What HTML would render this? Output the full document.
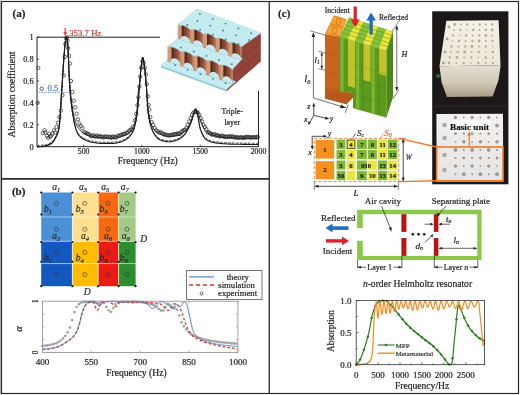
<!DOCTYPE html>
<html><head><meta charset="utf-8"><title>Figure</title>
<style>html,body{margin:0;padding:0;background:#fff;} svg{display:block;}</style></head>
<body><svg width="520" height="395" viewBox="0 0 520 395">
<rect x="0" y="0" width="520" height="395" fill="#fff"/>
<line x1="0.5" y1="0" x2="0.5" y2="395" stroke="#bbb" stroke-width="1"/>
<rect x="1.5" y="1.5" width="517" height="392" fill="none" stroke="#2a2a2a" stroke-width="1.2"/>
<line x1="269.25" y1="1" x2="269.25" y2="394" stroke="#2a2a2a" stroke-width="1.3"/>
<line x1="1" y1="178.9" x2="269.25" y2="178.9" stroke="#2a2a2a" stroke-width="1.6"/>
<text x="12.6" y="17.3" font-size="11" text-anchor="start" fill="#222" font-weight="bold" font-style="normal" font-family="'Liberation Serif', serif"  stroke="#222" stroke-width="0.2">(a)</text>
<path d="M37 146.7 L37.2 146.7 L37.5 146.7 L37.7 146.7 L37.9 146.7 L38.2 146.7 L38.4 146.7 L38.6 146.7 L38.9 146.7 L39.1 146.6 L39.3 146.6 L39.6 146.6 L39.8 146.6 L40 146.6 L40.3 146.6 L40.5 146.6 L40.7 146.5 L41 146.5 L41.2 146.5 L41.4 146.5 L41.7 146.5 L41.9 146.4 L42.1 146.4 L42.4 146.4 L42.6 146.4 L42.8 146.4 L43.1 146.3 L43.3 146.3 L43.5 146.3 L43.8 146.2 L44 146.2 L44.2 146.2 L44.5 146.2 L44.7 146.1 L44.9 146.1 L45.2 146.1 L45.4 146 L45.6 146 L45.9 145.9 L46.1 145.9 L46.3 145.8 L46.6 145.8 L46.8 145.7 L47 145.6 L47.3 145.5 L47.5 145.5 L47.7 145.4 L48 145.3 L48.2 145.2 L48.4 145.1 L48.7 145.1 L48.9 145 L49.1 144.9 L49.4 144.8 L49.6 144.6 L49.8 144.5 L50.1 144.4 L50.3 144.3 L50.5 144.1 L50.8 144 L51 143.8 L51.2 143.6 L51.5 143.5 L51.7 143.3 L51.9 143.1 L52.2 142.9 L52.4 142.6 L52.6 142.4 L52.9 142.1 L53.1 141.9 L53.3 141.5 L53.6 141.2 L53.8 140.9 L54 140.5 L54.3 140.1 L54.5 139.7 L54.7 139.3 L55 138.9 L55.2 138.5 L55.4 138 L55.7 137.6 L55.9 137.1 L56.1 136.6 L56.4 136.1 L56.6 135.7 L56.8 135.2 L57.1 134.7 L57.3 134.1 L57.5 133.6 L57.8 132.9 L58 132.3 L58.2 131.5 L58.5 130.6 L58.7 129.7 L58.9 128.7 L59.1 127.4 L59.4 125.5 L59.6 123 L59.8 120.1 L60.1 117 L60.3 113.8 L60.5 110.5 L60.8 106.9 L61 103 L61.2 99.1 L61.5 95.2 L61.7 91.5 L61.9 87.7 L62.2 84 L62.4 80.3 L62.6 76.6 L62.9 73 L63.1 69.3 L63.3 65.6 L63.6 62.1 L63.8 58.8 L64 55.8 L64.3 53 L64.5 50.1 L64.7 47.4 L65 44.9 L65.2 42.8 L65.4 41.1 L65.7 39.9 L65.9 38.9 L66.1 38 L66.4 37.4 L66.6 37.2 L66.8 37.5 L67.1 38.5 L67.3 39.9 L67.5 41.6 L67.8 44.6 L68 49.1 L68.2 53.9 L68.5 59.8 L68.7 66.1 L68.9 72 L69.2 76.7 L69.4 80.9 L69.6 84.8 L69.9 88.4 L70.1 91.6 L70.3 94.4 L70.6 97 L70.8 99.3 L71 101.5 L71.3 103.5 L71.5 105.5 L71.7 107.3 L72 109 L72.2 110.6 L72.4 112.1 L72.7 113.6 L72.9 115 L73.1 116.4 L73.4 117.9 L73.6 119.4 L73.8 120.8 L74.1 122.1 L74.3 123.1 L74.5 124.1 L74.8 125 L75 125.9 L75.2 126.8 L75.5 127.6 L75.7 128.4 L75.9 129.1 L76.2 129.9 L76.4 130.6 L76.6 131.2 L76.9 131.8 L77.1 132.4 L77.3 132.9 L77.6 133.4 L77.8 133.8 L78 134.2 L78.3 134.5 L78.5 134.8 L78.7 135.1 L79 135.4 L79.2 135.7 L79.4 135.9 L79.7 136.2 L79.9 136.4 L80.1 136.6 L80.4 136.9 L80.6 137.1 L80.8 137.3 L81.1 137.5 L81.3 137.7 L81.5 137.9 L81.8 138 L82 138.2 L82.2 138.4 L82.5 138.5 L82.7 138.7 L82.9 138.8 L83.2 139 L83.4 139.1 L83.6 139.2 L83.9 139.3 L84.1 139.5 L84.3 139.6 L84.6 139.7 L84.8 139.8 L85 139.9 L85.3 140 L85.5 140.1 L85.7 140.2 L86 140.3 L86.2 140.4 L86.4 140.5 L86.7 140.6 L86.9 140.7 L87.1 140.8 L87.4 140.9 L87.6 141 L87.8 141.1 L88.1 141.2 L88.3 141.3 L88.5 141.3 L88.8 141.4 L89 141.5 L89.2 141.6 L89.5 141.6 L89.7 141.7 L89.9 141.8 L90.2 141.8 L90.4 141.9 L90.6 142 L90.9 142 L91.1 142.1 L91.3 142.1 L91.6 142.2 L91.8 142.2 L92 142.3 L92.3 142.3 L92.5 142.3 L92.7 142.4 L93 142.4 L93.2 142.5 L93.4 142.5 L93.7 142.5 L93.9 142.6 L94.1 142.6 L94.4 142.7 L94.6 142.7 L94.8 142.7 L95.1 142.8 L95.3 142.8 L95.5 142.8 L95.8 142.9 L96 142.9 L96.2 142.9 L96.5 143 L96.7 143 L96.9 143 L97.2 143.1 L97.4 143.1 L97.6 143.1 L97.9 143.2 L98.1 143.2 L98.3 143.2 L98.6 143.2 L98.8 143.3 L99 143.3 L99.3 143.3 L99.5 143.3 L99.7 143.3 L100 143.3 L100.2 143.4 L100.4 143.4 L100.7 143.4 L100.9 143.4 L101.1 143.4 L101.4 143.4 L101.6 143.4 L101.8 143.4 L102.1 143.4 L102.3 143.4 L102.5 143.4 L102.8 143.4 L103 143.4 L103.2 143.4 L103.5 143.4 L103.7 143.4 L103.9 143.4 L104.1 143.4 L104.4 143.4 L104.6 143.4 L104.8 143.4 L105.1 143.4 L105.3 143.4 L105.5 143.4 L105.8 143.4 L106 143.4 L106.2 143.4 L106.5 143.4 L106.7 143.4 L106.9 143.4 L107.2 143.4 L107.4 143.4 L107.6 143.4 L107.9 143.4 L108.1 143.4 L108.3 143.4 L108.6 143.4 L108.8 143.4 L109 143.4 L109.3 143.4 L109.5 143.4 L109.7 143.4 L110 143.4 L110.2 143.4 L110.4 143.4 L110.7 143.4 L110.9 143.4 L111.1 143.4 L111.4 143.4 L111.6 143.4 L111.8 143.4 L112.1 143.4 L112.3 143.4 L112.5 143.4 L112.8 143.4 L113 143.4 L113.2 143.4 L113.5 143.4 L113.7 143.4 L113.9 143.4 L114.2 143.3 L114.4 143.3 L114.6 143.3 L114.9 143.3 L115.1 143.2 L115.3 143.2 L115.6 143.2 L115.8 143.1 L116 143.1 L116.3 143 L116.5 143 L116.7 143 L117 142.9 L117.2 142.9 L117.4 142.8 L117.7 142.8 L117.9 142.7 L118.1 142.7 L118.4 142.6 L118.6 142.5 L118.8 142.5 L119.1 142.4 L119.3 142.4 L119.5 142.3 L119.8 142.3 L120 142.2 L120.2 142.1 L120.5 142.1 L120.7 142 L120.9 141.9 L121.2 141.8 L121.4 141.8 L121.6 141.7 L121.9 141.6 L122.1 141.5 L122.3 141.4 L122.6 141.3 L122.8 141.2 L123 141.1 L123.3 141 L123.5 140.9 L123.7 140.7 L124 140.6 L124.2 140.5 L124.4 140.4 L124.7 140.2 L124.9 140.1 L125.1 140 L125.4 139.8 L125.6 139.7 L125.8 139.5 L126.1 139.4 L126.3 139.2 L126.5 139.1 L126.8 138.9 L127 138.8 L127.2 138.6 L127.5 138.4 L127.7 138.3 L127.9 138.1 L128.2 137.9 L128.4 137.7 L128.6 137.5 L128.9 137.3 L129.1 137 L129.3 136.8 L129.6 136.6 L129.8 136.3 L130 136 L130.3 135.7 L130.5 135.5 L130.7 135.2 L131 134.8 L131.2 134.5 L131.4 134.2 L131.7 133.8 L131.9 133.4 L132.1 133 L132.4 132.6 L132.6 132.2 L132.8 131.7 L133.1 131.3 L133.3 130.8 L133.5 130.2 L133.8 129.6 L134 128.9 L134.2 128.1 L134.5 127.3 L134.7 126.4 L134.9 125.4 L135.2 124.4 L135.4 123.3 L135.6 122.1 L135.9 120.9 L136.1 119.6 L136.3 118.3 L136.6 116.8 L136.8 115.4 L137 113.8 L137.3 112.1 L137.5 109.9 L137.7 107.5 L138 104.8 L138.2 102 L138.4 99.1 L138.7 96.1 L138.9 93.3 L139.1 90.6 L139.4 87.7 L139.6 84.6 L139.8 81.5 L140.1 78.3 L140.3 75.3 L140.5 72.5 L140.8 69.9 L141 67.7 L141.2 65.9 L141.5 64 L141.7 62.2 L141.9 60.6 L142.2 59.2 L142.4 58.1 L142.6 57.5 L142.9 57.5 L143.1 58 L143.3 59 L143.6 60.2 L143.8 61.7 L144 63.4 L144.3 65.1 L144.5 66.8 L144.7 68.5 L145 70.6 L145.2 72.8 L145.4 75.3 L145.7 77.9 L145.9 80.7 L146.1 83.6 L146.4 86.6 L146.6 89.8 L146.8 93.5 L147.1 98 L147.3 102.6 L147.5 106.7 L147.8 109.5 L148 111.4 L148.2 113.2 L148.4 114.8 L148.7 116.4 L148.9 117.8 L149.1 119.1 L149.4 120.3 L149.6 121.5 L149.8 122.5 L150.1 123.5 L150.3 124.4 L150.5 125.2 L150.8 126 L151 126.7 L151.2 127.4 L151.5 128.1 L151.7 128.7 L151.9 129.3 L152.2 129.9 L152.4 130.4 L152.6 131 L152.9 131.5 L153.1 132 L153.3 132.4 L153.6 132.9 L153.8 133.3 L154 133.7 L154.3 134.1 L154.5 134.4 L154.7 134.8 L155 135.1 L155.2 135.4 L155.4 135.7 L155.7 136 L155.9 136.3 L156.1 136.6 L156.4 136.8 L156.6 137.1 L156.8 137.3 L157.1 137.6 L157.3 137.8 L157.5 138 L157.8 138.3 L158 138.5 L158.2 138.7 L158.5 138.9 L158.7 139.1 L158.9 139.2 L159.2 139.4 L159.4 139.6 L159.6 139.7 L159.9 139.8 L160.1 139.9 L160.3 140 L160.6 140.1 L160.8 140.2 L161 140.3 L161.3 140.4 L161.5 140.4 L161.7 140.5 L162 140.6 L162.2 140.7 L162.4 140.7 L162.7 140.8 L162.9 140.9 L163.1 140.9 L163.4 141 L163.6 141.1 L163.8 141.1 L164.1 141.2 L164.3 141.2 L164.5 141.3 L164.8 141.3 L165 141.4 L165.2 141.4 L165.5 141.5 L165.7 141.5 L165.9 141.5 L166.2 141.6 L166.4 141.6 L166.6 141.6 L166.9 141.7 L167.1 141.7 L167.3 141.7 L167.6 141.7 L167.8 141.7 L168 141.8 L168.3 141.8 L168.5 141.8 L168.7 141.8 L169 141.8 L169.2 141.8 L169.4 141.8 L169.7 141.7 L169.9 141.7 L170.1 141.7 L170.4 141.7 L170.6 141.7 L170.8 141.6 L171.1 141.6 L171.3 141.6 L171.5 141.5 L171.8 141.5 L172 141.4 L172.2 141.4 L172.5 141.3 L172.7 141.3 L172.9 141.2 L173.2 141.2 L173.4 141.1 L173.6 141.1 L173.9 141 L174.1 141 L174.3 140.9 L174.6 140.8 L174.8 140.8 L175 140.7 L175.3 140.6 L175.5 140.6 L175.7 140.5 L176 140.4 L176.2 140.3 L176.4 140.3 L176.7 140.2 L176.9 140.1 L177.1 140.1 L177.4 140 L177.6 139.9 L177.8 139.8 L178.1 139.7 L178.3 139.6 L178.5 139.5 L178.8 139.3 L179 139.2 L179.2 139.1 L179.5 139 L179.7 138.8 L179.9 138.7 L180.2 138.5 L180.4 138.4 L180.6 138.2 L180.9 138 L181.1 137.9 L181.3 137.7 L181.6 137.5 L181.8 137.3 L182 137.1 L182.3 136.9 L182.5 136.7 L182.7 136.5 L183 136.3 L183.2 136.1 L183.4 135.9 L183.7 135.6 L183.9 135.4 L184.1 135.2 L184.4 134.9 L184.6 134.7 L184.8 134.4 L185.1 134.1 L185.3 133.8 L185.5 133.5 L185.8 133.1 L186 132.8 L186.2 132.4 L186.5 132 L186.7 131.6 L186.9 131.2 L187.2 130.8 L187.4 130.4 L187.6 130 L187.9 129.5 L188.1 129.1 L188.3 128.6 L188.6 128.1 L188.8 127.6 L189 127.1 L189.3 126.6 L189.5 126.1 L189.7 125.6 L190 125.1 L190.2 124.6 L190.4 124 L190.7 123.5 L190.9 122.9 L191.1 122.4 L191.4 121.7 L191.6 121 L191.8 120.3 L192.1 119.6 L192.3 118.8 L192.5 118 L192.7 117.2 L193 116.4 L193.2 115.7 L193.4 114.9 L193.7 114.2 L193.9 113.5 L194.1 112.7 L194.4 111.8 L194.6 110.9 L194.8 110.2 L195.1 109.5 L195.3 109.1 L195.5 108.9 L195.8 109.1 L196 109.5 L196.2 110.1 L196.5 110.8 L196.7 111.7 L196.9 112.6 L197.2 113.4 L197.4 114.3 L197.6 115.2 L197.9 116.3 L198.1 117.5 L198.3 118.8 L198.6 120.1 L198.8 121.5 L199 122.8 L199.3 124.2 L199.5 125.4 L199.7 126.6 L200 127.7 L200.2 128.7 L200.4 129.5 L200.7 130.1 L200.9 130.8 L201.1 131.4 L201.4 131.9 L201.6 132.5 L201.8 133 L202.1 133.6 L202.3 134.1 L202.5 134.6 L202.8 135.1 L203 135.5 L203.2 135.9 L203.5 136.4 L203.7 136.8 L203.9 137.1 L204.2 137.5 L204.4 137.8 L204.6 138.1 L204.9 138.4 L205.1 138.7 L205.3 138.9 L205.6 139.1 L205.8 139.3 L206 139.5 L206.3 139.7 L206.5 139.8 L206.7 139.9 L207 140.1 L207.2 140.2 L207.4 140.3 L207.7 140.4 L207.9 140.6 L208.1 140.7 L208.4 140.8 L208.6 140.9 L208.8 141 L209.1 141.1 L209.3 141.2 L209.5 141.3 L209.8 141.4 L210 141.5 L210.2 141.6 L210.5 141.7 L210.7 141.8 L210.9 141.8 L211.2 141.9 L211.4 142 L211.6 142.1 L211.9 142.1 L212.1 142.2 L212.3 142.3 L212.6 142.3 L212.8 142.4 L213 142.4 L213.3 142.5 L213.5 142.5 L213.7 142.6 L214 142.6 L214.2 142.7 L214.4 142.7 L214.7 142.8 L214.9 142.8 L215.1 142.9 L215.4 142.9 L215.6 142.9 L215.8 143 L216.1 143 L216.3 143 L216.5 143.1 L216.8 143.1 L217 143.1 L217.2 143.1 L217.5 143.2 L217.7 143.2 L217.9 143.2 L218.2 143.3 L218.4 143.3 L218.6 143.3 L218.9 143.3 L219.1 143.4 L219.3 143.4 L219.6 143.4 L219.8 143.4 L220 143.5 L220.3 143.5 L220.5 143.5 L220.7 143.5 L221 143.5 L221.2 143.6 L221.4 143.6 L221.7 143.6 L221.9 143.6 L222.1 143.6 L222.4 143.7 L222.6 143.7 L222.8 143.7 L223.1 143.7 L223.3 143.7 L223.5 143.8 L223.8 143.8 L224 143.8 L224.2 143.8 L224.5 143.8 L224.7 143.8 L224.9 143.8 L225.2 143.9 L225.4 143.9 L225.6 143.9 L225.9 143.9 L226.1 143.9 L226.3 143.9 L226.6 143.9 L226.8 144 L227 144 L227.3 144 L227.5 144 L227.7 144 L228 144 L228.2 144 L228.4 144 L228.7 144 L228.9 144 L229.1 144 L229.4 144.1 L229.6 144.1 L229.8 144.1 L230.1 144.1 L230.3 144.1 L230.5 144.1 L230.8 144.1 L231 144.1 L231.2 144.1 L231.5 144.1 L231.7 144.1 L231.9 144.1 L232.2 144.1 L232.4 144.1 L232.6 144.1 L232.9 144.2 L233.1 144.2 L233.3 144.2 L233.6 144.2 L233.8 144.2 L234 144.2 L234.3 144.2 L234.5 144.2 L234.7 144.2 L235 144.2 L235.2 144.2 L235.4 144.2 L235.7 144.2 L235.9 144.2 L236.1 144.2 L236.3 144.2 L236.6 144.2 L236.8 144.2 L237 144.3 L237.3 144.3 L237.5 144.3 L237.7 144.3 L238 144.3 L238.2 144.3 L238.4 144.3 L238.7 144.3 L238.9 144.3 L239.1 144.3 L239.4 144.3 L239.6 144.3 L239.8 144.3 L240.1 144.3 L240.3 144.3 L240.5 144.3 L240.8 144.3 L241 144.3 L241.2 144.3 L241.5 144.3 L241.7 144.3 L241.9 144.4 L242.2 144.4 L242.4 144.4 L242.6 144.4 L242.9 144.4 L243.1 144.4 L243.3 144.4 L243.6 144.4 L243.8 144.4 L244 144.4 L244.3 144.4 L244.5 144.4 L244.7 144.4 L245 144.4 L245.2 144.4 L245.4 144.4 L245.7 144.4 L245.9 144.4 L246.1 144.4 L246.4 144.4 L246.6 144.4 L246.8 144.4 L247.1 144.4 L247.3 144.4 L247.5 144.4 L247.8 144.4 L248 144.4 L248.2 144.4 L248.5 144.4 L248.7 144.5 L248.9 144.5 L249.2 144.5 L249.4 144.5 L249.6 144.5 L249.9 144.5 L250.1 144.5 L250.3 144.5 L250.6 144.5 L250.8 144.5 L251 144.5 L251.3 144.5 L251.5 144.5 L251.7 144.5 L252 144.5 L252.2 144.5 L252.4 144.5 L252.7 144.5 L252.9 144.5 L253.1 144.5 L253.4 144.5 L253.6 144.5 L253.8 144.5 L254.1 144.5 L254.3 144.5 L254.5 144.5 L254.8 144.5 L255 144.5 L255.2 144.5 L255.5 144.5 L255.7 144.5 L255.9 144.5 L256.2 144.5 L256.4 144.5 L256.6 144.5 L256.9 144.5 L257.1 144.5 L257.3 144.5 L257.6 144.5 L257.8 144.5 L258 144.5 L258.3 144.5 L258.5 144.5" fill="none" stroke="#1a1a1a" stroke-width="1.1" />
<path d="M37 145.4 L37.2 145.4 L37.5 145.4 L37.7 145.4 L37.9 145.4 L38.2 145.4 L38.4 145.4 L38.6 145.4 L38.9 145.3 L39.1 145.3 L39.3 145.3 L39.6 145.3 L39.8 145.3 L40 145.3 L40.3 145.3 L40.5 145.3 L40.7 145.2 L41 145.2 L41.2 145.2 L41.4 145.2 L41.7 145.2 L41.9 145.1 L42.1 145.1 L42.4 145.1 L42.6 145.1 L42.8 145.1 L43.1 145 L43.3 145 L43.5 145 L43.8 145 L44 144.9 L44.2 144.9 L44.5 144.9 L44.7 144.8 L44.9 144.8 L45.2 144.8 L45.4 144.7 L45.6 144.7 L45.9 144.6 L46.1 144.6 L46.3 144.5 L46.6 144.5 L46.8 144.4 L47 144.3 L47.3 144.3 L47.5 144.2 L47.7 144.1 L48 144 L48.2 144 L48.4 143.9 L48.7 143.8 L48.9 143.7 L49.1 143.6 L49.4 143.5 L49.6 143.4 L49.8 143.3 L50.1 143.2 L50.3 143 L50.5 142.9 L50.8 142.7 L51 142.6 L51.2 142.4 L51.5 142.3 L51.7 142.1 L51.9 141.9 L52.2 141.7 L52.4 141.5 L52.6 141.2 L52.9 141 L53.1 140.7 L53.3 140.4 L53.6 140.1 L53.8 139.8 L54 139.4 L54.3 139.1 L54.5 138.7 L54.7 138.3 L55 137.9 L55.2 137.4 L55.4 137 L55.7 136.6 L55.9 136.1 L56.1 135.7 L56.4 135.2 L56.6 134.8 L56.8 134.3 L57.1 133.8 L57.3 133.3 L57.5 132.7 L57.8 132.1 L58 131.5 L58.2 130.7 L58.5 129.9 L58.7 129 L58.9 128 L59.1 126.8 L59.4 124.9 L59.6 122.5 L59.8 119.7 L60.1 116.7 L60.3 113.7 L60.5 110.5 L60.8 106.9 L61 103 L61.2 99.1 L61.5 95.2 L61.7 91.5 L61.9 87.7 L62.2 84 L62.4 80.3 L62.6 76.6 L62.9 73 L63.1 69.3 L63.3 65.6 L63.6 62.1 L63.8 58.8 L64 55.8 L64.3 53 L64.5 50.1 L64.7 47.4 L65 44.9 L65.2 42.8 L65.4 41.1 L65.7 39.9 L65.9 38.9 L66.1 38 L66.4 37.4 L66.6 37.2 L66.8 37.5 L67.1 38.5 L67.3 39.9 L67.5 41.6 L67.8 44.6 L68 49.1 L68.2 53.9 L68.5 59.8 L68.7 66.1 L68.9 72 L69.2 76.7 L69.4 80.9 L69.6 84.8 L69.9 88.4 L70.1 91.6 L70.3 94.4 L70.6 97 L70.8 99.3 L71 101.5 L71.3 103.5 L71.5 105.5 L71.7 107.3 L72 109 L72.2 110.6 L72.4 112.1 L72.7 113.5 L72.9 114.8 L73.1 116.2 L73.4 117.6 L73.6 119 L73.8 120.4 L74.1 121.6 L74.3 122.6 L74.5 123.6 L74.8 124.5 L75 125.3 L75.2 126.2 L75.5 127 L75.7 127.7 L75.9 128.5 L76.2 129.2 L76.4 129.8 L76.6 130.5 L76.9 131 L77.1 131.6 L77.3 132.1 L77.6 132.5 L77.8 132.9 L78 133.3 L78.3 133.6 L78.5 133.9 L78.7 134.2 L79 134.5 L79.2 134.7 L79.4 135 L79.7 135.2 L79.9 135.5 L80.1 135.7 L80.4 135.9 L80.6 136.1 L80.8 136.3 L81.1 136.5 L81.3 136.7 L81.5 136.9 L81.8 137 L82 137.2 L82.2 137.4 L82.5 137.5 L82.7 137.6 L82.9 137.8 L83.2 137.9 L83.4 138.1 L83.6 138.2 L83.9 138.3 L84.1 138.4 L84.3 138.5 L84.6 138.6 L84.8 138.7 L85 138.9 L85.3 139 L85.5 139.1 L85.7 139.2 L86 139.3 L86.2 139.4 L86.4 139.5 L86.7 139.5 L86.9 139.6 L87.1 139.7 L87.4 139.8 L87.6 139.9 L87.8 140 L88.1 140.1 L88.3 140.1 L88.5 140.2 L88.8 140.3 L89 140.4 L89.2 140.4 L89.5 140.5 L89.7 140.6 L89.9 140.6 L90.2 140.7 L90.4 140.8 L90.6 140.8 L90.9 140.9 L91.1 140.9 L91.3 141 L91.6 141 L91.8 141.1 L92 141.1 L92.3 141.1 L92.5 141.2 L92.7 141.2 L93 141.3 L93.2 141.3 L93.4 141.3 L93.7 141.4 L93.9 141.4 L94.1 141.4 L94.4 141.5 L94.6 141.5 L94.8 141.6 L95.1 141.6 L95.3 141.6 L95.5 141.7 L95.8 141.7 L96 141.7 L96.2 141.8 L96.5 141.8 L96.7 141.8 L96.9 141.9 L97.2 141.9 L97.4 141.9 L97.6 141.9 L97.9 142 L98.1 142 L98.3 142 L98.6 142 L98.8 142.1 L99 142.1 L99.3 142.1 L99.5 142.1 L99.7 142.1 L100 142.2 L100.2 142.2 L100.4 142.2 L100.7 142.2 L100.9 142.2 L101.1 142.2 L101.4 142.2 L101.6 142.2 L101.8 142.2 L102.1 142.2 L102.3 142.2 L102.5 142.2 L102.8 142.2 L103 142.2 L103.2 142.2 L103.5 142.2 L103.7 142.2 L103.9 142.2 L104.1 142.2 L104.4 142.2 L104.6 142.2 L104.8 142.2 L105.1 142.2 L105.3 142.2 L105.5 142.2 L105.8 142.2 L106 142.2 L106.2 142.2 L106.5 142.2 L106.7 142.2 L106.9 142.2 L107.2 142.2 L107.4 142.2 L107.6 142.2 L107.9 142.2 L108.1 142.2 L108.3 142.2 L108.6 142.2 L108.8 142.2 L109 142.2 L109.3 142.2 L109.5 142.2 L109.7 142.2 L110 142.2 L110.2 142.2 L110.4 142.2 L110.7 142.2 L110.9 142.2 L111.1 142.2 L111.4 142.2 L111.6 142.2 L111.8 142.2 L112.1 142.2 L112.3 142.2 L112.5 142.2 L112.8 142.2 L113 142.2 L113.2 142.2 L113.5 142.2 L113.7 142.2 L113.9 142.2 L114.2 142.2 L114.4 142.1 L114.6 142.1 L114.9 142.1 L115.1 142.1 L115.3 142 L115.6 142 L115.8 141.9 L116 141.9 L116.3 141.9 L116.5 141.8 L116.7 141.8 L117 141.7 L117.2 141.7 L117.4 141.6 L117.7 141.6 L117.9 141.5 L118.1 141.5 L118.4 141.4 L118.6 141.4 L118.8 141.3 L119.1 141.3 L119.3 141.2 L119.5 141.2 L119.8 141.1 L120 141 L120.2 141 L120.5 140.9 L120.7 140.9 L120.9 140.8 L121.2 140.7 L121.4 140.6 L121.6 140.5 L121.9 140.5 L122.1 140.4 L122.3 140.3 L122.6 140.2 L122.8 140.1 L123 140 L123.3 139.9 L123.5 139.8 L123.7 139.6 L124 139.5 L124.2 139.4 L124.4 139.3 L124.7 139.2 L124.9 139 L125.1 138.9 L125.4 138.8 L125.6 138.6 L125.8 138.5 L126.1 138.3 L126.3 138.2 L126.5 138 L126.8 137.9 L127 137.7 L127.2 137.6 L127.5 137.4 L127.7 137.2 L127.9 137.1 L128.2 136.9 L128.4 136.7 L128.6 136.5 L128.9 136.3 L129.1 136.1 L129.3 135.8 L129.6 135.6 L129.8 135.4 L130 135.1 L130.3 134.8 L130.5 134.5 L130.7 134.3 L131 133.9 L131.2 133.6 L131.4 133.3 L131.7 132.9 L131.9 132.6 L132.1 132.2 L132.4 131.8 L132.6 131.4 L132.8 131 L133.1 130.5 L133.3 130.1 L133.5 129.5 L133.8 128.9 L134 128.2 L134.2 127.5 L134.5 126.7 L134.7 125.8 L134.9 124.9 L135.2 123.9 L135.4 122.8 L135.6 121.7 L135.9 120.5 L136.1 119.3 L136.3 118 L136.6 116.6 L136.8 115.2 L137 113.7 L137.3 112 L137.5 109.9 L137.7 107.5 L138 104.8 L138.2 102 L138.4 99.1 L138.7 96.1 L138.9 93.3 L139.1 90.6 L139.4 87.7 L139.6 84.6 L139.8 81.5 L140.1 78.3 L140.3 75.3 L140.5 72.5 L140.8 69.9 L141 67.7 L141.2 65.9 L141.5 64 L141.7 62.2 L141.9 60.6 L142.2 59.2 L142.4 58.1 L142.6 57.5 L142.9 57.5 L143.1 58 L143.3 59 L143.6 60.2 L143.8 61.7 L144 63.4 L144.3 65.1 L144.5 66.8 L144.7 68.5 L145 70.6 L145.2 72.8 L145.4 75.3 L145.7 77.9 L145.9 80.7 L146.1 83.6 L146.4 86.6 L146.6 89.8 L146.8 93.5 L147.1 98 L147.3 102.6 L147.5 106.7 L147.8 109.5 L148 111.3 L148.2 113.1 L148.4 114.7 L148.7 116.1 L148.9 117.5 L149.1 118.8 L149.4 120 L149.6 121.1 L149.8 122.1 L150.1 123 L150.3 123.9 L150.5 124.7 L150.8 125.4 L151 126.1 L151.2 126.8 L151.5 127.4 L151.7 128 L151.9 128.6 L152.2 129.2 L152.4 129.7 L152.6 130.2 L152.9 130.7 L153.1 131.2 L153.3 131.6 L153.6 132 L153.8 132.5 L154 132.8 L154.3 133.2 L154.5 133.6 L154.7 133.9 L155 134.2 L155.2 134.5 L155.4 134.8 L155.7 135.1 L155.9 135.4 L156.1 135.6 L156.4 135.9 L156.6 136.1 L156.8 136.4 L157.1 136.6 L157.3 136.8 L157.5 137 L157.8 137.3 L158 137.5 L158.2 137.7 L158.5 137.8 L158.7 138 L158.9 138.2 L159.2 138.4 L159.4 138.5 L159.6 138.6 L159.9 138.8 L160.1 138.9 L160.3 139 L160.6 139.1 L160.8 139.1 L161 139.2 L161.3 139.3 L161.5 139.4 L161.7 139.4 L162 139.5 L162.2 139.6 L162.4 139.6 L162.7 139.7 L162.9 139.8 L163.1 139.8 L163.4 139.9 L163.6 139.9 L163.8 140 L164.1 140.1 L164.3 140.1 L164.5 140.2 L164.8 140.2 L165 140.3 L165.2 140.3 L165.5 140.3 L165.7 140.4 L165.9 140.4 L166.2 140.4 L166.4 140.5 L166.6 140.5 L166.9 140.5 L167.1 140.6 L167.3 140.6 L167.6 140.6 L167.8 140.6 L168 140.6 L168.3 140.6 L168.5 140.6 L168.7 140.6 L169 140.6 L169.2 140.6 L169.4 140.6 L169.7 140.6 L169.9 140.6 L170.1 140.6 L170.4 140.6 L170.6 140.5 L170.8 140.5 L171.1 140.5 L171.3 140.4 L171.5 140.4 L171.8 140.4 L172 140.3 L172.2 140.3 L172.5 140.2 L172.7 140.2 L172.9 140.1 L173.2 140.1 L173.4 140 L173.6 140 L173.9 139.9 L174.1 139.8 L174.3 139.8 L174.6 139.7 L174.8 139.7 L175 139.6 L175.3 139.5 L175.5 139.5 L175.7 139.4 L176 139.3 L176.2 139.3 L176.4 139.2 L176.7 139.1 L176.9 139.1 L177.1 139 L177.4 138.9 L177.6 138.8 L177.8 138.7 L178.1 138.6 L178.3 138.5 L178.5 138.4 L178.8 138.3 L179 138.2 L179.2 138.1 L179.5 137.9 L179.7 137.8 L179.9 137.6 L180.2 137.5 L180.4 137.3 L180.6 137.2 L180.9 137 L181.1 136.9 L181.3 136.7 L181.6 136.5 L181.8 136.3 L182 136.1 L182.3 136 L182.5 135.8 L182.7 135.6 L183 135.4 L183.2 135.2 L183.4 134.9 L183.7 134.7 L183.9 134.5 L184.1 134.3 L184.4 134 L184.6 133.8 L184.8 133.5 L185.1 133.2 L185.3 132.9 L185.5 132.6 L185.8 132.3 L186 131.9 L186.2 131.6 L186.5 131.2 L186.7 130.9 L186.9 130.5 L187.2 130.1 L187.4 129.7 L187.6 129.2 L187.9 128.8 L188.1 128.4 L188.3 127.9 L188.6 127.5 L188.8 127 L189 126.5 L189.3 126 L189.5 125.6 L189.7 125.1 L190 124.6 L190.2 124 L190.4 123.5 L190.7 123 L190.9 122.5 L191.1 121.9 L191.4 121.3 L191.6 120.7 L191.8 120 L192.1 119.2 L192.3 118.5 L192.5 117.7 L192.7 117 L193 116.2 L193.2 115.5 L193.4 114.8 L193.7 114.1 L193.9 113.4 L194.1 112.6 L194.4 111.8 L194.6 110.9 L194.8 110.2 L195.1 109.5 L195.3 109.1 L195.5 108.9 L195.8 109.1 L196 109.5 L196.2 110.1 L196.5 110.8 L196.7 111.6 L196.9 112.5 L197.2 113.3 L197.4 114.1 L197.6 115.1 L197.9 116.1 L198.1 117.3 L198.3 118.5 L198.6 119.8 L198.8 121.1 L199 122.4 L199.3 123.7 L199.5 124.9 L199.7 126 L200 127.1 L200.2 128 L200.4 128.8 L200.7 129.4 L200.9 130 L201.1 130.6 L201.4 131.1 L201.6 131.7 L201.8 132.2 L202.1 132.7 L202.3 133.2 L202.5 133.7 L202.8 134.2 L203 134.6 L203.2 135 L203.5 135.4 L203.7 135.8 L203.9 136.2 L204.2 136.5 L204.4 136.8 L204.6 137.1 L204.9 137.4 L205.1 137.7 L205.3 137.9 L205.6 138.1 L205.8 138.3 L206 138.5 L206.3 138.6 L206.5 138.7 L206.7 138.9 L207 139 L207.2 139.1 L207.4 139.2 L207.7 139.4 L207.9 139.5 L208.1 139.6 L208.4 139.7 L208.6 139.8 L208.8 139.9 L209.1 140 L209.3 140.1 L209.5 140.2 L209.8 140.3 L210 140.4 L210.2 140.5 L210.5 140.5 L210.7 140.6 L210.9 140.7 L211.2 140.8 L211.4 140.8 L211.6 140.9 L211.9 141 L212.1 141 L212.3 141.1 L212.6 141.2 L212.8 141.2 L213 141.3 L213.3 141.3 L213.5 141.4 L213.7 141.4 L214 141.5 L214.2 141.5 L214.4 141.6 L214.7 141.6 L214.9 141.6 L215.1 141.7 L215.4 141.7 L215.6 141.8 L215.8 141.8 L216.1 141.8 L216.3 141.8 L216.5 141.9 L216.8 141.9 L217 141.9 L217.2 142 L217.5 142 L217.7 142 L217.9 142 L218.2 142.1 L218.4 142.1 L218.6 142.1 L218.9 142.1 L219.1 142.2 L219.3 142.2 L219.6 142.2 L219.8 142.2 L220 142.3 L220.3 142.3 L220.5 142.3 L220.7 142.3 L221 142.3 L221.2 142.4 L221.4 142.4 L221.7 142.4 L221.9 142.4 L222.1 142.4 L222.4 142.5 L222.6 142.5 L222.8 142.5 L223.1 142.5 L223.3 142.5 L223.5 142.5 L223.8 142.6 L224 142.6 L224.2 142.6 L224.5 142.6 L224.7 142.6 L224.9 142.6 L225.2 142.6 L225.4 142.7 L225.6 142.7 L225.9 142.7 L226.1 142.7 L226.3 142.7 L226.6 142.7 L226.8 142.7 L227 142.7 L227.3 142.8 L227.5 142.8 L227.7 142.8 L228 142.8 L228.2 142.8 L228.4 142.8 L228.7 142.8 L228.9 142.8 L229.1 142.8 L229.4 142.8 L229.6 142.8 L229.8 142.8 L230.1 142.9 L230.3 142.9 L230.5 142.9 L230.8 142.9 L231 142.9 L231.2 142.9 L231.5 142.9 L231.7 142.9 L231.9 142.9 L232.2 142.9 L232.4 142.9 L232.6 142.9 L232.9 142.9 L233.1 142.9 L233.3 142.9 L233.6 142.9 L233.8 143 L234 143 L234.3 143 L234.5 143 L234.7 143 L235 143 L235.2 143 L235.4 143 L235.7 143 L235.9 143 L236.1 143 L236.3 143 L236.6 143 L236.8 143 L237 143 L237.3 143 L237.5 143 L237.7 143 L238 143 L238.2 143.1 L238.4 143.1 L238.7 143.1 L238.9 143.1 L239.1 143.1 L239.4 143.1 L239.6 143.1 L239.8 143.1 L240.1 143.1 L240.3 143.1 L240.5 143.1 L240.8 143.1 L241 143.1 L241.2 143.1 L241.5 143.1 L241.7 143.1 L241.9 143.1 L242.2 143.1 L242.4 143.1 L242.6 143.1 L242.9 143.1 L243.1 143.1 L243.3 143.1 L243.6 143.1 L243.8 143.2 L244 143.2 L244.3 143.2 L244.5 143.2 L244.7 143.2 L245 143.2 L245.2 143.2 L245.4 143.2 L245.7 143.2 L245.9 143.2 L246.1 143.2 L246.4 143.2 L246.6 143.2 L246.8 143.2 L247.1 143.2 L247.3 143.2 L247.5 143.2 L247.8 143.2 L248 143.2 L248.2 143.2 L248.5 143.2 L248.7 143.2 L248.9 143.2 L249.2 143.2 L249.4 143.2 L249.6 143.2 L249.9 143.2 L250.1 143.2 L250.3 143.2 L250.6 143.2 L250.8 143.2 L251 143.2 L251.3 143.2 L251.5 143.2 L251.7 143.2 L252 143.2 L252.2 143.3 L252.4 143.3 L252.7 143.3 L252.9 143.3 L253.1 143.3 L253.4 143.3 L253.6 143.3 L253.8 143.3 L254.1 143.3 L254.3 143.3 L254.5 143.3 L254.8 143.3 L255 143.3 L255.2 143.3 L255.5 143.3 L255.7 143.3 L255.9 143.3 L256.2 143.3 L256.4 143.3 L256.6 143.3 L256.9 143.3 L257.1 143.3 L257.3 143.3 L257.6 143.3 L257.8 143.3 L258 143.3 L258.3 143.3 L258.5 143.3" fill="none" stroke="#1a1a1a" stroke-width="0.9" stroke-dasharray="2.6 1.4"/>
<path d="M37 146.7 L37.2 146.7 L37.5 146.7 L37.7 146.7 L37.9 146.7 L38.2 146.7 L38.4 146.7 L38.6 146.7 L38.9 146.7 L39.1 146.6 L39.3 146.6 L39.6 146.6 L39.8 146.6 L40 146.6 L40.3 146.6 L40.5 146.5 L40.7 146.5 L41 146.5 L41.2 146.5 L41.4 146.4 L41.7 146.4 L41.9 146.4 L42.1 146.4 L42.4 146.3 L42.6 146.3 L42.8 146.3 L43.1 146.3 L43.3 146.2 L43.5 146.2 L43.8 146.2 L44 146.1 L44.2 146.1 L44.5 146.1 L44.7 146 L44.9 146 L45.2 145.9 L45.4 145.9 L45.6 145.8 L45.9 145.8 L46.1 145.7 L46.3 145.6 L46.6 145.5 L46.8 145.5 L47 145.4 L47.3 145.3 L47.5 145.2 L47.7 145.1 L48 145 L48.2 144.9 L48.4 144.7 L48.7 144.6 L48.9 144.5 L49.1 144.4 L49.4 144.2 L49.6 144.1 L49.8 143.9 L50.1 143.8 L50.3 143.7 L50.5 143.5 L50.8 143.3 L51 143.2 L51.2 143 L51.5 142.8 L51.7 142.7 L51.9 142.5 L52.2 142.3 L52.4 142.1 L52.6 141.9 L52.9 141.7 L53.1 141.4 L53.3 141.2 L53.6 140.9 L53.8 140.6 L54 140.2 L54.3 139.9 L54.5 139.5 L54.7 139.1 L55 138.8 L55.2 138.4 L55.4 137.9 L55.7 137.5 L55.9 137.1 L56.1 136.6 L56.4 136.2 L56.6 135.7 L56.8 135.2 L57.1 134.7 L57.3 134.2 L57.5 133.6 L57.8 133 L58 132.3 L58.2 131.5 L58.5 130.7 L58.7 129.7 L58.9 128.7 L59.1 127.4 L59.4 125.5 L59.6 123 L59.8 120.1 L60.1 117 L60.3 113.8 L60.5 110.5 L60.8 106.9 L61 103 L61.2 99.1 L61.5 95.2 L61.7 91.5 L61.9 87.7 L62.2 84 L62.4 80.3 L62.6 76.6 L62.9 73 L63.1 69.3 L63.3 65.6 L63.6 62.1 L63.8 58.8 L64 55.8 L64.3 53 L64.5 50.1 L64.7 47.4 L65 44.9 L65.2 42.8 L65.4 41.1 L65.7 39.9 L65.9 38.9 L66.1 38 L66.4 37.4 L66.6 37.2 L66.8 37.6 L67.1 38.5 L67.3 39.9 L67.5 41.6 L67.8 44.3 L68 48.2 L68.2 52.7 L68.5 58.2 L68.7 64.3 L68.9 69.9 L69.2 74.4 L69.4 78.4 L69.6 82.1 L69.9 85.4 L70.1 88.4 L70.3 91 L70.6 93.4 L70.8 95.5 L71 97.5 L71.3 99.4 L71.5 101.2 L71.7 102.9 L72 104.6 L72.2 106.3 L72.4 108 L72.7 109.5 L72.9 110.9 L73.1 112.2 L73.4 113.3 L73.6 114.4 L73.8 115.4 L74.1 116.4 L74.3 117.4 L74.5 118.4 L74.8 119.3 L75 120.2 L75.2 121 L75.5 121.8 L75.7 122.6 L75.9 123.3 L76.2 123.9 L76.4 124.5 L76.6 125.1 L76.9 125.6 L77.1 126 L77.3 126.4 L77.6 126.8 L77.8 127.1 L78 127.5 L78.3 127.8 L78.5 128.1 L78.7 128.4 L79 128.7 L79.2 129 L79.4 129.3 L79.7 129.6 L79.9 129.8 L80.1 130.1 L80.4 130.3 L80.6 130.5 L80.8 130.7 L81.1 131 L81.3 131.2 L81.5 131.4 L81.8 131.6 L82 131.7 L82.2 131.9 L82.5 132.1 L82.7 132.3 L82.9 132.4 L83.2 132.6 L83.4 132.7 L83.6 132.9 L83.9 133.1 L84.1 133.2 L84.3 133.3 L84.6 133.5 L84.8 133.6 L85 133.8 L85.3 133.9 L85.5 134 L85.7 134.2 L86 134.3 L86.2 134.4 L86.4 134.5 L86.7 134.7 L86.9 134.8 L87.1 134.9 L87.4 135 L87.6 135.1 L87.8 135.3 L88.1 135.4 L88.3 135.5 L88.5 135.6 L88.8 135.7 L89 135.8 L89.2 135.9 L89.5 136 L89.7 136.1 L89.9 136.1 L90.2 136.2 L90.4 136.3 L90.6 136.4 L90.9 136.5 L91.1 136.5 L91.3 136.6 L91.6 136.7 L91.8 136.7 L92 136.8 L92.3 136.8 L92.5 136.9 L92.7 136.9 L93 137 L93.2 137 L93.4 137.1 L93.7 137.1 L93.9 137.1 L94.1 137.2 L94.4 137.2 L94.6 137.3 L94.8 137.3 L95.1 137.4 L95.3 137.4 L95.5 137.4 L95.8 137.5 L96 137.5 L96.2 137.5 L96.5 137.6 L96.7 137.6 L96.9 137.6 L97.2 137.7 L97.4 137.7 L97.6 137.7 L97.9 137.8 L98.1 137.8 L98.3 137.8 L98.6 137.8 L98.8 137.9 L99 137.9 L99.3 137.9 L99.5 137.9 L99.7 138 L100 138 L100.2 138 L100.4 138 L100.7 138.1 L100.9 138.1 L101.1 138.1 L101.4 138.1 L101.6 138.1 L101.8 138.1 L102.1 138.2 L102.3 138.2 L102.5 138.2 L102.8 138.2 L103 138.2 L103.2 138.2 L103.5 138.3 L103.7 138.3 L103.9 138.3 L104.1 138.3 L104.4 138.3 L104.6 138.3 L104.8 138.3 L105.1 138.4 L105.3 138.4 L105.5 138.4 L105.8 138.4 L106 138.4 L106.2 138.4 L106.5 138.4 L106.7 138.4 L106.9 138.4 L107.2 138.4 L107.4 138.5 L107.6 138.5 L107.9 138.5 L108.1 138.5 L108.3 138.5 L108.6 138.5 L108.8 138.5 L109 138.5 L109.3 138.5 L109.5 138.5 L109.7 138.5 L110 138.5 L110.2 138.5 L110.4 138.5 L110.7 138.5 L110.9 138.5 L111.1 138.4 L111.4 138.4 L111.6 138.4 L111.8 138.4 L112.1 138.4 L112.3 138.4 L112.5 138.4 L112.8 138.3 L113 138.3 L113.2 138.3 L113.5 138.3 L113.7 138.3 L113.9 138.3 L114.2 138.2 L114.4 138.2 L114.6 138.2 L114.9 138.2 L115.1 138.1 L115.3 138.1 L115.6 138.1 L115.8 138.1 L116 138 L116.3 138 L116.5 138 L116.7 137.9 L117 137.9 L117.2 137.8 L117.4 137.8 L117.7 137.7 L117.9 137.7 L118.1 137.6 L118.4 137.5 L118.6 137.5 L118.8 137.4 L119.1 137.3 L119.3 137.3 L119.5 137.2 L119.8 137.1 L120 137.1 L120.2 137 L120.5 136.9 L120.7 136.8 L120.9 136.8 L121.2 136.7 L121.4 136.6 L121.6 136.5 L121.9 136.4 L122.1 136.4 L122.3 136.3 L122.6 136.2 L122.8 136.1 L123 136 L123.3 135.9 L123.5 135.9 L123.7 135.8 L124 135.7 L124.2 135.6 L124.4 135.5 L124.7 135.4 L124.9 135.3 L125.1 135.2 L125.4 135.1 L125.6 135 L125.8 134.9 L126.1 134.8 L126.3 134.7 L126.5 134.5 L126.8 134.4 L127 134.3 L127.2 134.1 L127.5 134 L127.7 133.9 L127.9 133.7 L128.2 133.6 L128.4 133.4 L128.6 133.2 L128.9 133.1 L129.1 132.9 L129.3 132.7 L129.6 132.5 L129.8 132.3 L130 132.1 L130.3 131.9 L130.5 131.7 L130.7 131.4 L131 131.1 L131.2 130.8 L131.4 130.5 L131.7 130.1 L131.9 129.7 L132.1 129.2 L132.4 128.8 L132.6 128.3 L132.8 127.8 L133.1 127.2 L133.3 126.7 L133.5 126.1 L133.8 125.4 L134 124.8 L134.2 124.1 L134.5 123.4 L134.7 122.6 L134.9 121.7 L135.2 120.7 L135.4 119.7 L135.6 118.5 L135.9 117.3 L136.1 116 L136.3 114.6 L136.6 113.1 L136.8 111.5 L137 109.8 L137.3 107.5 L137.5 104.4 L137.7 100.9 L138 97.2 L138.2 93.7 L138.4 90.9 L138.7 88.8 L138.9 87.3 L139.1 86 L139.4 84.7 L139.6 83.4 L139.8 81.9 L140.1 79.9 L140.3 77.2 L140.5 74 L140.8 70.9 L141 68.2 L141.2 66.1 L141.5 64.2 L141.7 62.3 L141.9 60.6 L142.2 59.2 L142.4 58.1 L142.6 57.5 L142.9 57.5 L143.1 58.1 L143.3 59 L143.6 60.4 L143.8 61.9 L144 63.6 L144.3 65.4 L144.5 67.1 L144.7 68.8 L145 70.8 L145.2 72.9 L145.4 75.2 L145.7 77.7 L145.9 80.3 L146.1 82.9 L146.4 85.7 L146.6 89 L146.8 92.5 L147.1 95.9 L147.3 98.9 L147.5 101.9 L147.8 104.8 L148 107.5 L148.2 109.7 L148.4 111.4 L148.7 112.9 L148.9 114.4 L149.1 115.8 L149.4 117.1 L149.6 118.3 L149.8 119.5 L150.1 120.5 L150.3 121.5 L150.5 122.4 L150.8 123.2 L151 123.9 L151.2 124.5 L151.5 125 L151.7 125.5 L151.9 125.9 L152.2 126.4 L152.4 126.8 L152.6 127.2 L152.9 127.6 L153.1 127.9 L153.3 128.3 L153.6 128.6 L153.8 128.9 L154 129.3 L154.3 129.5 L154.5 129.8 L154.7 130.1 L155 130.4 L155.2 130.6 L155.4 130.8 L155.7 131.1 L155.9 131.3 L156.1 131.5 L156.4 131.7 L156.6 131.8 L156.8 132 L157.1 132.2 L157.3 132.3 L157.5 132.5 L157.8 132.6 L158 132.8 L158.2 132.9 L158.5 133.1 L158.7 133.2 L158.9 133.3 L159.2 133.5 L159.4 133.6 L159.6 133.7 L159.9 133.8 L160.1 133.9 L160.3 134 L160.6 134.2 L160.8 134.3 L161 134.4 L161.3 134.5 L161.5 134.6 L161.7 134.6 L162 134.7 L162.2 134.8 L162.4 134.9 L162.7 135 L162.9 135.1 L163.1 135.1 L163.4 135.2 L163.6 135.3 L163.8 135.4 L164.1 135.4 L164.3 135.5 L164.5 135.6 L164.8 135.6 L165 135.7 L165.2 135.8 L165.5 135.8 L165.7 135.9 L165.9 135.9 L166.2 136 L166.4 136 L166.6 136.1 L166.9 136.2 L167.1 136.2 L167.3 136.3 L167.6 136.3 L167.8 136.4 L168 136.4 L168.3 136.5 L168.5 136.5 L168.7 136.5 L169 136.6 L169.2 136.6 L169.4 136.6 L169.7 136.6 L169.9 136.6 L170.1 136.6 L170.4 136.6 L170.6 136.6 L170.8 136.6 L171.1 136.6 L171.3 136.6 L171.5 136.6 L171.8 136.6 L172 136.5 L172.2 136.5 L172.5 136.5 L172.7 136.5 L172.9 136.4 L173.2 136.4 L173.4 136.4 L173.6 136.3 L173.9 136.3 L174.1 136.3 L174.3 136.2 L174.6 136.2 L174.8 136.2 L175 136.1 L175.3 136.1 L175.5 136 L175.7 136 L176 136 L176.2 135.9 L176.4 135.9 L176.7 135.8 L176.9 135.8 L177.1 135.7 L177.4 135.7 L177.6 135.6 L177.8 135.5 L178.1 135.5 L178.3 135.4 L178.5 135.3 L178.8 135.2 L179 135.1 L179.2 135 L179.5 134.9 L179.7 134.8 L179.9 134.7 L180.2 134.6 L180.4 134.4 L180.6 134.3 L180.9 134.2 L181.1 134 L181.3 133.9 L181.6 133.8 L181.8 133.6 L182 133.5 L182.3 133.3 L182.5 133.2 L182.7 133 L183 132.9 L183.2 132.7 L183.4 132.5 L183.7 132.4 L183.9 132.2 L184.1 132 L184.4 131.8 L184.6 131.6 L184.8 131.4 L185.1 131.2 L185.3 130.9 L185.5 130.7 L185.8 130.4 L186 130.2 L186.2 129.9 L186.5 129.7 L186.7 129.4 L186.9 129.1 L187.2 128.8 L187.4 128.5 L187.6 128.2 L187.9 127.9 L188.1 127.5 L188.3 127.2 L188.6 126.8 L188.8 126.3 L189 125.8 L189.3 125.3 L189.5 124.7 L189.7 124.1 L190 123.5 L190.2 122.9 L190.4 122.3 L190.7 121.7 L190.9 121.1 L191.1 120.5 L191.4 119.9 L191.6 119.3 L191.8 118.8 L192.1 118.2 L192.3 117.7 L192.5 117.1 L192.7 116.5 L193 115.9 L193.2 115.3 L193.4 114.6 L193.7 114 L193.9 113.4 L194.1 112.9 L194.4 112.4 L194.6 112 L194.8 111.6 L195.1 111.3 L195.3 111.2 L195.5 111.1 L195.8 111.1 L196 111.2 L196.2 111.2 L196.5 111.3 L196.7 111.4 L196.9 111.5 L197.2 111.6 L197.4 111.7 L197.6 112 L197.9 112.4 L198.1 112.9 L198.3 113.5 L198.6 114.2 L198.8 114.9 L199 115.7 L199.3 116.5 L199.5 117.2 L199.7 118 L200 118.7 L200.2 119.3 L200.4 119.9 L200.7 120.5 L200.9 121.2 L201.1 121.8 L201.4 122.4 L201.6 123.1 L201.8 123.7 L202.1 124.3 L202.3 124.9 L202.5 125.5 L202.8 126.1 L203 126.6 L203.2 127.1 L203.5 127.6 L203.7 128.1 L203.9 128.5 L204.2 129 L204.4 129.4 L204.6 129.8 L204.9 130.2 L205.1 130.6 L205.3 131 L205.6 131.3 L205.8 131.6 L206 131.8 L206.3 132 L206.5 132.2 L206.7 132.4 L207 132.5 L207.2 132.7 L207.4 132.9 L207.7 133 L207.9 133.2 L208.1 133.3 L208.4 133.5 L208.6 133.6 L208.8 133.7 L209.1 133.9 L209.3 134 L209.5 134.1 L209.8 134.2 L210 134.3 L210.2 134.5 L210.5 134.6 L210.7 134.7 L210.9 134.8 L211.2 134.9 L211.4 135 L211.6 135.1 L211.9 135.2 L212.1 135.2 L212.3 135.3 L212.6 135.4 L212.8 135.5 L213 135.6 L213.3 135.6 L213.5 135.7 L213.7 135.8 L214 135.8 L214.2 135.9 L214.4 136 L214.7 136 L214.9 136.1 L215.1 136.1 L215.4 136.2 L215.6 136.2 L215.8 136.3 L216.1 136.3 L216.3 136.4 L216.5 136.4 L216.8 136.5 L217 136.5 L217.2 136.5 L217.5 136.6 L217.7 136.6 L217.9 136.7 L218.2 136.7 L218.4 136.7 L218.6 136.8 L218.9 136.8 L219.1 136.8 L219.3 136.9 L219.6 136.9 L219.8 137 L220 137 L220.3 137 L220.5 137.1 L220.7 137.1 L221 137.1 L221.2 137.1 L221.4 137.2 L221.7 137.2 L221.9 137.2 L222.1 137.3 L222.4 137.3 L222.6 137.3 L222.8 137.4 L223.1 137.4 L223.3 137.4 L223.5 137.4 L223.8 137.5 L224 137.5 L224.2 137.5 L224.5 137.5 L224.7 137.6 L224.9 137.6 L225.2 137.6 L225.4 137.6 L225.6 137.6 L225.9 137.7 L226.1 137.7 L226.3 137.7 L226.6 137.7 L226.8 137.7 L227 137.8 L227.3 137.8 L227.5 137.8 L227.7 137.8 L228 137.8 L228.2 137.8 L228.4 137.9 L228.7 137.9 L228.9 137.9 L229.1 137.9 L229.4 137.9 L229.6 137.9 L229.8 137.9 L230.1 137.9 L230.3 138 L230.5 138 L230.8 138 L231 138 L231.2 138 L231.5 138 L231.7 138 L231.9 138 L232.2 138.1 L232.4 138.1 L232.6 138.1 L232.9 138.1 L233.1 138.1 L233.3 138.1 L233.6 138.1 L233.8 138.1 L234 138.1 L234.3 138.2 L234.5 138.2 L234.7 138.2 L235 138.2 L235.2 138.2 L235.4 138.2 L235.7 138.2 L235.9 138.2 L236.1 138.2 L236.3 138.2 L236.6 138.3 L236.8 138.3 L237 138.3 L237.3 138.3 L237.5 138.3 L237.7 138.3 L238 138.3 L238.2 138.3 L238.4 138.3 L238.7 138.3 L238.9 138.3 L239.1 138.3 L239.4 138.4 L239.6 138.4 L239.8 138.4 L240.1 138.4 L240.3 138.4 L240.5 138.4 L240.8 138.4 L241 138.4 L241.2 138.4 L241.5 138.4 L241.7 138.4 L241.9 138.4 L242.2 138.4 L242.4 138.4 L242.6 138.4 L242.9 138.4 L243.1 138.5 L243.3 138.5 L243.6 138.5 L243.8 138.5 L244 138.5 L244.3 138.5 L244.5 138.5 L244.7 138.5 L245 138.5 L245.2 138.5 L245.4 138.5 L245.7 138.5 L245.9 138.5 L246.1 138.5 L246.4 138.5 L246.6 138.5 L246.8 138.5 L247.1 138.5 L247.3 138.5 L247.5 138.5 L247.8 138.5 L248 138.5 L248.2 138.5 L248.5 138.5 L248.7 138.5 L248.9 138.5 L249.2 138.5 L249.4 138.5 L249.6 138.5 L249.9 138.5 L250.1 138.5 L250.3 138.5 L250.6 138.5 L250.8 138.5 L251 138.5 L251.3 138.5 L251.5 138.5 L251.7 138.5 L252 138.5 L252.2 138.5 L252.4 138.5 L252.7 138.5 L252.9 138.5 L253.1 138.5 L253.4 138.5 L253.6 138.5 L253.8 138.5 L254.1 138.5 L254.3 138.5 L254.5 138.5 L254.8 138.5 L255 138.5 L255.2 138.5 L255.5 138.5 L255.7 138.5 L255.9 138.5 L256.2 138.5 L256.4 138.5 L256.6 138.5 L256.9 138.5 L257.1 138.5 L257.3 138.5 L257.6 138.5 L257.8 138.5 L258 138.5 L258.3 138.5 L258.5 138.5" fill="none" stroke="#1a1a1a" stroke-width="1.0" />
<circle cx="38.2" cy="67.9" r="1.7" fill="none" stroke="#222" stroke-width="0.7"/>
<circle cx="41.7" cy="88.7" r="1.7" fill="none" stroke="#222" stroke-width="0.7"/>
<circle cx="37.6" cy="102.9" r="1.7" fill="none" stroke="#222" stroke-width="0.7"/>
<circle cx="42.8" cy="133" r="1.7" fill="none" stroke="#222" stroke-width="0.7"/>
<circle cx="44.6" cy="130.3" r="1.7" fill="none" stroke="#222" stroke-width="0.7"/>
<circle cx="45.4" cy="132.5" r="1.7" fill="none" stroke="#222" stroke-width="0.7"/>
<circle cx="46.9" cy="135.8" r="1.7" fill="none" stroke="#222" stroke-width="0.7"/>
<circle cx="48.1" cy="137.9" r="1.7" fill="none" stroke="#222" stroke-width="0.7"/>
<circle cx="49.2" cy="133.6" r="1.7" fill="none" stroke="#222" stroke-width="0.7"/>
<circle cx="50.1" cy="136.8" r="1.7" fill="none" stroke="#222" stroke-width="0.7"/>
<circle cx="51.2" cy="135.8" r="1.7" fill="none" stroke="#222" stroke-width="0.7"/>
<circle cx="52.4" cy="133.6" r="1.7" fill="none" stroke="#222" stroke-width="0.7"/>
<circle cx="53.9" cy="130.3" r="1.7" fill="none" stroke="#222" stroke-width="0.7"/>
<circle cx="55.2" cy="132.5" r="1.7" fill="none" stroke="#222" stroke-width="0.7"/>
<circle cx="56.4" cy="127" r="1.7" fill="none" stroke="#222" stroke-width="0.7"/>
<circle cx="58" cy="122.6" r="1.7" fill="none" stroke="#222" stroke-width="0.7"/>
<circle cx="59.4" cy="117.1" r="1.7" fill="none" stroke="#222" stroke-width="0.7"/>
<circle cx="60.9" cy="110.6" r="1.7" fill="none" stroke="#222" stroke-width="0.7"/>
<circle cx="62.4" cy="95.2" r="1.7" fill="none" stroke="#222" stroke-width="0.7"/>
<circle cx="63.8" cy="75.5" r="1.7" fill="none" stroke="#222" stroke-width="0.7"/>
<circle cx="64.7" cy="56.9" r="1.7" fill="none" stroke="#222" stroke-width="0.7"/>
<circle cx="65.4" cy="43.8" r="1.7" fill="none" stroke="#222" stroke-width="0.7"/>
<circle cx="66.1" cy="38.3" r="1.7" fill="none" stroke="#222" stroke-width="0.7"/>
<circle cx="66.8" cy="37.2" r="1.7" fill="none" stroke="#222" stroke-width="0.7"/>
<circle cx="67.5" cy="40.5" r="1.7" fill="none" stroke="#222" stroke-width="0.7"/>
<circle cx="68.2" cy="48.2" r="1.7" fill="none" stroke="#222" stroke-width="0.7"/>
<circle cx="69.1" cy="55.8" r="1.7" fill="none" stroke="#222" stroke-width="0.7"/>
<circle cx="69.9" cy="63.5" r="1.7" fill="none" stroke="#222" stroke-width="0.7"/>
<circle cx="71" cy="81" r="1.7" fill="none" stroke="#222" stroke-width="0.7"/>
<circle cx="72.4" cy="91.9" r="1.7" fill="none" stroke="#222" stroke-width="0.7"/>
<circle cx="73.8" cy="100.7" r="1.7" fill="none" stroke="#222" stroke-width="0.7"/>
<circle cx="75.2" cy="107.3" r="1.7" fill="none" stroke="#222" stroke-width="0.7"/>
<circle cx="76.6" cy="113.8" r="1.7" fill="none" stroke="#222" stroke-width="0.7"/>
<circle cx="78" cy="119.3" r="1.7" fill="none" stroke="#222" stroke-width="0.7"/>
<circle cx="79.4" cy="123.7" r="1.7" fill="none" stroke="#222" stroke-width="0.7"/>
<circle cx="80.8" cy="125.9" r="1.7" fill="none" stroke="#222" stroke-width="0.7"/>
<circle cx="82.5" cy="128.1" r="1.7" fill="none" stroke="#222" stroke-width="0.7"/>
<circle cx="84.2" cy="132.4" r="1.7" fill="none" stroke="#222" stroke-width="0.7"/>
<circle cx="85.5" cy="132.6" r="1.7" fill="none" stroke="#222" stroke-width="0.7"/>
<circle cx="86.8" cy="133.6" r="1.7" fill="none" stroke="#222" stroke-width="0.7"/>
<circle cx="88.1" cy="133.9" r="1.7" fill="none" stroke="#222" stroke-width="0.7"/>
<circle cx="89.3" cy="134.4" r="1.7" fill="none" stroke="#222" stroke-width="0.7"/>
<circle cx="90.6" cy="135.8" r="1.7" fill="none" stroke="#222" stroke-width="0.7"/>
<circle cx="91.9" cy="136.3" r="1.7" fill="none" stroke="#222" stroke-width="0.7"/>
<circle cx="93.2" cy="135.1" r="1.7" fill="none" stroke="#222" stroke-width="0.7"/>
<circle cx="94.5" cy="136.4" r="1.7" fill="none" stroke="#222" stroke-width="0.7"/>
<circle cx="95.8" cy="136.6" r="1.7" fill="none" stroke="#222" stroke-width="0.7"/>
<circle cx="97" cy="135.5" r="1.7" fill="none" stroke="#222" stroke-width="0.7"/>
<circle cx="98.3" cy="136.6" r="1.7" fill="none" stroke="#222" stroke-width="0.7"/>
<circle cx="99.6" cy="136.1" r="1.7" fill="none" stroke="#222" stroke-width="0.7"/>
<circle cx="100.9" cy="136.8" r="1.7" fill="none" stroke="#222" stroke-width="0.7"/>
<circle cx="102.2" cy="136.6" r="1.7" fill="none" stroke="#222" stroke-width="0.7"/>
<circle cx="103.5" cy="137.5" r="1.7" fill="none" stroke="#222" stroke-width="0.7"/>
<circle cx="104.7" cy="136.8" r="1.7" fill="none" stroke="#222" stroke-width="0.7"/>
<circle cx="106" cy="136.4" r="1.7" fill="none" stroke="#222" stroke-width="0.7"/>
<circle cx="107.3" cy="137.1" r="1.7" fill="none" stroke="#222" stroke-width="0.7"/>
<circle cx="108.6" cy="136.7" r="1.7" fill="none" stroke="#222" stroke-width="0.7"/>
<circle cx="109.9" cy="136.9" r="1.7" fill="none" stroke="#222" stroke-width="0.7"/>
<circle cx="111.1" cy="137.9" r="1.7" fill="none" stroke="#222" stroke-width="0.7"/>
<circle cx="112.4" cy="136.6" r="1.7" fill="none" stroke="#222" stroke-width="0.7"/>
<circle cx="113.7" cy="136.8" r="1.7" fill="none" stroke="#222" stroke-width="0.7"/>
<circle cx="115" cy="137.2" r="1.7" fill="none" stroke="#222" stroke-width="0.7"/>
<circle cx="116.3" cy="137.5" r="1.7" fill="none" stroke="#222" stroke-width="0.7"/>
<circle cx="117.6" cy="135.8" r="1.7" fill="none" stroke="#222" stroke-width="0.7"/>
<circle cx="118.8" cy="136.1" r="1.7" fill="none" stroke="#222" stroke-width="0.7"/>
<circle cx="120.1" cy="135.3" r="1.7" fill="none" stroke="#222" stroke-width="0.7"/>
<circle cx="121.4" cy="134.6" r="1.7" fill="none" stroke="#222" stroke-width="0.7"/>
<circle cx="122.7" cy="134.5" r="1.7" fill="none" stroke="#222" stroke-width="0.7"/>
<circle cx="124" cy="133.6" r="1.7" fill="none" stroke="#222" stroke-width="0.7"/>
<circle cx="125.3" cy="134" r="1.7" fill="none" stroke="#222" stroke-width="0.7"/>
<circle cx="126.5" cy="132.7" r="1.7" fill="none" stroke="#222" stroke-width="0.7"/>
<circle cx="127.8" cy="132.6" r="1.7" fill="none" stroke="#222" stroke-width="0.7"/>
<circle cx="129.1" cy="130.8" r="1.7" fill="none" stroke="#222" stroke-width="0.7"/>
<circle cx="130.4" cy="129.8" r="1.7" fill="none" stroke="#222" stroke-width="0.7"/>
<circle cx="131.7" cy="129.5" r="1.7" fill="none" stroke="#222" stroke-width="0.7"/>
<circle cx="132.9" cy="126.8" r="1.7" fill="none" stroke="#222" stroke-width="0.7"/>
<circle cx="134.9" cy="120.4" r="1.7" fill="none" stroke="#222" stroke-width="0.7"/>
<circle cx="136.3" cy="113.8" r="1.7" fill="none" stroke="#222" stroke-width="0.7"/>
<circle cx="137.5" cy="105.1" r="1.7" fill="none" stroke="#222" stroke-width="0.7"/>
<circle cx="138.4" cy="97.4" r="1.7" fill="none" stroke="#222" stroke-width="0.7"/>
<circle cx="139.4" cy="86.5" r="1.7" fill="none" stroke="#222" stroke-width="0.7"/>
<circle cx="140.2" cy="76.6" r="1.7" fill="none" stroke="#222" stroke-width="0.7"/>
<circle cx="141.2" cy="67.9" r="1.7" fill="none" stroke="#222" stroke-width="0.7"/>
<circle cx="142.4" cy="61.3" r="1.7" fill="none" stroke="#222" stroke-width="0.7"/>
<circle cx="143.6" cy="63.5" r="1.7" fill="none" stroke="#222" stroke-width="0.7"/>
<circle cx="144.8" cy="67.9" r="1.7" fill="none" stroke="#222" stroke-width="0.7"/>
<circle cx="145.9" cy="74.4" r="1.7" fill="none" stroke="#222" stroke-width="0.7"/>
<circle cx="146.8" cy="84.3" r="1.7" fill="none" stroke="#222" stroke-width="0.7"/>
<circle cx="147.8" cy="96.3" r="1.7" fill="none" stroke="#222" stroke-width="0.7"/>
<circle cx="148.7" cy="105.1" r="1.7" fill="none" stroke="#222" stroke-width="0.7"/>
<circle cx="149.4" cy="109.5" r="1.7" fill="none" stroke="#222" stroke-width="0.7"/>
<circle cx="150.3" cy="117.1" r="1.7" fill="none" stroke="#222" stroke-width="0.7"/>
<circle cx="151.7" cy="122.1" r="1.7" fill="none" stroke="#222" stroke-width="0.7"/>
<circle cx="153.2" cy="124.8" r="1.7" fill="none" stroke="#222" stroke-width="0.7"/>
<circle cx="154.7" cy="128.1" r="1.7" fill="none" stroke="#222" stroke-width="0.7"/>
<circle cx="156.3" cy="130.3" r="1.7" fill="none" stroke="#222" stroke-width="0.7"/>
<circle cx="157.8" cy="131.4" r="1.7" fill="none" stroke="#222" stroke-width="0.7"/>
<circle cx="159.4" cy="132.8" r="1.7" fill="none" stroke="#222" stroke-width="0.7"/>
<circle cx="160.7" cy="132.1" r="1.7" fill="none" stroke="#222" stroke-width="0.7"/>
<circle cx="162" cy="133.5" r="1.7" fill="none" stroke="#222" stroke-width="0.7"/>
<circle cx="163.3" cy="133.7" r="1.7" fill="none" stroke="#222" stroke-width="0.7"/>
<circle cx="164.5" cy="134.6" r="1.7" fill="none" stroke="#222" stroke-width="0.7"/>
<circle cx="165.8" cy="134.6" r="1.7" fill="none" stroke="#222" stroke-width="0.7"/>
<circle cx="167.1" cy="135.1" r="1.7" fill="none" stroke="#222" stroke-width="0.7"/>
<circle cx="168.4" cy="135.4" r="1.7" fill="none" stroke="#222" stroke-width="0.7"/>
<circle cx="169.7" cy="135.2" r="1.7" fill="none" stroke="#222" stroke-width="0.7"/>
<circle cx="170.9" cy="135.1" r="1.7" fill="none" stroke="#222" stroke-width="0.7"/>
<circle cx="172.2" cy="134.5" r="1.7" fill="none" stroke="#222" stroke-width="0.7"/>
<circle cx="173.5" cy="134.7" r="1.7" fill="none" stroke="#222" stroke-width="0.7"/>
<circle cx="174.8" cy="134.1" r="1.7" fill="none" stroke="#222" stroke-width="0.7"/>
<circle cx="176.1" cy="134" r="1.7" fill="none" stroke="#222" stroke-width="0.7"/>
<circle cx="177.4" cy="133.5" r="1.7" fill="none" stroke="#222" stroke-width="0.7"/>
<circle cx="178.6" cy="133.6" r="1.7" fill="none" stroke="#222" stroke-width="0.7"/>
<circle cx="179.9" cy="134" r="1.7" fill="none" stroke="#222" stroke-width="0.7"/>
<circle cx="181.2" cy="132" r="1.7" fill="none" stroke="#222" stroke-width="0.7"/>
<circle cx="182.5" cy="131" r="1.7" fill="none" stroke="#222" stroke-width="0.7"/>
<circle cx="183.8" cy="130.2" r="1.7" fill="none" stroke="#222" stroke-width="0.7"/>
<circle cx="185.1" cy="129.7" r="1.7" fill="none" stroke="#222" stroke-width="0.7"/>
<circle cx="186.3" cy="128.1" r="1.7" fill="none" stroke="#222" stroke-width="0.7"/>
<circle cx="187.6" cy="124.8" r="1.7" fill="none" stroke="#222" stroke-width="0.7"/>
<circle cx="189.1" cy="121.5" r="1.7" fill="none" stroke="#222" stroke-width="0.7"/>
<circle cx="190.7" cy="118.2" r="1.7" fill="none" stroke="#222" stroke-width="0.7"/>
<circle cx="192.1" cy="114.9" r="1.7" fill="none" stroke="#222" stroke-width="0.7"/>
<circle cx="193.4" cy="112.8" r="1.7" fill="none" stroke="#222" stroke-width="0.7"/>
<circle cx="195" cy="111.7" r="1.7" fill="none" stroke="#222" stroke-width="0.7"/>
<circle cx="196.5" cy="111.7" r="1.7" fill="none" stroke="#222" stroke-width="0.7"/>
<circle cx="197.9" cy="112.8" r="1.7" fill="none" stroke="#222" stroke-width="0.7"/>
<circle cx="199.3" cy="114.9" r="1.7" fill="none" stroke="#222" stroke-width="0.7"/>
<circle cx="200.7" cy="118.2" r="1.7" fill="none" stroke="#222" stroke-width="0.7"/>
<circle cx="202.1" cy="121.5" r="1.7" fill="none" stroke="#222" stroke-width="0.7"/>
<circle cx="203.5" cy="124.8" r="1.7" fill="none" stroke="#222" stroke-width="0.7"/>
<circle cx="204.9" cy="127" r="1.7" fill="none" stroke="#222" stroke-width="0.7"/>
<circle cx="206.3" cy="129.2" r="1.7" fill="none" stroke="#222" stroke-width="0.7"/>
<circle cx="207.8" cy="132.4" r="1.7" fill="none" stroke="#222" stroke-width="0.7"/>
<circle cx="209" cy="132.3" r="1.7" fill="none" stroke="#222" stroke-width="0.7"/>
<circle cx="210.1" cy="133.2" r="1.7" fill="none" stroke="#222" stroke-width="0.7"/>
<circle cx="211.3" cy="134.1" r="1.7" fill="none" stroke="#222" stroke-width="0.7"/>
<circle cx="212.5" cy="134.8" r="1.7" fill="none" stroke="#222" stroke-width="0.7"/>
<circle cx="213.6" cy="134.2" r="1.7" fill="none" stroke="#222" stroke-width="0.7"/>
<circle cx="214.8" cy="134.3" r="1.7" fill="none" stroke="#222" stroke-width="0.7"/>
<circle cx="215.9" cy="135.7" r="1.7" fill="none" stroke="#222" stroke-width="0.7"/>
<circle cx="217.1" cy="135" r="1.7" fill="none" stroke="#222" stroke-width="0.7"/>
<circle cx="218.3" cy="135.7" r="1.7" fill="none" stroke="#222" stroke-width="0.7"/>
<circle cx="219.4" cy="136.3" r="1.7" fill="none" stroke="#222" stroke-width="0.7"/>
<circle cx="220.6" cy="136.2" r="1.7" fill="none" stroke="#222" stroke-width="0.7"/>
<circle cx="221.8" cy="135.8" r="1.7" fill="none" stroke="#222" stroke-width="0.7"/>
<circle cx="222.9" cy="135.8" r="1.7" fill="none" stroke="#222" stroke-width="0.7"/>
<circle cx="224.1" cy="137" r="1.7" fill="none" stroke="#222" stroke-width="0.7"/>
<circle cx="225.3" cy="136.4" r="1.7" fill="none" stroke="#222" stroke-width="0.7"/>
<circle cx="226.4" cy="137.2" r="1.7" fill="none" stroke="#222" stroke-width="0.7"/>
<circle cx="227.6" cy="136.4" r="1.7" fill="none" stroke="#222" stroke-width="0.7"/>
<circle cx="228.8" cy="137" r="1.7" fill="none" stroke="#222" stroke-width="0.7"/>
<circle cx="229.9" cy="136.3" r="1.7" fill="none" stroke="#222" stroke-width="0.7"/>
<circle cx="231.1" cy="136.3" r="1.7" fill="none" stroke="#222" stroke-width="0.7"/>
<circle cx="232.3" cy="137" r="1.7" fill="none" stroke="#222" stroke-width="0.7"/>
<circle cx="233.4" cy="136.4" r="1.7" fill="none" stroke="#222" stroke-width="0.7"/>
<circle cx="234.6" cy="137.3" r="1.7" fill="none" stroke="#222" stroke-width="0.7"/>
<circle cx="235.8" cy="137.7" r="1.7" fill="none" stroke="#222" stroke-width="0.7"/>
<circle cx="236.9" cy="137" r="1.7" fill="none" stroke="#222" stroke-width="0.7"/>
<circle cx="238.1" cy="137.8" r="1.7" fill="none" stroke="#222" stroke-width="0.7"/>
<circle cx="239.3" cy="137.7" r="1.7" fill="none" stroke="#222" stroke-width="0.7"/>
<circle cx="240.4" cy="137.4" r="1.7" fill="none" stroke="#222" stroke-width="0.7"/>
<circle cx="241.6" cy="137.2" r="1.7" fill="none" stroke="#222" stroke-width="0.7"/>
<circle cx="242.8" cy="137.8" r="1.7" fill="none" stroke="#222" stroke-width="0.7"/>
<circle cx="243.9" cy="138" r="1.7" fill="none" stroke="#222" stroke-width="0.7"/>
<circle cx="245.1" cy="136.9" r="1.7" fill="none" stroke="#222" stroke-width="0.7"/>
<circle cx="246.3" cy="137.6" r="1.7" fill="none" stroke="#222" stroke-width="0.7"/>
<circle cx="247.4" cy="136.8" r="1.7" fill="none" stroke="#222" stroke-width="0.7"/>
<circle cx="248.6" cy="136.9" r="1.7" fill="none" stroke="#222" stroke-width="0.7"/>
<circle cx="249.8" cy="137.6" r="1.7" fill="none" stroke="#222" stroke-width="0.7"/>
<circle cx="250.9" cy="137.4" r="1.7" fill="none" stroke="#222" stroke-width="0.7"/>
<circle cx="252.1" cy="137.4" r="1.7" fill="none" stroke="#222" stroke-width="0.7"/>
<circle cx="253.3" cy="137.2" r="1.7" fill="none" stroke="#222" stroke-width="0.7"/>
<circle cx="254.4" cy="137.3" r="1.7" fill="none" stroke="#222" stroke-width="0.7"/>
<circle cx="255.6" cy="137.3" r="1.7" fill="none" stroke="#222" stroke-width="0.7"/>
<circle cx="256.8" cy="137.2" r="1.7" fill="none" stroke="#222" stroke-width="0.7"/>
<circle cx="257.9" cy="136.8" r="1.7" fill="none" stroke="#222" stroke-width="0.7"/>
<path d="M37.0 37.2 V146.7 H258.5 V91" fill="none" stroke="#222" stroke-width="1"/>
<line x1="37.0" y1="37.2" x2="160" y2="37.2" stroke="#222" stroke-width="1"/>
<line x1="37.0" y1="146.7" x2="39.0" y2="146.7" stroke="#222" stroke-width="0.8"/>
<text x="33.6" y="149.6" font-size="8.3" text-anchor="end" fill="#222" font-weight="normal" font-style="normal" font-family="'Liberation Serif', serif"  stroke="#222" stroke-width="0.2">0</text>
<line x1="37.0" y1="124.8" x2="39.0" y2="124.8" stroke="#222" stroke-width="0.8"/>
<text x="33.6" y="127.7" font-size="8.3" text-anchor="end" fill="#222" font-weight="normal" font-style="normal" font-family="'Liberation Serif', serif"  stroke="#222" stroke-width="0.2">0.2</text>
<line x1="37.0" y1="102.9" x2="39.0" y2="102.9" stroke="#222" stroke-width="0.8"/>
<text x="33.6" y="105.8" font-size="8.3" text-anchor="end" fill="#222" font-weight="normal" font-style="normal" font-family="'Liberation Serif', serif"  stroke="#222" stroke-width="0.2">0.4</text>
<line x1="37.0" y1="81" x2="39.0" y2="81" stroke="#222" stroke-width="0.8"/>
<text x="33.6" y="83.9" font-size="8.3" text-anchor="end" fill="#222" font-weight="normal" font-style="normal" font-family="'Liberation Serif', serif"  stroke="#222" stroke-width="0.2">0.6</text>
<line x1="37.0" y1="59.1" x2="39.0" y2="59.1" stroke="#222" stroke-width="0.8"/>
<text x="33.6" y="62" font-size="8.3" text-anchor="end" fill="#222" font-weight="normal" font-style="normal" font-family="'Liberation Serif', serif"  stroke="#222" stroke-width="0.2">0.8</text>
<line x1="37.0" y1="37.2" x2="39.0" y2="37.2" stroke="#222" stroke-width="0.8"/>
<text x="33.6" y="40.1" font-size="8.3" text-anchor="end" fill="#222" font-weight="normal" font-style="normal" font-family="'Liberation Serif', serif"  stroke="#222" stroke-width="0.2">1</text>
<line x1="83.6" y1="146.7" x2="83.6" y2="144.7" stroke="#222" stroke-width="0.8"/>
<text x="83.6" y="153.8" font-size="7.8" text-anchor="middle" fill="#222" font-weight="normal" font-style="normal" font-family="'Liberation Serif', serif"  stroke="#222" stroke-width="0.2">500</text>
<line x1="141.9" y1="146.7" x2="141.9" y2="144.7" stroke="#222" stroke-width="0.8"/>
<text x="141.9" y="153.8" font-size="7.8" text-anchor="middle" fill="#222" font-weight="normal" font-style="normal" font-family="'Liberation Serif', serif"  stroke="#222" stroke-width="0.2">1000</text>
<line x1="200.2" y1="146.7" x2="200.2" y2="144.7" stroke="#222" stroke-width="0.8"/>
<text x="200.2" y="153.8" font-size="7.8" text-anchor="middle" fill="#222" font-weight="normal" font-style="normal" font-family="'Liberation Serif', serif"  stroke="#222" stroke-width="0.2">1500</text>
<line x1="258.5" y1="146.7" x2="258.5" y2="144.7" stroke="#222" stroke-width="0.8"/>
<text x="258.5" y="153.8" font-size="7.8" text-anchor="middle" fill="#222" font-weight="normal" font-style="normal" font-family="'Liberation Serif', serif"  stroke="#222" stroke-width="0.2">2000</text>
<text x="147.8" y="164.2" font-size="10" text-anchor="middle" fill="#222" font-weight="normal" font-style="normal" font-family="'Liberation Serif', serif" textLength="60" lengthAdjust="spacingAndGlyphs" stroke="#222" stroke-width="0.2">Frequency (Hz)</text>
<text x="0" y="0" font-size="10.2" text-anchor="middle" fill="#222" font-weight="normal" font-style="normal" font-family="'Liberation Serif', serif" transform="translate(15.4 94.5) rotate(-90)" textLength="86" lengthAdjust="spacingAndGlyphs" stroke="#222" stroke-width="0.2">Absorption coefficient</text>
<line x1="37" y1="92.3" x2="69" y2="92.3" stroke="#4a78c0" stroke-width="0.9" stroke-dasharray="1.2 1"/>
<text x="47.6" y="91" font-size="8.6" text-anchor="start" fill="#4a78c0" font-weight="normal" font-style="normal" font-family="'Liberation Serif', serif"  stroke="#4a78c0" stroke-width="0.2">0.5</text>
<line x1="65.2" y1="28" x2="65.2" y2="33.5" stroke="#d23c3c" stroke-width="1.2"/>
<path d="M63.2 32.3 L65.2 36 L67.2 32.3 Z" fill="#d23c3c"/>
<text x="69.2" y="35.6" font-size="8.8" text-anchor="start" fill="#d23c3c" font-weight="normal" font-style="normal" font-family="'Liberation Serif', serif"  stroke="#d23c3c" stroke-width="0.2">353.7 Hz</text>
<text x="232.2" y="113.8" font-size="7.8" text-anchor="middle" fill="#222" font-weight="normal" font-style="normal" font-family="'Liberation Serif', serif"  stroke="#222" stroke-width="0.2">Triple-</text>
<text x="232.2" y="125" font-size="7.8" text-anchor="middle" fill="#222" font-weight="normal" font-style="normal" font-family="'Liberation Serif', serif"  stroke="#222" stroke-width="0.2">layer</text>
<polygon points="260.8,32.9 241.3,46.8 241.3,59.5 232.4,67.5 232.4,82 226.3,88 226.3,91.5 260.8,61.5" fill="#92443a" />
<line x1="260.8" y1="42.3" x2="236.4" y2="61.6" stroke="#6d2a20" stroke-width="0.6" opacity="0.6"/>
<line x1="260.8" y1="51.8" x2="231.4" y2="76.3" stroke="#6d2a20" stroke-width="0.6" opacity="0.6"/>
<polygon points="161.1,65.5 226.3,89.5 226.3,91.5 161.1,67.5" fill="#8fc9d2" />
<path d="M161.1 65.5 L170.5 57.5 L235.7 81.5 L226.3 89.5 Q219.8 87.1 213.3 84.7 Q206.7 82.3 200.2 79.9 Q193.7 77.5 187.2 75.1 Q180.7 72.7 174.1 70.3 Q167.6 67.9 161.1 65.5 Z" fill="#c4ebef" stroke="#a5d6dd" stroke-width="0.5"/>
<clipPath id="tc1"><polygon points="167.5,47 177.5,38 242.4,60.5 232.4,69.5 232.4,84 167.5,61.5"/></clipPath><g clip-path="url(#tc1)">
<polygon points="167.5,43 232.4,65.5 232.4,84 167.5,61.5" fill="#9a563e" />
<polygon points="171.4,44.4 174.2,45.3 174.2,63.8 171.4,62.9" fill="#5c2c20" />
<polygon points="174.2,45.3 176.6,46.1 176.6,64.7 174.2,63.8" fill="#7a4030" />
<polygon points="167.5,43 171.4,44.4 171.4,62.9 167.5,61.5" fill="#d09c78" />
<polygon points="178.9,47 180.5,47.5 180.5,66 178.9,65.5" fill="#b87a5a" />
<path d="M170.4 62.8 C170.4 54.6 180.7 58.2 180.7 66.4 Z" fill="#c4ebef"/>
<polygon points="184.4,48.9 187.2,49.8 187.2,68.3 184.4,67.3" fill="#5c2c20" />
<polygon points="187.2,49.8 189.6,50.6 189.6,69.2 187.2,68.3" fill="#7a4030" />
<polygon points="180.5,47.5 184.4,48.9 184.4,67.3 180.5,66" fill="#d09c78" />
<polygon points="191.9,51.5 193.5,52 193.5,70.5 191.9,70" fill="#b87a5a" />
<path d="M183.3 67.3 C183.3 59.1 193.7 62.7 193.7 70.9 Z" fill="#c4ebef"/>
<polygon points="197.4,53.4 200.2,54.3 200.2,72.8 197.4,71.8" fill="#5c2c20" />
<polygon points="200.2,54.3 202.5,55.1 202.5,73.7 200.2,72.8" fill="#7a4030" />
<polygon points="193.5,52 197.4,53.4 197.4,71.8 193.5,70.5" fill="#d09c78" />
<polygon points="204.9,56 206.4,56.5 206.4,75 204.9,74.5" fill="#b87a5a" />
<path d="M196.3 71.8 C196.3 63.6 206.7 67.2 206.7 75.4 Z" fill="#c4ebef"/>
<polygon points="210.3,57.9 213.2,58.8 213.2,77.3 210.3,76.3" fill="#5c2c20" />
<polygon points="213.2,58.8 215.5,59.6 215.5,78.2 213.2,77.3" fill="#7a4030" />
<polygon points="206.4,56.5 210.3,57.9 210.3,76.3 206.4,75" fill="#d09c78" />
<polygon points="217.9,60.5 219.4,61 219.4,79.5 217.9,79" fill="#b87a5a" />
<path d="M209.3 76.3 C209.3 68.1 219.7 71.7 219.7 79.9 Z" fill="#c4ebef"/>
<polygon points="223.3,62.4 226.2,63.3 226.2,81.8 223.3,80.8" fill="#5c2c20" />
<polygon points="226.2,63.3 228.5,64.2 228.5,82.7 226.2,81.8" fill="#7a4030" />
<polygon points="219.4,61 223.3,62.4 223.3,80.8 219.4,79.5" fill="#d09c78" />
<polygon points="230.8,65 232.4,65.5 232.4,84 230.8,83.5" fill="#b87a5a" />
<path d="M222.3 80.8 C222.3 72.6 232.7 76.2 232.7 84.4 Z" fill="#c4ebef"/>
</g>
<path d="M167.5 47 L180.5 36.5 L242.5 58.5 L232.4 69.5 Q225.9 64 219.4 65 Q212.9 59.5 206.4 60.5 Q199.9 55 193.5 56 Q187 50.5 180.5 51.5 Q174 46 167.5 47 Z" fill="#c4ebef" stroke="#a5d6dd" stroke-width="0.5"/>
<clipPath id="tc2"><polygon points="177.7,25.3 187.7,16.3 251.3,37.8 241.3,46.8 241.3,60.3 177.7,38.8"/></clipPath><g clip-path="url(#tc2)">
<polygon points="177.7,21.3 241.3,42.8 241.3,60.3 177.7,38.8" fill="#9a563e" />
<polygon points="181.5,22.6 184.3,23.5 184.3,41 181.5,40.1" fill="#5c2c20" />
<polygon points="184.3,23.5 186.6,24.3 186.6,41.8 184.3,41" fill="#7a4030" />
<polygon points="177.7,21.3 181.5,22.6 181.5,40.1 177.7,38.8" fill="#d09c78" />
<polygon points="188.9,25.1 190.4,25.6 190.4,43.1 188.9,42.6" fill="#b87a5a" />
<path d="M180.5 40 C180.5 32.7 190.7 36.2 190.7 43.5 Z" fill="#c4ebef"/>
<polygon points="194.2,26.9 197,27.8 197,45.3 194.2,44.4" fill="#5c2c20" />
<polygon points="197,27.8 199.3,28.6 199.3,46.1 197,45.3" fill="#7a4030" />
<polygon points="190.4,25.6 194.2,26.9 194.2,44.4 190.4,43.1" fill="#d09c78" />
<polygon points="201.6,29.4 203.1,29.9 203.1,47.4 201.6,46.9" fill="#b87a5a" />
<path d="M193.2 44.3 C193.2 37 203.4 40.5 203.4 47.8 Z" fill="#c4ebef"/>
<polygon points="207,31.2 209.8,32.1 209.8,49.6 207,48.7" fill="#5c2c20" />
<polygon points="209.8,32.1 212,32.9 212,50.4 209.8,49.6" fill="#7a4030" />
<polygon points="203.1,29.9 207,31.2 207,48.7 203.1,47.4" fill="#d09c78" />
<polygon points="214.3,33.7 215.9,34.2 215.9,51.7 214.3,51.2" fill="#b87a5a" />
<path d="M205.9 48.6 C205.9 41.3 216.1 44.8 216.1 52.1 Z" fill="#c4ebef"/>
<polygon points="219.7,35.5 222.5,36.4 222.5,53.9 219.7,53" fill="#5c2c20" />
<polygon points="222.5,36.4 224.8,37.2 224.8,54.7 222.5,53.9" fill="#7a4030" />
<polygon points="215.9,34.2 219.7,35.5 219.7,53 215.9,51.7" fill="#d09c78" />
<polygon points="227.1,38 228.6,38.5 228.6,56 227.1,55.5" fill="#b87a5a" />
<path d="M218.7 52.9 C218.7 45.6 228.8 49.1 228.8 56.4 Z" fill="#c4ebef"/>
<polygon points="232.4,39.8 235.2,40.7 235.2,58.2 232.4,57.3" fill="#5c2c20" />
<polygon points="235.2,40.7 237.5,41.5 237.5,59 235.2,58.2" fill="#7a4030" />
<polygon points="228.6,38.5 232.4,39.8 232.4,57.3 228.6,56" fill="#d09c78" />
<polygon points="239.8,42.3 241.3,42.8 241.3,60.3 239.8,59.8" fill="#b87a5a" />
<path d="M231.4 57.2 C231.4 49.9 241.6 53.4 241.6 60.7 Z" fill="#c4ebef"/>
</g>
<path d="M177.7 25.3 L196.6 8.9 L260.8 32.9 L241.3 46.8 Q234.9 41 228.6 42.5 Q222.2 36.7 215.9 38.2 Q209.5 32.4 203.1 33.9 Q196.8 28.1 190.4 29.6 Q184.1 23.9 177.7 25.3 Z" fill="#c4ebef" stroke="#a5d6dd" stroke-width="0.5"/>
<circle cx="199.9" cy="14" r="0.9" fill="#3d7f8c"/>
<circle cx="212.7" cy="18.8" r="0.9" fill="#3d7f8c"/>
<circle cx="225.5" cy="23.6" r="0.9" fill="#3d7f8c"/>
<circle cx="238.4" cy="28.4" r="0.9" fill="#3d7f8c"/>
<circle cx="251.2" cy="33.2" r="0.9" fill="#3d7f8c"/>
<circle cx="197.4" cy="20.9" r="0.9" fill="#3d7f8c"/>
<circle cx="210.3" cy="25.7" r="0.9" fill="#3d7f8c"/>
<circle cx="223.1" cy="30.5" r="0.9" fill="#3d7f8c"/>
<circle cx="235.9" cy="35.3" r="0.9" fill="#3d7f8c"/>
<circle cx="248.8" cy="40.1" r="0.9" fill="#3d7f8c"/>
<circle cx="187.3" cy="25" r="0.9" fill="#3d7f8c"/>
<circle cx="200.1" cy="29.8" r="0.9" fill="#3d7f8c"/>
<circle cx="212.9" cy="34.6" r="0.9" fill="#3d7f8c"/>
<circle cx="225.8" cy="39.4" r="0.9" fill="#3d7f8c"/>
<circle cx="238.6" cy="44.2" r="0.9" fill="#3d7f8c"/>
<circle cx="181" cy="47.4" r="0.9" fill="#3d7f8c"/>
<circle cx="193.7" cy="51.5" r="0.9" fill="#3d7f8c"/>
<circle cx="206.4" cy="55.8" r="0.9" fill="#3d7f8c"/>
<circle cx="219.1" cy="60" r="0.9" fill="#3d7f8c"/>
<circle cx="231.8" cy="64.2" r="0.9" fill="#3d7f8c"/>
<circle cx="175.1" cy="65.2" r="0.9" fill="#3d7f8c"/>
<circle cx="187.7" cy="69.8" r="0.9" fill="#3d7f8c"/>
<circle cx="200.3" cy="74.2" r="0.9" fill="#3d7f8c"/>
<circle cx="213" cy="78.8" r="0.9" fill="#3d7f8c"/>
<circle cx="225.6" cy="83.2" r="0.9" fill="#3d7f8c"/>
<text x="11.9" y="194.6" font-size="11" text-anchor="start" fill="#222" font-weight="bold" font-style="normal" font-family="'Liberation Serif', serif"  stroke="#222" stroke-width="0.2">(b)</text>
<rect x="41.2" y="192.5" width="31.2" height="24.5" fill="#4b8fd6"/>
<rect x="41.2" y="217.0" width="31.2" height="25" fill="#4b8fd6"/>
<rect x="41.2" y="242.0" width="31.2" height="21.6" fill="#1358c0"/>
<rect x="41.2" y="263.6" width="31.2" height="22.6" fill="#1358c0"/>
<rect x="72.4" y="192.5" width="25.8" height="24.5" fill="#ffe08f"/>
<rect x="72.4" y="217.0" width="25.8" height="25" fill="#ffe08f"/>
<rect x="72.4" y="242.0" width="25.8" height="21.6" fill="#ffbc03"/>
<rect x="72.4" y="263.6" width="25.8" height="22.6" fill="#ffbc03"/>
<rect x="98.2" y="192.5" width="20.4" height="24.5" fill="#f7680f"/>
<rect x="98.2" y="217.0" width="20.4" height="25" fill="#f7680f"/>
<rect x="98.2" y="242.0" width="20.4" height="21.6" fill="#ec1a14"/>
<rect x="98.2" y="263.6" width="20.4" height="22.6" fill="#ec1a14"/>
<rect x="118.6" y="192.5" width="17" height="24.5" fill="#a3cb86"/>
<rect x="118.6" y="217.0" width="17" height="25" fill="#a3cb86"/>
<rect x="118.6" y="242.0" width="17" height="21.6" fill="#2c8f2e"/>
<rect x="118.6" y="263.6" width="17" height="22.6" fill="#2c8f2e"/>
<line x1="72.4" y1="192.5" x2="72.4" y2="286.2" stroke="#fff" stroke-width="0.9" opacity="0.8"/>
<line x1="98.2" y1="192.5" x2="98.2" y2="286.2" stroke="#fff" stroke-width="0.9" opacity="0.8"/>
<line x1="118.6" y1="192.5" x2="118.6" y2="286.2" stroke="#fff" stroke-width="0.9" opacity="0.8"/>
<line x1="41.2" y1="217.0" x2="135.6" y2="217.0" stroke="#fff" stroke-width="0.9" opacity="0.55"/>
<line x1="41.2" y1="263.6" x2="135.6" y2="263.6" stroke="#fff" stroke-width="0.9" opacity="0.55"/>
<line x1="41.2" y1="241.2" x2="135.6" y2="241.2" stroke="#fff" stroke-width="0.8" opacity="0.6"/>
<circle cx="41.2" cy="192.5" r="1.1" fill="#111"/>
<circle cx="41.2" cy="242.0" r="1.1" fill="#111"/>
<circle cx="41.2" cy="286.2" r="1.1" fill="#111"/>
<circle cx="72.4" cy="192.5" r="1.1" fill="#111"/>
<circle cx="72.4" cy="242.0" r="1.1" fill="#111"/>
<circle cx="72.4" cy="286.2" r="1.1" fill="#111"/>
<circle cx="98.2" cy="192.5" r="1.1" fill="#111"/>
<circle cx="98.2" cy="242.0" r="1.1" fill="#111"/>
<circle cx="98.2" cy="286.2" r="1.1" fill="#111"/>
<circle cx="118.6" cy="192.5" r="1.1" fill="#111"/>
<circle cx="118.6" cy="242.0" r="1.1" fill="#111"/>
<circle cx="118.6" cy="286.2" r="1.1" fill="#111"/>
<circle cx="135.6" cy="192.5" r="1.1" fill="#111"/>
<circle cx="135.6" cy="242.0" r="1.1" fill="#111"/>
<circle cx="135.6" cy="286.2" r="1.1" fill="#111"/>
<circle cx="41.2" cy="214.6" r="1.0" fill="#111"/>
<circle cx="41.2" cy="261.8" r="1.0" fill="#111"/>
<circle cx="72.4" cy="214.6" r="1.0" fill="#111"/>
<circle cx="72.4" cy="261.8" r="1.0" fill="#111"/>
<circle cx="98.2" cy="214.6" r="1.0" fill="#111"/>
<circle cx="98.2" cy="261.8" r="1.0" fill="#111"/>
<circle cx="118.6" cy="214.6" r="1.0" fill="#111"/>
<circle cx="118.6" cy="261.8" r="1.0" fill="#111"/>
<circle cx="56.5" cy="203.4" r="2.0" fill="none" stroke="#333" stroke-width="0.6"/>
<circle cx="56.5" cy="229.3" r="2.0" fill="none" stroke="#333" stroke-width="0.6"/>
<circle cx="56.5" cy="252.4" r="2.0" fill="none" stroke="#333" stroke-width="0.6"/>
<circle cx="56.5" cy="274.6" r="2.0" fill="none" stroke="#333" stroke-width="0.6"/>
<circle cx="84.8" cy="203.4" r="2.0" fill="none" stroke="#333" stroke-width="0.6"/>
<circle cx="84.8" cy="229.3" r="2.0" fill="none" stroke="#333" stroke-width="0.6"/>
<circle cx="84.8" cy="252.4" r="2.0" fill="none" stroke="#333" stroke-width="0.6"/>
<circle cx="84.8" cy="274.6" r="2.0" fill="none" stroke="#333" stroke-width="0.6"/>
<circle cx="108.2" cy="203.4" r="2.0" fill="none" stroke="#333" stroke-width="0.6"/>
<circle cx="108.2" cy="229.3" r="2.0" fill="none" stroke="#333" stroke-width="0.6"/>
<circle cx="108.2" cy="252.4" r="2.0" fill="none" stroke="#333" stroke-width="0.6"/>
<circle cx="108.2" cy="274.6" r="2.0" fill="none" stroke="#333" stroke-width="0.6"/>
<circle cx="127.0" cy="203.4" r="2.0" fill="none" stroke="#333" stroke-width="0.6"/>
<circle cx="127.0" cy="229.3" r="2.0" fill="none" stroke="#333" stroke-width="0.6"/>
<circle cx="127.0" cy="252.4" r="2.0" fill="none" stroke="#333" stroke-width="0.6"/>
<circle cx="127.0" cy="274.6" r="2.0" fill="none" stroke="#333" stroke-width="0.6"/>
<text x="52.3" y="189.5" font-size="9.6" font-style="italic" fill="#2b2b2b" font-family="'Liberation Serif', serif" stroke="#2b2b2b" stroke-width="0.2">a<tspan font-size="6.6" dy="2">1</tspan></text>
<text x="79" y="189.5" font-size="9.6" font-style="italic" fill="#2b2b2b" font-family="'Liberation Serif', serif" stroke="#2b2b2b" stroke-width="0.2">a<tspan font-size="6.6" dy="2">3</tspan></text>
<text x="101.3" y="189.5" font-size="9.6" font-style="italic" fill="#2b2b2b" font-family="'Liberation Serif', serif" stroke="#2b2b2b" stroke-width="0.2">a<tspan font-size="6.6" dy="2">5</tspan></text>
<text x="120.8" y="189.5" font-size="9.6" font-style="italic" fill="#2b2b2b" font-family="'Liberation Serif', serif" stroke="#2b2b2b" stroke-width="0.2">a<tspan font-size="6.6" dy="2">7</tspan></text>
<text x="44" y="212" font-size="9.6" font-style="italic" fill="#2b2b2b" font-family="'Liberation Serif', serif" stroke="#2b2b2b" stroke-width="0.2">b<tspan font-size="6.6" dy="2">1</tspan></text>
<text x="75.8" y="212" font-size="9.6" font-style="italic" fill="#2b2b2b" font-family="'Liberation Serif', serif" stroke="#2b2b2b" stroke-width="0.2">b<tspan font-size="6.6" dy="2">3</tspan></text>
<text x="99.6" y="212" font-size="9.6" font-style="italic" fill="#2b2b2b" font-family="'Liberation Serif', serif" stroke="#2b2b2b" stroke-width="0.2">b<tspan font-size="6.6" dy="2">5</tspan></text>
<text x="119.8" y="212" font-size="9.6" font-style="italic" fill="#2b2b2b" font-family="'Liberation Serif', serif" stroke="#2b2b2b" stroke-width="0.2">b<tspan font-size="6.6" dy="2">7</tspan></text>
<text x="52.3" y="239.3" font-size="9.6" font-style="italic" fill="#2b2b2b" font-family="'Liberation Serif', serif" stroke="#2b2b2b" stroke-width="0.2">a<tspan font-size="6.6" dy="2">2</tspan></text>
<text x="81" y="239.3" font-size="9.6" font-style="italic" fill="#2b2b2b" font-family="'Liberation Serif', serif" stroke="#2b2b2b" stroke-width="0.2">a<tspan font-size="6.6" dy="2">4</tspan></text>
<text x="104" y="239.3" font-size="9.6" font-style="italic" fill="#2b2b2b" font-family="'Liberation Serif', serif" stroke="#2b2b2b" stroke-width="0.2">a<tspan font-size="6.6" dy="2">6</tspan></text>
<text x="121.8" y="239.3" font-size="9.6" font-style="italic" fill="#2b2b2b" font-family="'Liberation Serif', serif" stroke="#2b2b2b" stroke-width="0.2">a<tspan font-size="6.6" dy="2">8</tspan></text>
<text x="44" y="260.5" font-size="9.6" font-style="italic" fill="#2b2b2b" font-family="'Liberation Serif', serif" stroke="#2b2b2b" stroke-width="0.2">b<tspan font-size="6.6" dy="2">2</tspan></text>
<text x="75.8" y="260.5" font-size="9.6" font-style="italic" fill="#2b2b2b" font-family="'Liberation Serif', serif" stroke="#2b2b2b" stroke-width="0.2">b<tspan font-size="6.6" dy="2">4</tspan></text>
<text x="99.6" y="260.5" font-size="9.6" font-style="italic" fill="#2b2b2b" font-family="'Liberation Serif', serif" stroke="#2b2b2b" stroke-width="0.2">b<tspan font-size="6.6" dy="2">6</tspan></text>
<text x="119.8" y="260.5" font-size="9.6" font-style="italic" fill="#2b2b2b" font-family="'Liberation Serif', serif" stroke="#2b2b2b" stroke-width="0.2">b<tspan font-size="6.6" dy="2">8</tspan></text>
<text x="140.2" y="241.5" font-size="9.6" font-style="italic" fill="#2b2b2b" font-family="'Liberation Serif', serif" stroke="#2b2b2b" stroke-width="0.2">D</text>
<text x="83.8" y="295.2" font-size="9.6" font-style="italic" fill="#2b2b2b" font-family="'Liberation Serif', serif" stroke="#2b2b2b" stroke-width="0.2">D</text>
<circle cx="42.5" cy="345.8" r="1.15" fill="#a3a3a3" stroke="#8f8f8f" stroke-width="0.35"/>
<circle cx="44.8" cy="345.7" r="1.15" fill="#a3a3a3" stroke="#8f8f8f" stroke-width="0.35"/>
<circle cx="47.1" cy="345.5" r="1.15" fill="#a3a3a3" stroke="#8f8f8f" stroke-width="0.35"/>
<circle cx="49.3" cy="345.1" r="1.15" fill="#a3a3a3" stroke="#8f8f8f" stroke-width="0.35"/>
<circle cx="51.6" cy="344.6" r="1.15" fill="#a3a3a3" stroke="#8f8f8f" stroke-width="0.35"/>
<circle cx="53.9" cy="344" r="1.15" fill="#a3a3a3" stroke="#8f8f8f" stroke-width="0.35"/>
<circle cx="56.2" cy="343.2" r="1.15" fill="#a3a3a3" stroke="#8f8f8f" stroke-width="0.35"/>
<circle cx="58.5" cy="342" r="1.15" fill="#a3a3a3" stroke="#8f8f8f" stroke-width="0.35"/>
<circle cx="60.7" cy="340.3" r="1.15" fill="#a3a3a3" stroke="#8f8f8f" stroke-width="0.35"/>
<circle cx="63" cy="338.4" r="1.15" fill="#a3a3a3" stroke="#8f8f8f" stroke-width="0.35"/>
<circle cx="65.3" cy="335.9" r="1.15" fill="#a3a3a3" stroke="#8f8f8f" stroke-width="0.35"/>
<circle cx="67.6" cy="332.4" r="1.15" fill="#a3a3a3" stroke="#8f8f8f" stroke-width="0.35"/>
<circle cx="69.9" cy="327.5" r="1.15" fill="#a3a3a3" stroke="#8f8f8f" stroke-width="0.35"/>
<circle cx="72.1" cy="320.1" r="1.15" fill="#a3a3a3" stroke="#8f8f8f" stroke-width="0.35"/>
<circle cx="74.4" cy="312.2" r="1.15" fill="#a3a3a3" stroke="#8f8f8f" stroke-width="0.35"/>
<circle cx="76.7" cy="306.8" r="1.15" fill="#a3a3a3" stroke="#8f8f8f" stroke-width="0.35"/>
<circle cx="79" cy="304.2" r="1.15" fill="#a3a3a3" stroke="#8f8f8f" stroke-width="0.35"/>
<circle cx="81.3" cy="302.8" r="1.15" fill="#a3a3a3" stroke="#8f8f8f" stroke-width="0.35"/>
<circle cx="83.5" cy="302" r="1.15" fill="#a3a3a3" stroke="#8f8f8f" stroke-width="0.35"/>
<circle cx="85.8" cy="301.9" r="1.15" fill="#a3a3a3" stroke="#8f8f8f" stroke-width="0.35"/>
<circle cx="88.1" cy="301.8" r="1.15" fill="#a3a3a3" stroke="#8f8f8f" stroke-width="0.35"/>
<circle cx="90.4" cy="301.7" r="1.15" fill="#a3a3a3" stroke="#8f8f8f" stroke-width="0.35"/>
<circle cx="92.7" cy="301.7" r="1.15" fill="#a3a3a3" stroke="#8f8f8f" stroke-width="0.35"/>
<circle cx="94.9" cy="301.8" r="1.15" fill="#a3a3a3" stroke="#8f8f8f" stroke-width="0.35"/>
<circle cx="97.2" cy="303.2" r="1.15" fill="#a3a3a3" stroke="#8f8f8f" stroke-width="0.35"/>
<circle cx="99.5" cy="303.5" r="1.15" fill="#a3a3a3" stroke="#8f8f8f" stroke-width="0.35"/>
<circle cx="101.8" cy="302" r="1.15" fill="#a3a3a3" stroke="#8f8f8f" stroke-width="0.35"/>
<circle cx="104.1" cy="302.8" r="1.15" fill="#a3a3a3" stroke="#8f8f8f" stroke-width="0.35"/>
<circle cx="106.3" cy="306.9" r="1.15" fill="#a3a3a3" stroke="#8f8f8f" stroke-width="0.35"/>
<circle cx="108.6" cy="310.3" r="1.15" fill="#a3a3a3" stroke="#8f8f8f" stroke-width="0.35"/>
<circle cx="110.9" cy="311.9" r="1.15" fill="#a3a3a3" stroke="#8f8f8f" stroke-width="0.35"/>
<circle cx="113.2" cy="307.9" r="1.15" fill="#a3a3a3" stroke="#8f8f8f" stroke-width="0.35"/>
<circle cx="115.4" cy="304.2" r="1.15" fill="#a3a3a3" stroke="#8f8f8f" stroke-width="0.35"/>
<circle cx="117.7" cy="302.2" r="1.15" fill="#a3a3a3" stroke="#8f8f8f" stroke-width="0.35"/>
<circle cx="120" cy="301.9" r="1.15" fill="#a3a3a3" stroke="#8f8f8f" stroke-width="0.35"/>
<circle cx="122.3" cy="301.7" r="1.15" fill="#a3a3a3" stroke="#8f8f8f" stroke-width="0.35"/>
<circle cx="124.6" cy="301.7" r="1.15" fill="#a3a3a3" stroke="#8f8f8f" stroke-width="0.35"/>
<circle cx="126.8" cy="301.7" r="1.15" fill="#a3a3a3" stroke="#8f8f8f" stroke-width="0.35"/>
<circle cx="129.1" cy="301.8" r="1.15" fill="#a3a3a3" stroke="#8f8f8f" stroke-width="0.35"/>
<circle cx="131.4" cy="301.8" r="1.15" fill="#a3a3a3" stroke="#8f8f8f" stroke-width="0.35"/>
<circle cx="133.7" cy="301.9" r="1.15" fill="#a3a3a3" stroke="#8f8f8f" stroke-width="0.35"/>
<circle cx="136" cy="302" r="1.15" fill="#a3a3a3" stroke="#8f8f8f" stroke-width="0.35"/>
<circle cx="138.2" cy="302.1" r="1.15" fill="#a3a3a3" stroke="#8f8f8f" stroke-width="0.35"/>
<circle cx="140.5" cy="302.2" r="1.15" fill="#a3a3a3" stroke="#8f8f8f" stroke-width="0.35"/>
<circle cx="142.8" cy="302.5" r="1.15" fill="#a3a3a3" stroke="#8f8f8f" stroke-width="0.35"/>
<circle cx="145.1" cy="302.8" r="1.15" fill="#a3a3a3" stroke="#8f8f8f" stroke-width="0.35"/>
<circle cx="147.4" cy="303.2" r="1.15" fill="#a3a3a3" stroke="#8f8f8f" stroke-width="0.35"/>
<circle cx="149.6" cy="303.8" r="1.15" fill="#a3a3a3" stroke="#8f8f8f" stroke-width="0.35"/>
<circle cx="151.9" cy="304.4" r="1.15" fill="#a3a3a3" stroke="#8f8f8f" stroke-width="0.35"/>
<circle cx="154.2" cy="305.2" r="1.15" fill="#a3a3a3" stroke="#8f8f8f" stroke-width="0.35"/>
<circle cx="156.5" cy="306.9" r="1.15" fill="#a3a3a3" stroke="#8f8f8f" stroke-width="0.35"/>
<circle cx="158.8" cy="309" r="1.15" fill="#a3a3a3" stroke="#8f8f8f" stroke-width="0.35"/>
<circle cx="161" cy="310.5" r="1.15" fill="#a3a3a3" stroke="#8f8f8f" stroke-width="0.35"/>
<circle cx="163.3" cy="310.6" r="1.15" fill="#a3a3a3" stroke="#8f8f8f" stroke-width="0.35"/>
<circle cx="165.6" cy="306.7" r="1.15" fill="#a3a3a3" stroke="#8f8f8f" stroke-width="0.35"/>
<circle cx="167.9" cy="303.8" r="1.15" fill="#a3a3a3" stroke="#8f8f8f" stroke-width="0.35"/>
<circle cx="170.2" cy="305.1" r="1.15" fill="#a3a3a3" stroke="#8f8f8f" stroke-width="0.35"/>
<circle cx="172.4" cy="307.2" r="1.15" fill="#a3a3a3" stroke="#8f8f8f" stroke-width="0.35"/>
<circle cx="174.7" cy="308.1" r="1.15" fill="#a3a3a3" stroke="#8f8f8f" stroke-width="0.35"/>
<circle cx="177" cy="309.7" r="1.15" fill="#a3a3a3" stroke="#8f8f8f" stroke-width="0.35"/>
<circle cx="179.3" cy="315.6" r="1.15" fill="#a3a3a3" stroke="#8f8f8f" stroke-width="0.35"/>
<circle cx="181.6" cy="322.4" r="1.15" fill="#a3a3a3" stroke="#8f8f8f" stroke-width="0.35"/>
<circle cx="183.8" cy="326.3" r="1.15" fill="#a3a3a3" stroke="#8f8f8f" stroke-width="0.35"/>
<circle cx="186.1" cy="329.4" r="1.15" fill="#a3a3a3" stroke="#8f8f8f" stroke-width="0.35"/>
<circle cx="188.4" cy="332" r="1.15" fill="#a3a3a3" stroke="#8f8f8f" stroke-width="0.35"/>
<circle cx="190.7" cy="334" r="1.15" fill="#a3a3a3" stroke="#8f8f8f" stroke-width="0.35"/>
<circle cx="193" cy="335.3" r="1.15" fill="#a3a3a3" stroke="#8f8f8f" stroke-width="0.35"/>
<circle cx="195.2" cy="336.3" r="1.15" fill="#a3a3a3" stroke="#8f8f8f" stroke-width="0.35"/>
<circle cx="197.5" cy="337.2" r="1.15" fill="#a3a3a3" stroke="#8f8f8f" stroke-width="0.35"/>
<circle cx="199.8" cy="338.1" r="1.15" fill="#a3a3a3" stroke="#8f8f8f" stroke-width="0.35"/>
<circle cx="202.1" cy="338.8" r="1.15" fill="#a3a3a3" stroke="#8f8f8f" stroke-width="0.35"/>
<circle cx="204.4" cy="339.5" r="1.15" fill="#a3a3a3" stroke="#8f8f8f" stroke-width="0.35"/>
<circle cx="206.6" cy="340.1" r="1.15" fill="#a3a3a3" stroke="#8f8f8f" stroke-width="0.35"/>
<circle cx="208.9" cy="340.5" r="1.15" fill="#a3a3a3" stroke="#8f8f8f" stroke-width="0.35"/>
<circle cx="211.2" cy="340.9" r="1.15" fill="#a3a3a3" stroke="#8f8f8f" stroke-width="0.35"/>
<circle cx="213.5" cy="341.2" r="1.15" fill="#a3a3a3" stroke="#8f8f8f" stroke-width="0.35"/>
<circle cx="215.8" cy="341.5" r="1.15" fill="#a3a3a3" stroke="#8f8f8f" stroke-width="0.35"/>
<circle cx="218" cy="341.8" r="1.15" fill="#a3a3a3" stroke="#8f8f8f" stroke-width="0.35"/>
<circle cx="220.3" cy="342.1" r="1.15" fill="#a3a3a3" stroke="#8f8f8f" stroke-width="0.35"/>
<circle cx="222.6" cy="342.4" r="1.15" fill="#a3a3a3" stroke="#8f8f8f" stroke-width="0.35"/>
<circle cx="224.9" cy="342.6" r="1.15" fill="#a3a3a3" stroke="#8f8f8f" stroke-width="0.35"/>
<circle cx="227.2" cy="342.8" r="1.15" fill="#a3a3a3" stroke="#8f8f8f" stroke-width="0.35"/>
<circle cx="229.4" cy="343.1" r="1.15" fill="#a3a3a3" stroke="#8f8f8f" stroke-width="0.35"/>
<circle cx="231.7" cy="343.3" r="1.15" fill="#a3a3a3" stroke="#8f8f8f" stroke-width="0.35"/>
<circle cx="234" cy="343.5" r="1.15" fill="#a3a3a3" stroke="#8f8f8f" stroke-width="0.35"/>
<circle cx="236.3" cy="343.7" r="1.15" fill="#a3a3a3" stroke="#8f8f8f" stroke-width="0.35"/>
<path d="M42.5 349.4 L42.8 349.4 L43.2 349.4 L43.5 349.4 L43.8 349.4 L44.1 349.4 L44.5 349.4 L44.8 349.3 L45.1 349.3 L45.4 349.3 L45.8 349.3 L46.1 349.2 L46.4 349.2 L46.7 349.2 L47.1 349.1 L47.4 349.1 L47.7 349.1 L48 349 L48.4 349 L48.7 348.9 L49 348.9 L49.3 348.8 L49.7 348.8 L50 348.7 L50.3 348.7 L50.6 348.6 L51 348.6 L51.3 348.5 L51.6 348.5 L51.9 348.4 L52.3 348.3 L52.6 348.3 L52.9 348.2 L53.2 348.1 L53.6 348.1 L53.9 348 L54.2 347.9 L54.5 347.9 L54.9 347.8 L55.2 347.7 L55.5 347.7 L55.9 347.6 L56.2 347.5 L56.5 347.4 L56.8 347.3 L57.2 347.1 L57.5 347 L57.8 346.9 L58.1 346.8 L58.5 346.6 L58.8 346.5 L59.1 346.3 L59.4 346.2 L59.8 346 L60.1 345.9 L60.4 345.7 L60.7 345.5 L61.1 345.3 L61.4 345.2 L61.7 345 L62 344.8 L62.4 344.6 L62.7 344.4 L63 344.2 L63.3 344 L63.7 343.9 L64 343.7 L64.3 343.5 L64.6 343.3 L65 343.1 L65.3 342.9 L65.6 342.6 L65.9 342.4 L66.3 342.2 L66.6 342 L66.9 341.8 L67.3 341.6 L67.6 341.4 L67.9 341.2 L68.2 341 L68.6 340.8 L68.9 340.5 L69.2 340.3 L69.5 340.1 L69.9 339.8 L70.2 339.6 L70.5 339.3 L70.8 339 L71.2 338.8 L71.5 338.5 L71.8 338.2 L72.1 337.9 L72.5 337.5 L72.8 337.2 L73.1 336.9 L73.4 336.5 L73.8 336.2 L74.1 335.8 L74.4 335.4 L74.7 335 L75.1 334.5 L75.4 334.1 L75.7 333.6 L76 333 L76.4 332.4 L76.7 331.7 L77 331 L77.3 330.2 L77.7 329.4 L78 328.5 L78.3 327.7 L78.6 326.8 L79 325.8 L79.3 324.8 L79.6 323.5 L80 322.2 L80.3 320.7 L80.6 319.2 L80.9 317.8 L81.3 316.4 L81.6 315.1 L81.9 314 L82.2 313 L82.6 312.1 L82.9 311.1 L83.2 310.2 L83.5 309.3 L83.9 308.5 L84.2 307.7 L84.5 307 L84.8 306.3 L85.2 305.8 L85.5 305.3 L85.8 304.9 L86.1 304.5 L86.5 304.1 L86.8 303.8 L87.1 303.5 L87.4 303.2 L87.8 303 L88.1 302.8 L88.4 302.7 L88.7 302.7 L89.1 302.6 L89.4 302.6 L89.7 302.5 L90 302.4 L90.4 302.4 L90.7 302.4 L91 302.3 L91.3 302.3 L91.7 302.3 L92 302.3 L92.3 302.2 L92.7 302.2 L93 302.2 L93.3 302.4 L93.6 302.7 L94 303.3 L94.3 304.1 L94.6 304.9 L94.9 305.9 L95.3 306.8 L95.6 307.7 L95.9 308.6 L96.2 309.3 L96.6 309.9 L96.9 310.3 L97.2 310.4 L97.5 310.3 L97.9 309.9 L98.2 309.3 L98.5 308.5 L98.8 307.7 L99.2 306.7 L99.5 305.8 L99.8 304.9 L100.1 304.1 L100.5 303.5 L100.8 303 L101.1 302.7 L101.4 302.6 L101.8 302.5 L102.1 302.5 L102.4 302.4 L102.7 302.3 L103.1 302.2 L103.4 302.1 L103.7 302.1 L104.1 302 L104.4 302 L104.7 301.9 L105 301.9 L105.4 301.8 L105.7 301.8 L106 301.8 L106.3 301.8 L106.7 301.7 L107 301.7 L107.3 301.7 L107.6 301.7 L108 301.7 L108.3 301.8 L108.6 301.9 L108.9 302 L109.3 302.1 L109.6 302.2 L109.9 302.4 L110.2 302.6 L110.6 302.7 L110.9 302.9 L111.2 303.1 L111.5 303.3 L111.9 303.4 L112.2 303.7 L112.5 304 L112.8 304.3 L113.2 304.6 L113.5 304.9 L113.8 305.2 L114.1 305.5 L114.5 305.8 L114.8 306 L115.1 306.2 L115.4 306.3 L115.8 306.3 L116.1 306.3 L116.4 306.1 L116.8 305.8 L117.1 305.5 L117.4 305.1 L117.7 304.7 L118.1 304.3 L118.4 303.8 L118.7 303.3 L119 302.9 L119.4 302.5 L119.7 302.2 L120 301.9 L120.3 301.8 L120.7 301.7 L121 301.7 L121.3 301.7 L121.6 301.7 L122 301.7 L122.3 301.8 L122.6 301.8 L122.9 301.8 L123.3 301.8 L123.6 301.8 L123.9 301.9 L124.2 301.9 L124.6 301.9 L124.9 302 L125.2 302 L125.5 302 L125.9 302.1 L126.2 302.1 L126.5 302.1 L126.8 302.2 L127.2 302.2 L127.5 302.3 L127.8 302.3 L128.2 302.3 L128.5 302.4 L128.8 302.4 L129.1 302.4 L129.5 302.5 L129.8 302.5 L130.1 302.5 L130.4 302.6 L130.8 302.6 L131.1 302.6 L131.4 302.7 L131.7 302.7 L132.1 302.7 L132.4 302.7 L132.7 302.7 L133 302.7 L133.4 302.7 L133.7 302.7 L134 302.7 L134.3 302.7 L134.7 302.7 L135 302.6 L135.3 302.6 L135.6 302.5 L136 302.4 L136.3 302.4 L136.6 302.3 L136.9 302.2 L137.3 302.1 L137.6 302.1 L137.9 302 L138.2 301.9 L138.6 301.9 L138.9 301.8 L139.2 301.8 L139.5 301.7 L139.9 301.7 L140.2 301.7 L140.5 301.7 L140.9 301.7 L141.2 301.7 L141.5 301.7 L141.8 301.8 L142.2 301.8 L142.5 301.8 L142.8 301.8 L143.1 301.9 L143.5 301.9 L143.8 301.9 L144.1 302 L144.4 302 L144.8 302 L145.1 302.1 L145.4 302.1 L145.7 302.1 L146.1 302.2 L146.4 302.2 L146.7 302.2 L147 302.3 L147.4 302.3 L147.7 302.3 L148 302.3 L148.3 302.3 L148.7 302.4 L149 302.4 L149.3 302.4 L149.6 302.4 L150 302.5 L150.3 302.5 L150.6 302.5 L150.9 302.5 L151.3 302.6 L151.6 302.6 L151.9 302.6 L152.2 302.6 L152.6 302.7 L152.9 302.7 L153.2 302.7 L153.6 302.8 L153.9 302.8 L154.2 302.8 L154.5 302.9 L154.9 302.9 L155.2 303 L155.5 303 L155.8 303 L156.2 303.1 L156.5 303.1 L156.8 303.2 L157.1 303.2 L157.5 303.3 L157.8 303.3 L158.1 303.4 L158.4 303.5 L158.8 303.5 L159.1 303.6 L159.4 303.7 L159.7 303.8 L160.1 303.9 L160.4 304 L160.7 304.2 L161 304.4 L161.4 304.6 L161.7 304.9 L162 305.2 L162.3 305.5 L162.7 305.8 L163 306.2 L163.3 306.5 L163.6 306.9 L164 307.2 L164.3 307.6 L164.6 307.9 L165 308.2 L165.3 308.6 L165.6 308.9 L165.9 309.2 L166.3 309.4 L166.6 309.7 L166.9 309.9 L167.2 310.1 L167.6 310.2 L167.9 310.3 L168.2 310.4 L168.5 310.4 L168.9 310.4 L169.2 310.2 L169.5 309.9 L169.8 309.6 L170.2 309.2 L170.5 308.7 L170.8 308.2 L171.1 307.7 L171.5 307.1 L171.8 306.5 L172.1 306 L172.4 305.5 L172.8 305 L173.1 304.6 L173.4 304.3 L173.7 304 L174.1 303.8 L174.4 303.8 L174.7 303.8 L175 303.8 L175.4 303.9 L175.7 304 L176 304.1 L176.3 304.2 L176.7 304.3 L177 304.5 L177.3 304.6 L177.7 304.8 L178 305 L178.3 305.4 L178.6 305.8 L179 306.3 L179.3 306.8 L179.6 307.4 L179.9 308 L180.3 308.7 L180.6 309.4 L180.9 310.2 L181.2 311 L181.6 311.8 L181.9 312.7 L182.2 313.5 L182.5 314.4 L182.9 315.3 L183.2 316.3 L183.5 317.4 L183.8 318.4 L184.2 319.5 L184.5 320.5 L184.8 321.6 L185.1 322.5 L185.5 323.4 L185.8 324.3 L186.1 325.1 L186.4 325.8 L186.8 326.6 L187.1 327.3 L187.4 328 L187.7 328.6 L188.1 329.2 L188.4 329.8 L188.7 330.4 L189.1 331 L189.4 331.5 L189.7 332 L190 332.5 L190.4 333 L190.7 333.4 L191 333.9 L191.3 334.3 L191.7 334.7 L192 335.1 L192.3 335.5 L192.6 335.8 L193 336.1 L193.3 336.4 L193.6 336.6 L193.9 336.9 L194.3 337.1 L194.6 337.3 L194.9 337.5 L195.2 337.7 L195.6 337.9 L195.9 338.1 L196.2 338.3 L196.5 338.5 L196.9 338.7 L197.2 338.8 L197.5 339 L197.8 339.2 L198.2 339.3 L198.5 339.5 L198.8 339.7 L199.1 339.8 L199.5 340 L199.8 340.2 L200.1 340.3 L200.4 340.5 L200.8 340.6 L201.1 340.8 L201.4 340.9 L201.8 341.1 L202.1 341.2 L202.4 341.4 L202.7 341.5 L203.1 341.6 L203.4 341.7 L203.7 341.8 L204 341.9 L204.4 342.1 L204.7 342.2 L205 342.3 L205.3 342.4 L205.7 342.5 L206 342.6 L206.3 342.7 L206.6 342.8 L207 342.9 L207.3 343 L207.6 343.1 L207.9 343.2 L208.3 343.3 L208.6 343.3 L208.9 343.4 L209.2 343.5 L209.6 343.6 L209.9 343.7 L210.2 343.8 L210.5 343.9 L210.9 344 L211.2 344.1 L211.5 344.1 L211.8 344.2 L212.2 344.3 L212.5 344.4 L212.8 344.5 L213.1 344.5 L213.5 344.6 L213.8 344.7 L214.1 344.8 L214.5 344.8 L214.8 344.9 L215.1 345 L215.4 345.1 L215.8 345.1 L216.1 345.2 L216.4 345.3 L216.7 345.4 L217.1 345.4 L217.4 345.5 L217.7 345.6 L218 345.6 L218.4 345.7 L218.7 345.8 L219 345.8 L219.3 345.9 L219.7 346 L220 346 L220.3 346.1 L220.6 346.2 L221 346.2 L221.3 346.3 L221.6 346.3 L221.9 346.4 L222.3 346.5 L222.6 346.5 L222.9 346.6 L223.2 346.7 L223.6 346.7 L223.9 346.8 L224.2 346.8 L224.5 346.9 L224.9 347 L225.2 347 L225.5 347.1 L225.9 347.1 L226.2 347.2 L226.5 347.2 L226.8 347.3 L227.2 347.4 L227.5 347.4 L227.8 347.5 L228.1 347.5 L228.5 347.6 L228.8 347.6 L229.1 347.7 L229.4 347.7 L229.8 347.8 L230.1 347.8 L230.4 347.9 L230.7 347.9 L231.1 348 L231.4 348 L231.7 348.1 L232 348.1 L232.4 348.2 L232.7 348.2 L233 348.3 L233.3 348.3 L233.7 348.4 L234 348.4 L234.3 348.5 L234.6 348.5 L235 348.6 L235.3 348.6 L235.6 348.6 L235.9 348.7 L236.3 348.7 L236.6 348.8 L236.9 348.8 L237.2 348.8 L237.6 348.9 L237.9 348.9" fill="none" stroke="#d8342a" stroke-width="1.3" stroke-dasharray="2.6 2.2"/>
<path d="M42.5 349.2 L42.8 349.2 L43.2 349.2 L43.5 349.2 L43.8 349.1 L44.1 349.1 L44.5 349.1 L44.8 349.1 L45.1 349.1 L45.4 349 L45.8 349 L46.1 349 L46.4 349 L46.7 348.9 L47.1 348.9 L47.4 348.8 L47.7 348.8 L48 348.8 L48.4 348.7 L48.7 348.7 L49 348.6 L49.3 348.6 L49.7 348.5 L50 348.5 L50.3 348.4 L50.6 348.4 L51 348.3 L51.3 348.3 L51.6 348.2 L51.9 348.1 L52.3 348.1 L52.6 348 L52.9 347.9 L53.2 347.9 L53.6 347.8 L53.9 347.8 L54.2 347.7 L54.5 347.6 L54.9 347.6 L55.2 347.5 L55.5 347.4 L55.9 347.3 L56.2 347.2 L56.5 347.1 L56.8 347 L57.2 346.9 L57.5 346.8 L57.8 346.7 L58.1 346.5 L58.5 346.4 L58.8 346.3 L59.1 346.1 L59.4 346 L59.8 345.9 L60.1 345.7 L60.4 345.5 L60.7 345.4 L61.1 345.2 L61.4 345.1 L61.7 344.9 L62 344.7 L62.4 344.5 L62.7 344.4 L63 344.2 L63.3 344 L63.7 343.8 L64 343.6 L64.3 343.4 L64.6 343.2 L65 343 L65.3 342.8 L65.6 342.6 L65.9 342.4 L66.3 342.2 L66.6 342 L66.9 341.8 L67.3 341.6 L67.6 341.4 L67.9 341.2 L68.2 341 L68.6 340.7 L68.9 340.5 L69.2 340.3 L69.5 340 L69.9 339.8 L70.2 339.5 L70.5 339.2 L70.8 339 L71.2 338.7 L71.5 338.4 L71.8 338.1 L72.1 337.7 L72.5 337.4 L72.8 337.1 L73.1 336.7 L73.4 336.3 L73.8 336 L74.1 335.6 L74.4 335.2 L74.7 334.7 L75.1 334.3 L75.4 333.8 L75.7 333.3 L76 332.7 L76.4 332 L76.7 331.3 L77 330.6 L77.3 329.8 L77.7 329 L78 328.1 L78.3 327.2 L78.6 326.3 L79 325.3 L79.3 324.2 L79.6 323 L80 321.6 L80.3 320.2 L80.6 318.7 L80.9 317.3 L81.3 315.9 L81.6 314.6 L81.9 313.5 L82.2 312.5 L82.6 311.5 L82.9 310.6 L83.2 309.6 L83.5 308.7 L83.9 307.9 L84.2 307.1 L84.5 306.4 L84.8 305.8 L85.2 305.2 L85.5 304.8 L85.8 304.4 L86.1 304.1 L86.5 303.7 L86.8 303.4 L87.1 303.1 L87.4 302.8 L87.8 302.5 L88.1 302.3 L88.4 302.1 L88.7 301.9 L89.1 301.8 L89.4 301.7 L89.7 301.7 L90 301.7 L90.4 301.7 L90.7 301.7 L91 301.8 L91.3 301.8 L91.7 301.8 L92 301.8 L92.3 301.9 L92.7 301.9 L93 302 L93.3 302 L93.6 302.1 L94 302.1 L94.3 302.2 L94.6 302.2 L94.9 302.3 L95.3 302.5 L95.6 302.7 L95.9 303 L96.2 303.3 L96.6 303.6 L96.9 304 L97.2 304.3 L97.5 304.6 L97.9 305 L98.2 305.2 L98.5 305.5 L98.8 305.7 L99.2 305.8 L99.5 305.8 L99.8 305.8 L100.1 305.6 L100.5 305.4 L100.8 305.1 L101.1 304.8 L101.4 304.4 L101.8 304 L102.1 303.6 L102.4 303.2 L102.7 302.9 L103.1 302.5 L103.4 302.2 L103.7 302 L104.1 301.8 L104.4 301.7 L104.7 301.7 L105 301.6 L105.4 301.6 L105.7 301.6 L106 301.6 L106.3 301.5 L106.7 301.5 L107 301.5 L107.3 301.4 L107.6 301.4 L108 301.4 L108.3 301.4 L108.6 301.4 L108.9 301.3 L109.3 301.3 L109.6 301.3 L109.9 301.3 L110.2 301.3 L110.6 301.3 L110.9 301.3 L111.2 301.2 L111.5 301.2 L111.9 301.2 L112.2 301.2 L112.5 301.2 L112.8 301.2 L113.2 301.2 L113.5 301.2 L113.8 301.2 L114.1 301.2 L114.5 301.2 L114.8 301.2 L115.1 301.2 L115.4 301.2 L115.8 301.3 L116.1 301.3 L116.4 301.3 L116.8 301.4 L117.1 301.4 L117.4 301.5 L117.7 301.5 L118.1 301.6 L118.4 301.6 L118.7 301.7 L119 301.7 L119.4 301.8 L119.7 301.8 L120 301.9 L120.3 301.9 L120.7 302 L121 302 L121.3 302 L121.6 302.1 L122 302.1 L122.3 302.1 L122.6 302.2 L122.9 302.2 L123.3 302.2 L123.6 302.2 L123.9 302.2 L124.2 302.2 L124.6 302.2 L124.9 302.2 L125.2 302.2 L125.5 302.1 L125.9 302.1 L126.2 302.1 L126.5 302 L126.8 302 L127.2 302 L127.5 301.9 L127.8 301.9 L128.2 301.8 L128.5 301.8 L128.8 301.7 L129.1 301.7 L129.5 301.6 L129.8 301.6 L130.1 301.5 L130.4 301.5 L130.8 301.4 L131.1 301.4 L131.4 301.3 L131.7 301.3 L132.1 301.3 L132.4 301.2 L132.7 301.2 L133 301.2 L133.4 301.2 L133.7 301.2 L134 301.2 L134.3 301.2 L134.7 301.2 L135 301.2 L135.3 301.2 L135.6 301.3 L136 301.3 L136.3 301.3 L136.6 301.3 L136.9 301.4 L137.3 301.4 L137.6 301.4 L137.9 301.4 L138.2 301.5 L138.6 301.5 L138.9 301.6 L139.2 301.6 L139.5 301.6 L139.9 301.7 L140.2 301.7 L140.5 301.8 L140.9 301.8 L141.2 301.9 L141.5 301.9 L141.8 302 L142.2 302.1 L142.5 302.2 L142.8 302.3 L143.1 302.4 L143.5 302.5 L143.8 302.6 L144.1 302.7 L144.4 302.8 L144.8 302.9 L145.1 303.1 L145.4 303.2 L145.7 303.3 L146.1 303.5 L146.4 303.6 L146.7 303.8 L147 303.9 L147.4 304.2 L147.7 304.5 L148 304.8 L148.3 305.1 L148.7 305.5 L149 305.8 L149.3 306.2 L149.6 306.6 L150 306.9 L150.3 307.3 L150.6 307.6 L150.9 307.8 L151.3 308.1 L151.6 308.2 L151.9 308.3 L152.2 308.4 L152.6 308.4 L152.9 308.3 L153.2 308.2 L153.6 308 L153.9 307.8 L154.2 307.6 L154.5 307.3 L154.9 307.1 L155.2 306.8 L155.5 306.4 L155.8 306.1 L156.2 305.8 L156.5 305.4 L156.8 305 L157.1 304.7 L157.5 304.3 L157.8 304 L158.1 303.7 L158.4 303.3 L158.8 303 L159.1 302.8 L159.4 302.5 L159.7 302.3 L160.1 302.1 L160.4 301.9 L160.7 301.8 L161 301.7 L161.4 301.7 L161.7 301.7 L162 301.8 L162.3 301.8 L162.7 301.9 L163 302 L163.3 302.1 L163.6 302.3 L164 302.4 L164.3 302.6 L164.6 302.8 L165 303 L165.3 303.1 L165.6 303.3 L165.9 303.6 L166.3 303.8 L166.6 304 L166.9 304.2 L167.2 304.4 L167.6 304.6 L167.9 304.8 L168.2 305 L168.5 305.3 L168.9 305.6 L169.2 305.9 L169.5 306.2 L169.8 306.5 L170.2 306.9 L170.5 307.2 L170.8 307.6 L171.1 307.9 L171.5 308.2 L171.8 308.4 L172.1 308.6 L172.4 308.8 L172.8 308.9 L173.1 308.9 L173.4 308.8 L173.7 308.4 L174.1 307.9 L174.4 307.3 L174.7 306.6 L175 305.9 L175.4 305.3 L175.7 304.8 L176 304.4 L176.3 304.3 L176.7 304.3 L177 304.5 L177.3 304.7 L177.7 305 L178 305.4 L178.3 305.7 L178.6 306.1 L179 306.4 L179.3 306.6 L179.6 306.8 L179.9 306.8 L180.3 306.8 L180.6 306.5 L180.9 306.1 L181.2 305.7 L181.6 305.2 L181.9 304.6 L182.2 304 L182.5 303.4 L182.9 302.9 L183.2 302.4 L183.5 302 L183.8 301.8 L184.2 301.7 L184.5 301.8 L184.8 301.9 L185.1 302.2 L185.5 302.5 L185.8 302.9 L186.1 303.3 L186.4 303.8 L186.8 304.4 L187.1 305.3 L187.4 306.5 L187.7 307.8 L188.1 309.1 L188.4 310.4 L188.7 311.8 L189.1 313.3 L189.4 314.9 L189.7 316.5 L190 318.1 L190.4 319.7 L190.7 321.2 L191 322.8 L191.3 324.3 L191.7 325.8 L192 327.2 L192.3 328.4 L192.6 329.4 L193 330.4 L193.3 331.4 L193.6 332.2 L193.9 332.9 L194.3 333.5 L194.6 334 L194.9 334.5 L195.2 334.9 L195.6 335.3 L195.9 335.6 L196.2 336 L196.5 336.3 L196.9 336.6 L197.2 336.8 L197.5 337.1 L197.8 337.4 L198.2 337.7 L198.5 337.9 L198.8 338.2 L199.1 338.4 L199.5 338.6 L199.8 338.9 L200.1 339.1 L200.4 339.3 L200.8 339.5 L201.1 339.7 L201.4 339.9 L201.8 340 L202.1 340.2 L202.4 340.3 L202.7 340.5 L203.1 340.6 L203.4 340.7 L203.7 340.9 L204 341 L204.4 341.1 L204.7 341.2 L205 341.4 L205.3 341.5 L205.7 341.6 L206 341.7 L206.3 341.8 L206.6 341.9 L207 342 L207.3 342.1 L207.6 342.2 L207.9 342.3 L208.3 342.4 L208.6 342.5 L208.9 342.6 L209.2 342.7 L209.6 342.7 L209.9 342.8 L210.2 342.9 L210.5 343 L210.9 343.1 L211.2 343.1 L211.5 343.2 L211.8 343.3 L212.2 343.3 L212.5 343.4 L212.8 343.5 L213.1 343.5 L213.5 343.6 L213.8 343.7 L214.1 343.7 L214.5 343.8 L214.8 343.8 L215.1 343.9 L215.4 344 L215.8 344 L216.1 344.1 L216.4 344.1 L216.7 344.2 L217.1 344.2 L217.4 344.3 L217.7 344.3 L218 344.4 L218.4 344.4 L218.7 344.5 L219 344.5 L219.3 344.6 L219.7 344.6 L220 344.7 L220.3 344.7 L220.6 344.8 L221 344.8 L221.3 344.9 L221.6 344.9 L221.9 344.9 L222.3 345 L222.6 345 L222.9 345.1 L223.2 345.1 L223.6 345.2 L223.9 345.2 L224.2 345.2 L224.5 345.3 L224.9 345.3 L225.2 345.4 L225.5 345.4 L225.9 345.4 L226.2 345.5 L226.5 345.5 L226.8 345.5 L227.2 345.6 L227.5 345.6 L227.8 345.7 L228.1 345.7 L228.5 345.7 L228.8 345.8 L229.1 345.8 L229.4 345.8 L229.8 345.9 L230.1 345.9 L230.4 345.9 L230.7 346 L231.1 346 L231.4 346 L231.7 346.1 L232 346.1 L232.4 346.1 L232.7 346.2 L233 346.2 L233.3 346.2 L233.7 346.3 L234 346.3 L234.3 346.3 L234.6 346.3 L235 346.4 L235.3 346.4 L235.6 346.4 L235.9 346.5 L236.3 346.5 L236.6 346.5 L236.9 346.5 L237.2 346.6 L237.6 346.6 L237.9 346.6" fill="none" stroke="#3f78c4" stroke-width="1.0"/>
<rect x="42.5" y="301.2" width="195.4" height="51.3" fill="none" stroke="#8c8c8c" stroke-width="0.8"/>
<line x1="42.5" y1="339.7" x2="44.3" y2="339.7" stroke="#8c8c8c" stroke-width="0.7"/>
<line x1="237.9" y1="339.7" x2="236.1" y2="339.7" stroke="#8c8c8c" stroke-width="0.7"/>
<line x1="42.5" y1="326.9" x2="44.3" y2="326.9" stroke="#8c8c8c" stroke-width="0.7"/>
<line x1="237.9" y1="326.9" x2="236.1" y2="326.9" stroke="#8c8c8c" stroke-width="0.7"/>
<line x1="42.5" y1="314" x2="44.3" y2="314" stroke="#8c8c8c" stroke-width="0.7"/>
<line x1="237.9" y1="314" x2="236.1" y2="314" stroke="#8c8c8c" stroke-width="0.7"/>
<line x1="42.5" y1="352.5" x2="42.5" y2="350.7" stroke="#8c8c8c" stroke-width="0.7"/>
<line x1="42.5" y1="301.2" x2="42.5" y2="303.0" stroke="#8c8c8c" stroke-width="0.7"/>
<text x="42.5" y="364.5" font-size="9.0" text-anchor="middle" fill="#222" font-weight="normal" font-style="normal" font-family="'Liberation Serif', serif"  stroke="#222" stroke-width="0.2">400</text>
<line x1="91.3" y1="352.5" x2="91.3" y2="350.7" stroke="#8c8c8c" stroke-width="0.7"/>
<line x1="91.3" y1="301.2" x2="91.3" y2="303.0" stroke="#8c8c8c" stroke-width="0.7"/>
<text x="91.3" y="364.5" font-size="9.0" text-anchor="middle" fill="#222" font-weight="normal" font-style="normal" font-family="'Liberation Serif', serif"  stroke="#222" stroke-width="0.2">550</text>
<line x1="140.2" y1="352.5" x2="140.2" y2="350.7" stroke="#8c8c8c" stroke-width="0.7"/>
<line x1="140.2" y1="301.2" x2="140.2" y2="303.0" stroke="#8c8c8c" stroke-width="0.7"/>
<text x="140.2" y="364.5" font-size="9.0" text-anchor="middle" fill="#222" font-weight="normal" font-style="normal" font-family="'Liberation Serif', serif"  stroke="#222" stroke-width="0.2">700</text>
<line x1="189.1" y1="352.5" x2="189.1" y2="350.7" stroke="#8c8c8c" stroke-width="0.7"/>
<line x1="189.1" y1="301.2" x2="189.1" y2="303.0" stroke="#8c8c8c" stroke-width="0.7"/>
<text x="189.1" y="364.5" font-size="9.0" text-anchor="middle" fill="#222" font-weight="normal" font-style="normal" font-family="'Liberation Serif', serif"  stroke="#222" stroke-width="0.2">850</text>
<line x1="237.9" y1="352.5" x2="237.9" y2="350.7" stroke="#8c8c8c" stroke-width="0.7"/>
<line x1="237.9" y1="301.2" x2="237.9" y2="303.0" stroke="#8c8c8c" stroke-width="0.7"/>
<text x="237.9" y="364.5" font-size="9.0" text-anchor="middle" fill="#222" font-weight="normal" font-style="normal" font-family="'Liberation Serif', serif"  stroke="#222" stroke-width="0.2">1000</text>
<text x="136.4" y="376.3" font-size="9.6" text-anchor="middle" fill="#222" font-weight="normal" font-style="normal" font-family="'Liberation Serif', serif"  stroke="#222" stroke-width="0.2">Frequency (Hz)</text>
<text x="0" y="0" font-size="7.2" text-anchor="middle" fill="#222" font-weight="normal" font-style="normal" font-family="'Liberation Serif', serif" transform="translate(37.5 301.2) rotate(-90)" stroke="#222" stroke-width="0.2">1</text>
<text x="0" y="0" font-size="7.2" text-anchor="middle" fill="#222" font-weight="normal" font-style="normal" font-family="'Liberation Serif', serif" transform="translate(37.5 352.5) rotate(-90)" stroke="#222" stroke-width="0.2">0</text>
<text x="0" y="0" font-size="10.5" text-anchor="middle" fill="#222" font-weight="normal" font-style="italic" font-family="'Liberation Serif', serif" transform="translate(21.8 329) rotate(-90)" stroke="#222" stroke-width="0.2">α</text>
<rect x="186.6" y="270.6" width="75.4" height="28.8" fill="#fff" stroke="#555" stroke-width="0.8"/>
<line x1="189" y1="276.9" x2="214" y2="276.9" stroke="#3f78c4" stroke-width="1.1"/>
<line x1="189" y1="285" x2="214" y2="285" stroke="#d8342a" stroke-width="1.5" stroke-dasharray="4 3"/>
<circle cx="201.5" cy="293.7" r="1.4" fill="none" stroke="#333" stroke-width="0.8"/>
<text x="237.8" y="279.6" font-size="8.7" text-anchor="middle" fill="#222" font-weight="normal" font-style="normal" font-family="'Liberation Serif', serif"  stroke="#222" stroke-width="0.2">theory</text>
<text x="236.6" y="287.7" font-size="8.7" text-anchor="middle" fill="#222" font-weight="normal" font-style="normal" font-family="'Liberation Serif', serif"  stroke="#222" stroke-width="0.2">simulation</text>
<text x="237.6" y="296.3" font-size="8.7" text-anchor="middle" fill="#222" font-weight="normal" font-style="normal" font-family="'Liberation Serif', serif"  stroke="#222" stroke-width="0.2">experiment</text>
<text x="278.1" y="16.9" font-size="11" text-anchor="start" fill="#222" font-weight="bold" font-style="normal" font-family="'Liberation Serif', serif"  stroke="#222" stroke-width="0.2">(c)</text>
<polygon points="325,34 339.8,36.5 339.8,91.5 353,93 353,97.5 346.5,104.3 325,98.5" fill="#c8641c" />
<polygon points="325.3,33.9 334.4,15.3 346.4,19.2 339.8,36.5" fill="#f39a2a" />
<polygon points="325.8,32.8 329.5,25.3 342.8,28.5 340.2,35.5" fill="#f7a53a" stroke="#d9791a" stroke-width="0.6"/>
<ellipse cx="334.6" cy="30.5" rx="2.4" ry="3" fill="none" stroke="#d66a12" stroke-width="0.8"/>
<polygon points="330.4,23.5 334,16 346.1,19.9 343.5,26.8" fill="#f7a53a" stroke="#d9791a" stroke-width="0.6"/>
<ellipse cx="338.5" cy="21.6" rx="2.4" ry="3" fill="none" stroke="#d66a12" stroke-width="0.8"/>
<line x1="325" y1="53.0" x2="339.8" y2="55.0" stroke="#a54e12" stroke-width="0.6" opacity="0.6"/>
<line x1="325" y1="72.0" x2="339.8" y2="74.0" stroke="#a54e12" stroke-width="0.6" opacity="0.6"/>
<line x1="325" y1="88.0" x2="339.8" y2="90.0" stroke="#a54e12" stroke-width="0.6" opacity="0.6"/>
<polygon points="325,90 339.8,91.5 353,93 353,97.5 346.5,104.3 325,98.5" fill="#b8581a" />
<line x1="339.8" y1="36.5" x2="339.8" y2="91.5" stroke="#a04a10" stroke-width="0.6" opacity="0.7"/>
<polygon points="339.8,36.5 386.5,50.5 386.5,117.5 353,108 353,93 339.8,91.5" fill="#5c9a1e" />
<polygon points="386.5,50.5 393,31.5 393,97 386.5,117.5" fill="#4c8818" />
<polygon points="339.8,36.5 343.7,37.7 343.7,91.5 339.8,91.5" fill="#78b62e" />
<line x1="339.8" y1="36.5" x2="339.8" y2="91.5" stroke="#3d7812" stroke-width="0.6" opacity="0.8"/>
<polygon points="347.6,38.8 355.4,41.2 355.4,88 347.6,86" fill="#c2c22a" />
<line x1="347.6" y1="38.8" x2="347.6" y2="91.5" stroke="#3d7812" stroke-width="0.6" opacity="0.8"/>
<polygon points="355.4,41.2 359.3,42.3 359.3,109.8 355.4,108.7" fill="#78b62e" />
<line x1="355.4" y1="41.2" x2="355.4" y2="108.7" stroke="#3d7812" stroke-width="0.6" opacity="0.8"/>
<polygon points="363.1,43.5 370.9,45.8 370.9,82 363.1,80" fill="#c2c22a" />
<line x1="363.1" y1="43.5" x2="363.1" y2="110.8" stroke="#3d7812" stroke-width="0.6" opacity="0.8"/>
<polygon points="370.9,45.8 374.8,47 374.8,114.1 370.9,113" fill="#78b62e" />
<line x1="370.9" y1="45.8" x2="370.9" y2="113" stroke="#3d7812" stroke-width="0.6" opacity="0.8"/>
<polygon points="378.7,48.2 386.5,50.5 386.5,76 378.7,74" fill="#c2c22a" />
<line x1="378.7" y1="48.2" x2="378.7" y2="115.2" stroke="#3d7812" stroke-width="0.6" opacity="0.8"/>
<line x1="353" y1="64" x2="386.5" y2="74" stroke="#3d7812" stroke-width="0.4" opacity="0.5"/>
<line x1="353" y1="79" x2="386.5" y2="89" stroke="#3d7812" stroke-width="0.4" opacity="0.5"/>
<line x1="353" y1="94" x2="386.5" y2="104" stroke="#3d7812" stroke-width="0.4" opacity="0.5"/>
<line x1="353" y1="108" x2="386.5" y2="118" stroke="#3d7812" stroke-width="0.4" opacity="0.5"/>
<polygon points="339.8,36.5 349.2,17.6 393,31.5 386.5,50.5" fill="#77b42e" />
<polygon points="339.8,36.5 347.6,38.8 356.5,19.9 349.2,17.6" fill="#86c238" />
<line x1="341.7" y1="32.7" x2="349.4" y2="35.1" stroke="#4f8a1a" stroke-width="0.6" opacity="0.75"/>
<line x1="343.6" y1="28.9" x2="351.2" y2="31.3" stroke="#4f8a1a" stroke-width="0.6" opacity="0.75"/>
<line x1="345.4" y1="25.2" x2="352.9" y2="27.5" stroke="#4f8a1a" stroke-width="0.6" opacity="0.75"/>
<line x1="347.3" y1="21.4" x2="354.7" y2="23.7" stroke="#4f8a1a" stroke-width="0.6" opacity="0.75"/>
<line x1="347.6" y1="38.8" x2="356.5" y2="19.9" stroke="#4f8a1a" stroke-width="0.6" opacity="0.75"/>
<polygon points="347.6,38.8 355.4,41.2 363.8,22.2 356.5,19.9" fill="#ece53c" />
<line x1="349.4" y1="35.1" x2="357.1" y2="37.4" stroke="#4f8a1a" stroke-width="0.6" opacity="0.75"/>
<line x1="351.2" y1="31.3" x2="358.7" y2="33.6" stroke="#4f8a1a" stroke-width="0.6" opacity="0.75"/>
<line x1="352.9" y1="27.5" x2="360.4" y2="29.8" stroke="#4f8a1a" stroke-width="0.6" opacity="0.75"/>
<line x1="354.7" y1="23.7" x2="362.1" y2="26" stroke="#4f8a1a" stroke-width="0.6" opacity="0.75"/>
<line x1="355.4" y1="41.2" x2="363.8" y2="22.2" stroke="#4f8a1a" stroke-width="0.6" opacity="0.75"/>
<polygon points="355.4,41.2 363.1,43.5 371.1,24.6 363.8,22.2" fill="#86c238" />
<line x1="357.1" y1="37.4" x2="364.7" y2="39.7" stroke="#4f8a1a" stroke-width="0.6" opacity="0.75"/>
<line x1="358.7" y1="33.6" x2="366.3" y2="35.9" stroke="#4f8a1a" stroke-width="0.6" opacity="0.75"/>
<line x1="360.4" y1="29.8" x2="367.9" y2="32.1" stroke="#4f8a1a" stroke-width="0.6" opacity="0.75"/>
<line x1="362.1" y1="26" x2="369.5" y2="28.3" stroke="#4f8a1a" stroke-width="0.6" opacity="0.75"/>
<line x1="363.1" y1="43.5" x2="371.1" y2="24.6" stroke="#4f8a1a" stroke-width="0.6" opacity="0.75"/>
<polygon points="363.1,43.5 370.9,45.8 378.4,26.9 371.1,24.6" fill="#ece53c" />
<line x1="364.7" y1="39.7" x2="372.4" y2="42" stroke="#4f8a1a" stroke-width="0.6" opacity="0.75"/>
<line x1="366.3" y1="35.9" x2="373.9" y2="38.2" stroke="#4f8a1a" stroke-width="0.6" opacity="0.75"/>
<line x1="367.9" y1="32.1" x2="375.4" y2="34.5" stroke="#4f8a1a" stroke-width="0.6" opacity="0.75"/>
<line x1="369.5" y1="28.3" x2="376.9" y2="30.7" stroke="#4f8a1a" stroke-width="0.6" opacity="0.75"/>
<line x1="370.9" y1="45.8" x2="378.4" y2="26.9" stroke="#4f8a1a" stroke-width="0.6" opacity="0.75"/>
<polygon points="370.9,45.8 378.7,48.2 385.7,29.2 378.4,26.9" fill="#86c238" />
<line x1="372.4" y1="42" x2="380.1" y2="44.4" stroke="#4f8a1a" stroke-width="0.6" opacity="0.75"/>
<line x1="373.9" y1="38.2" x2="381.5" y2="40.6" stroke="#4f8a1a" stroke-width="0.6" opacity="0.75"/>
<line x1="375.4" y1="34.5" x2="382.9" y2="36.8" stroke="#4f8a1a" stroke-width="0.6" opacity="0.75"/>
<line x1="376.9" y1="30.7" x2="384.3" y2="33" stroke="#4f8a1a" stroke-width="0.6" opacity="0.75"/>
<line x1="378.7" y1="48.2" x2="385.7" y2="29.2" stroke="#4f8a1a" stroke-width="0.6" opacity="0.75"/>
<polygon points="378.7,48.2 386.5,50.5 393,31.5 385.7,29.2" fill="#ece53c" />
<line x1="380.1" y1="44.4" x2="387.8" y2="46.7" stroke="#4f8a1a" stroke-width="0.6" opacity="0.75"/>
<line x1="381.5" y1="40.6" x2="389.1" y2="42.9" stroke="#4f8a1a" stroke-width="0.6" opacity="0.75"/>
<line x1="382.9" y1="36.8" x2="390.4" y2="39.1" stroke="#4f8a1a" stroke-width="0.6" opacity="0.75"/>
<line x1="384.3" y1="33" x2="391.7" y2="35.3" stroke="#4f8a1a" stroke-width="0.6" opacity="0.75"/>
<line x1="386.5" y1="50.5" x2="393" y2="31.5" stroke="#4f8a1a" stroke-width="0.6" opacity="0.75"/>
<rect x="353.6" y="6.5" width="3.2" height="14" fill="#e2202a"/>
<path d="M350.6 19.5 L359.8 19.5 L355.2 27.2 Z" fill="#e2202a"/>
<rect x="369.4" y="19.5" width="3.4" height="15.2" fill="#1f6fc0"/>
<path d="M366.2 20.5 L376 20.5 L371.1 12.5 Z" fill="#1f6fc0"/>
<text x="337.2" y="13.2" font-size="7.6" text-anchor="middle" fill="#222" font-weight="normal" font-style="normal" font-family="'Liberation Serif', serif"  stroke="#222" stroke-width="0.2">Incident</text>
<text x="393.5" y="20" font-size="7.6" text-anchor="middle" fill="#222" font-weight="normal" font-style="normal" font-family="'Liberation Serif', serif"  stroke="#222" stroke-width="0.2">Reflected</text>
<line x1="310.2" y1="30.8" x2="325.4" y2="35.2" stroke="#333" stroke-width="0.6"/>
<path d="M313.4 33 V98 L345.5 107.7" fill="none" stroke="#333" stroke-width="0.7"/>
<path d="M311.6 37 L313.4 32.6 L315.2 37 Z" fill="#222"/>
<path d="M341 104.6 L346.2 107.9 L340.1 107.9 Z" fill="#222"/>
<line x1="348.3" y1="104.5" x2="345.3" y2="112.8" stroke="#333" stroke-width="0.7"/>
<line x1="318.4" y1="51" x2="325.4" y2="53.2" stroke="#333" stroke-width="0.6"/>
<line x1="318.4" y1="68.7" x2="325.4" y2="70.2" stroke="#333" stroke-width="0.6"/>
<line x1="321.8" y1="52.5" x2="321.8" y2="68.7" stroke="#333" stroke-width="0.7"/>
<path d="M320.5 55.5 L321.8 52.4 L323.1 55.5 Z M320.5 65.8 L321.8 68.9 L323.1 65.8 Z" fill="#222"/>
<text x="314.6" y="62.5" font-size="8.5" font-style="italic" fill="#222" font-family="'Liberation Serif', serif" stroke="#222" stroke-width="0.2">l<tspan font-size="5.5" dy="1.5">1</tspan></text>
<text x="304.6" y="82" font-size="9.5" font-style="italic" fill="#222" font-family="'Liberation Serif', serif" stroke="#222" stroke-width="0.2">l<tspan font-size="6" dy="1.8">0</tspan></text>
<line x1="391.8" y1="31.6" x2="400.5" y2="19" stroke="#333" stroke-width="0.6"/>
<line x1="396.8" y1="26" x2="396.8" y2="90.5" stroke="#333" stroke-width="0.7"/>
<path d="M395.3 29.5 L396.8 25.5 L398.3 29.5 Z M395.3 87 L396.8 91 L398.3 87 Z" fill="#222"/>
<line x1="393" y1="98.7" x2="399" y2="89.5" stroke="#333" stroke-width="0.6"/>
<text x="401.5" y="57.3" font-size="8" font-style="italic" fill="#222" font-family="'Liberation Serif', serif" stroke="#222" stroke-width="0.2">H</text>
<path d="M313.8 115.3 V105.5 M313.8 115.3 L326.5 118.4 M313.8 115.3 L309.5 123" fill="none" stroke="#222" stroke-width="0.8"/>
<path d="M312.3 106.5 L313.8 102.5 L315.3 106.5 Z M325.5 116.4 L329.5 118.9 L324.8 119.6 Z M308.2 121.2 L308.3 125.2 L311 122.5 Z" fill="#222"/>
<text x="307.3" y="108.8" font-size="8" font-style="italic" fill="#222" font-family="'Liberation Serif', serif" stroke="#222" stroke-width="0.2">z</text>
<text x="329.8" y="121" font-size="8" font-style="italic" fill="#222" font-family="'Liberation Serif', serif" stroke="#222" stroke-width="0.2">y</text>
<text x="304.0" y="121.7" font-size="8" font-style="italic" fill="#222" font-family="'Liberation Serif', serif" stroke="#222" stroke-width="0.2">x</text>
<rect x="315.6" y="140" width="18.6" height="18.6" fill="#f5921f"/>
<rect x="315.6" y="161.2" width="18.6" height="18" fill="#f5921f"/>
<text x="324.9" y="151.8" font-size="6.8" text-anchor="middle" fill="#3a2a10" font-weight="bold" font-style="normal" font-family="'Liberation Serif', serif"  stroke="#3a2a10" stroke-width="0.2">1</text>
<text x="324.9" y="172.4" font-size="6.8" text-anchor="middle" fill="#3a2a10" font-weight="bold" font-style="normal" font-family="'Liberation Serif', serif"  stroke="#3a2a10" stroke-width="0.2">2</text>
<rect x="336.5" y="139.5" width="8.9" height="9.5" fill="#7dba34"/>
<text x="340.9" y="146.7" font-size="6.7" text-anchor="middle" fill="#222" font-weight="bold" font-style="normal" font-family="'Liberation Serif', serif"  stroke="#222" stroke-width="0.2">3</text>
<rect x="346.6" y="139.5" width="8.8" height="9.5" fill="#e9e43e"/>
<text x="351" y="146.7" font-size="6.7" text-anchor="middle" fill="#222" font-weight="bold" font-style="normal" font-family="'Liberation Serif', serif"  stroke="#222" stroke-width="0.2">4</text>
<rect x="357.0" y="139.5" width="9.8" height="9.5" fill="#7dba34"/>
<text x="361.9" y="146.7" font-size="6.7" text-anchor="middle" fill="#222" font-weight="bold" font-style="normal" font-family="'Liberation Serif', serif"  stroke="#222" stroke-width="0.2">7</text>
<rect x="367.7" y="139.5" width="9.2" height="9.5" fill="#7dba34"/>
<text x="372.3" y="146.7" font-size="6.7" text-anchor="middle" fill="#222" font-weight="bold" font-style="normal" font-family="'Liberation Serif', serif"  stroke="#222" stroke-width="0.2">8</text>
<rect x="378.0" y="139.5" width="9.2" height="9.5" fill="#e9e43e"/>
<text x="382.6" y="146.7" font-size="6.7" text-anchor="middle" fill="#222" font-weight="bold" font-style="normal" font-family="'Liberation Serif', serif"  stroke="#222" stroke-width="0.2">11</text>
<rect x="388.0" y="139.5" width="9.4" height="9.5" fill="#7dba34"/>
<text x="392.7" y="146.7" font-size="6.7" text-anchor="middle" fill="#222" font-weight="bold" font-style="normal" font-family="'Liberation Serif', serif"  stroke="#222" stroke-width="0.2">12</text>
<rect x="336.5" y="150.0" width="8.9" height="9.2" fill="#7dba34"/>
<text x="340.9" y="157" font-size="6.7" text-anchor="middle" fill="#222" font-weight="bold" font-style="normal" font-family="'Liberation Serif', serif"  stroke="#222" stroke-width="0.2">3</text>
<rect x="346.6" y="150.0" width="8.8" height="9.2" fill="#e9e43e"/>
<text x="351" y="157" font-size="6.7" text-anchor="middle" fill="#222" font-weight="bold" font-style="normal" font-family="'Liberation Serif', serif"  stroke="#222" stroke-width="0.2">4</text>
<rect x="357.0" y="150.0" width="9.8" height="9.2" fill="#7dba34"/>
<text x="361.9" y="157" font-size="6.7" text-anchor="middle" fill="#222" font-weight="bold" font-style="normal" font-family="'Liberation Serif', serif"  stroke="#222" stroke-width="0.2">7</text>
<rect x="367.7" y="150.0" width="9.2" height="9.2" fill="#7dba34"/>
<text x="372.3" y="157" font-size="6.7" text-anchor="middle" fill="#222" font-weight="bold" font-style="normal" font-family="'Liberation Serif', serif"  stroke="#222" stroke-width="0.2">8</text>
<rect x="378.0" y="150.0" width="9.2" height="9.2" fill="#e9e43e"/>
<text x="382.6" y="157" font-size="6.7" text-anchor="middle" fill="#222" font-weight="bold" font-style="normal" font-family="'Liberation Serif', serif"  stroke="#222" stroke-width="0.2">11</text>
<rect x="388.0" y="150.0" width="9.4" height="9.2" fill="#7dba34"/>
<text x="392.7" y="157" font-size="6.7" text-anchor="middle" fill="#222" font-weight="bold" font-style="normal" font-family="'Liberation Serif', serif"  stroke="#222" stroke-width="0.2">12</text>
<rect x="336.5" y="160.5" width="8.9" height="9.2" fill="#7dba34"/>
<text x="340.9" y="167.5" font-size="6.7" text-anchor="middle" fill="#222" font-weight="bold" font-style="normal" font-family="'Liberation Serif', serif"  stroke="#222" stroke-width="0.2">5</text>
<rect x="346.6" y="160.5" width="8.8" height="9.2" fill="#e9e43e"/>
<text x="351" y="167.5" font-size="6.7" text-anchor="middle" fill="#222" font-weight="bold" font-style="normal" font-family="'Liberation Serif', serif"  stroke="#222" stroke-width="0.2">6</text>
<rect x="357.0" y="160.5" width="9.8" height="9.2" fill="#7dba34"/>
<rect x="367.7" y="160.5" width="9.2" height="9.2" fill="#e9e43e"/>
<rect x="378.0" y="160.5" width="9.2" height="9.2" fill="#7dba34"/>
<text x="382.6" y="167.5" font-size="6.7" text-anchor="middle" fill="#222" font-weight="bold" font-style="normal" font-family="'Liberation Serif', serif"  stroke="#222" stroke-width="0.2">13</text>
<rect x="388.0" y="160.5" width="9.4" height="9.2" fill="#e9e43e"/>
<text x="392.7" y="167.5" font-size="6.7" text-anchor="middle" fill="#222" font-weight="bold" font-style="normal" font-family="'Liberation Serif', serif"  stroke="#222" stroke-width="0.2">14</text>
<rect x="336.5" y="170.8" width="8.9" height="9.4" fill="#7dba34"/>
<text x="340.9" y="177.9" font-size="6.7" text-anchor="middle" fill="#222" font-weight="bold" font-style="normal" font-family="'Liberation Serif', serif"  stroke="#222" stroke-width="0.2">56</text>
<rect x="346.6" y="170.8" width="8.8" height="9.4" fill="#e9e43e"/>
<rect x="357.0" y="170.8" width="9.8" height="9.4" fill="#7dba34"/>
<text x="361.9" y="177.9" font-size="6.7" text-anchor="middle" fill="#222" font-weight="bold" font-style="normal" font-family="'Liberation Serif', serif"  stroke="#222" stroke-width="0.2">9</text>
<rect x="367.7" y="170.8" width="9.2" height="9.4" fill="#e9e43e"/>
<text x="372.3" y="177.9" font-size="6.7" text-anchor="middle" fill="#222" font-weight="bold" font-style="normal" font-family="'Liberation Serif', serif"  stroke="#222" stroke-width="0.2">10</text>
<rect x="378.0" y="170.8" width="9.2" height="9.4" fill="#7dba34"/>
<text x="382.6" y="177.9" font-size="6.7" text-anchor="middle" fill="#222" font-weight="bold" font-style="normal" font-family="'Liberation Serif', serif"  stroke="#222" stroke-width="0.2">13</text>
<rect x="388.0" y="170.8" width="9.4" height="9.4" fill="#e9e43e"/>
<text x="392.7" y="177.9" font-size="6.7" text-anchor="middle" fill="#222" font-weight="bold" font-style="normal" font-family="'Liberation Serif', serif"  stroke="#222" stroke-width="0.2">14</text>
<text x="366.2" y="167.5" font-size="6.7" text-anchor="middle" fill="#222" font-weight="bold" font-style="normal" font-family="'Liberation Serif', serif"  stroke="#222" stroke-width="0.2">910</text>
<rect x="347.1" y="140.0" width="7.8" height="8.5" fill="none" stroke="#333" stroke-width="0.8"/>
<rect x="314.2" y="138.3" width="84.5" height="43.3" fill="none" stroke="#ee8a40" stroke-width="1" stroke-dasharray="3 2"/>
<path d="M312.2 136.3 H324.5 M312.2 136.3 V147" fill="none" stroke="#222" stroke-width="0.8"/>
<path d="M323.5 134.8 L327.2 136.3 L323.5 137.8 Z M310.7 146 L312.2 149.7 L313.7 146 Z" fill="#222"/>
<text x="327.8" y="135.5" font-size="8" font-style="italic" fill="#222" font-family="'Liberation Serif', serif" stroke="#222" stroke-width="0.2">y</text>
<text x="308.2" y="155" font-size="8" font-style="italic" fill="#222" font-family="'Liberation Serif', serif" stroke="#222" stroke-width="0.2">x</text>
<text x="357" y="135.8" font-size="9" font-style="italic" fill="#333" font-family="'Liberation Serif', serif" stroke="#333" stroke-width="0.2">S<tspan font-size="6" dy="1.5">c</tspan></text>
<line x1="352.5" y1="138.5" x2="355.5" y2="133.5" stroke="#333" stroke-width="0.7"/>
<text x="384.3" y="135.8" font-size="9" font-style="italic" fill="#e8682a" font-family="'Liberation Serif', serif" stroke="#e8682a" stroke-width="0.2">S<tspan font-size="6" dy="1.5">0</tspan></text>
<line x1="380.5" y1="138.5" x2="383.5" y2="133.5" stroke="#e8682a" stroke-width="0.7"/>
<line x1="398.7" y1="138.3" x2="406" y2="138.3" stroke="#333" stroke-width="0.6"/>
<line x1="398.7" y1="181.6" x2="406" y2="181.6" stroke="#333" stroke-width="0.6"/>
<line x1="403.2" y1="139" x2="403.2" y2="181" stroke="#222" stroke-width="0.8"/>
<path d="M401.7 142.5 L403.2 138.6 L404.7 142.5 Z M401.7 177.5 L403.2 181.4 L404.7 177.5 Z" fill="#222"/>
<text x="405.8" y="160.4" font-size="7.2" font-style="italic" fill="#333" font-family="'Liberation Serif', serif" stroke="#333" stroke-width="0.2">W</text>
<line x1="314.3" y1="181.6" x2="314.3" y2="190" stroke="#333" stroke-width="0.6"/>
<line x1="398.3" y1="181.6" x2="398.3" y2="190" stroke="#333" stroke-width="0.6"/>
<line x1="315" y1="186.3" x2="397.6" y2="186.3" stroke="#222" stroke-width="0.8"/>
<path d="M318.5 184.8 L314.6 186.3 L318.5 187.8 Z M394 184.8 L397.9 186.3 L394 187.8 Z" fill="#222"/>
<text x="353.5" y="196" font-size="9" font-style="italic" fill="#222" font-family="'Liberation Serif', serif" stroke="#222" stroke-width="0.2">L</text>
<rect x="432.2" y="11.3" width="76.2" height="173.0" fill="#1c1718"/>
<rect x="432.2" y="105.5" width="76.2" height="1.2" fill="#2c2828"/>
<defs><linearGradient id="cf" x1="0" y1="0" x2="0" y2="1"><stop offset="0" stop-color="#e4ded0"/><stop offset="0.55" stop-color="#d2c9b6"/><stop offset="1" stop-color="#a89c86"/></linearGradient><linearGradient id="ct" x1="0" y1="0" x2="0" y2="1"><stop offset="0" stop-color="#f4f1e8"/><stop offset="1" stop-color="#ece6d6"/></linearGradient><linearGradient id="pl" x1="0" y1="0" x2="0" y2="1"><stop offset="0" stop-color="#f2f0ee"/><stop offset="1" stop-color="#e6e4e2"/></linearGradient></defs>
<polygon points="439.5,66.3 500.7,65.2 498.5,80 492.6,96.5 447,97 441.5,82" fill="url(#cf)" />
<polygon points="446.4,20.8 498.6,20.3 500.5,65.2 439.5,66.3" fill="url(#ct)" />
<circle cx="438" cy="76" r="2" fill="#2f8a3a" opacity="0.8"/>
<circle cx="454.8" cy="24.5" r="1.38" fill="#aca48e" opacity="0.9"/>
<circle cx="461" cy="24.5" r="0.92" fill="#aca48e" opacity="0.9"/>
<circle cx="467.2" cy="24.5" r="1.15" fill="#aca48e" opacity="0.9"/>
<circle cx="473.4" cy="24.5" r="0.80" fill="#aca48e" opacity="0.9"/>
<circle cx="479.7" cy="24.5" r="1.26" fill="#aca48e" opacity="0.9"/>
<circle cx="485.9" cy="24.5" r="0.92" fill="#aca48e" opacity="0.9"/>
<circle cx="492.1" cy="24.5" r="1.15" fill="#aca48e" opacity="0.9"/>
<circle cx="454" cy="30" r="0.92" fill="#aca48e" opacity="0.9"/>
<circle cx="460.4" cy="30" r="1.15" fill="#aca48e" opacity="0.9"/>
<circle cx="466.7" cy="30" r="0.80" fill="#aca48e" opacity="0.9"/>
<circle cx="473.1" cy="30" r="1.26" fill="#aca48e" opacity="0.9"/>
<circle cx="479.5" cy="30" r="0.92" fill="#aca48e" opacity="0.9"/>
<circle cx="485.8" cy="30" r="1.15" fill="#aca48e" opacity="0.9"/>
<circle cx="492.2" cy="30" r="1.38" fill="#aca48e" opacity="0.9"/>
<circle cx="453.2" cy="35.5" r="1.15" fill="#aca48e" opacity="0.9"/>
<circle cx="459.7" cy="35.5" r="0.80" fill="#aca48e" opacity="0.9"/>
<circle cx="466.2" cy="35.5" r="1.26" fill="#aca48e" opacity="0.9"/>
<circle cx="472.7" cy="35.5" r="0.92" fill="#aca48e" opacity="0.9"/>
<circle cx="479.3" cy="35.5" r="1.15" fill="#aca48e" opacity="0.9"/>
<circle cx="485.8" cy="35.5" r="1.38" fill="#aca48e" opacity="0.9"/>
<circle cx="492.3" cy="35.5" r="0.92" fill="#aca48e" opacity="0.9"/>
<circle cx="452.3" cy="41" r="0.80" fill="#aca48e" opacity="0.9"/>
<circle cx="459" cy="41" r="1.26" fill="#aca48e" opacity="0.9"/>
<circle cx="465.7" cy="41" r="0.92" fill="#aca48e" opacity="0.9"/>
<circle cx="472.4" cy="41" r="1.15" fill="#aca48e" opacity="0.9"/>
<circle cx="479.1" cy="41" r="1.38" fill="#aca48e" opacity="0.9"/>
<circle cx="485.8" cy="41" r="0.92" fill="#aca48e" opacity="0.9"/>
<circle cx="492.5" cy="41" r="1.15" fill="#aca48e" opacity="0.9"/>
<circle cx="451.5" cy="46.5" r="1.26" fill="#aca48e" opacity="0.9"/>
<circle cx="458.4" cy="46.5" r="0.92" fill="#aca48e" opacity="0.9"/>
<circle cx="465.2" cy="46.5" r="1.15" fill="#aca48e" opacity="0.9"/>
<circle cx="472" cy="46.5" r="1.38" fill="#aca48e" opacity="0.9"/>
<circle cx="478.9" cy="46.5" r="0.92" fill="#aca48e" opacity="0.9"/>
<circle cx="485.7" cy="46.5" r="1.15" fill="#aca48e" opacity="0.9"/>
<circle cx="492.6" cy="46.5" r="0.80" fill="#aca48e" opacity="0.9"/>
<circle cx="450.7" cy="52" r="0.92" fill="#aca48e" opacity="0.9"/>
<circle cx="457.7" cy="52" r="1.15" fill="#aca48e" opacity="0.9"/>
<circle cx="464.7" cy="52" r="1.38" fill="#aca48e" opacity="0.9"/>
<circle cx="471.7" cy="52" r="0.92" fill="#aca48e" opacity="0.9"/>
<circle cx="478.7" cy="52" r="1.15" fill="#aca48e" opacity="0.9"/>
<circle cx="485.7" cy="52" r="0.80" fill="#aca48e" opacity="0.9"/>
<circle cx="492.7" cy="52" r="1.26" fill="#aca48e" opacity="0.9"/>
<circle cx="449.8" cy="57.5" r="1.15" fill="#aca48e" opacity="0.9"/>
<circle cx="457" cy="57.5" r="1.38" fill="#aca48e" opacity="0.9"/>
<circle cx="464.2" cy="57.5" r="0.92" fill="#aca48e" opacity="0.9"/>
<circle cx="471.4" cy="57.5" r="1.15" fill="#aca48e" opacity="0.9"/>
<circle cx="478.5" cy="57.5" r="0.80" fill="#aca48e" opacity="0.9"/>
<circle cx="485.7" cy="57.5" r="1.26" fill="#aca48e" opacity="0.9"/>
<circle cx="492.9" cy="57.5" r="0.92" fill="#aca48e" opacity="0.9"/>
<circle cx="449" cy="63" r="1.38" fill="#aca48e" opacity="0.9"/>
<circle cx="456.3" cy="63" r="0.92" fill="#aca48e" opacity="0.9"/>
<circle cx="463.7" cy="63" r="1.15" fill="#aca48e" opacity="0.9"/>
<circle cx="471" cy="63" r="0.80" fill="#aca48e" opacity="0.9"/>
<circle cx="478.3" cy="63" r="1.26" fill="#aca48e" opacity="0.9"/>
<circle cx="485.7" cy="63" r="0.92" fill="#aca48e" opacity="0.9"/>
<circle cx="493" cy="63" r="1.15" fill="#aca48e" opacity="0.9"/>
<circle cx="448.9" cy="27" r="1.4" fill="#a9a290"/>
<circle cx="447.1" cy="39" r="1.4" fill="#a9a290"/>
<circle cx="445.1" cy="52" r="1.4" fill="#a9a290"/>
<circle cx="443.4" cy="63" r="1.4" fill="#a9a290"/>
<polygon points="436.4,114 503,113.7 503.2,181.5 436.6,181.7" fill="url(#pl)" />
<circle cx="455.5" cy="117.5" r="1.7" fill="#85857a" opacity="0.8"/>
<circle cx="463.8" cy="117.5" r="0.9" fill="#85857a" opacity="0.8"/>
<circle cx="472.1" cy="117.5" r="1.7" fill="#85857a" opacity="0.8"/>
<circle cx="480.4" cy="117.5" r="0.9" fill="#85857a" opacity="0.8"/>
<circle cx="488.7" cy="117.5" r="1.7" fill="#85857a" opacity="0.8"/>
<circle cx="497" cy="117.5" r="0.9" fill="#85857a" opacity="0.8"/>
<circle cx="455.5" cy="125.6" r="1.0" fill="#85857a" opacity="0.8"/>
<circle cx="463.8" cy="125.6" r="1.9" fill="#85857a" opacity="0.8"/>
<circle cx="472.1" cy="125.6" r="1.0" fill="#85857a" opacity="0.8"/>
<circle cx="480.4" cy="125.6" r="1.9" fill="#85857a" opacity="0.8"/>
<circle cx="488.7" cy="125.6" r="1.0" fill="#85857a" opacity="0.8"/>
<circle cx="497" cy="125.6" r="1.9" fill="#85857a" opacity="0.8"/>
<circle cx="455.5" cy="133.7" r="1.4" fill="#85857a" opacity="0.8"/>
<circle cx="463.8" cy="133.7" r="1.1" fill="#85857a" opacity="0.8"/>
<circle cx="472.1" cy="133.7" r="1.4" fill="#85857a" opacity="0.8"/>
<circle cx="480.4" cy="133.7" r="1.1" fill="#85857a" opacity="0.8"/>
<circle cx="488.7" cy="133.7" r="1.4" fill="#85857a" opacity="0.8"/>
<circle cx="497" cy="133.7" r="1.1" fill="#85857a" opacity="0.8"/>
<circle cx="455.5" cy="141.8" r="0.9" fill="#85857a" opacity="0.8"/>
<circle cx="463.8" cy="141.8" r="1.7" fill="#85857a" opacity="0.8"/>
<circle cx="472.1" cy="141.8" r="0.9" fill="#85857a" opacity="0.8"/>
<circle cx="480.4" cy="141.8" r="1.7" fill="#85857a" opacity="0.8"/>
<circle cx="488.7" cy="141.8" r="0.9" fill="#85857a" opacity="0.8"/>
<circle cx="497" cy="141.8" r="1.7" fill="#85857a" opacity="0.8"/>
<circle cx="455.5" cy="149.9" r="1.9" fill="#85857a" opacity="0.8"/>
<circle cx="463.8" cy="149.9" r="1.0" fill="#85857a" opacity="0.8"/>
<circle cx="472.1" cy="149.9" r="1.9" fill="#85857a" opacity="0.8"/>
<circle cx="480.4" cy="149.9" r="1.0" fill="#85857a" opacity="0.8"/>
<circle cx="488.7" cy="149.9" r="1.9" fill="#85857a" opacity="0.8"/>
<circle cx="497" cy="149.9" r="1.0" fill="#85857a" opacity="0.8"/>
<circle cx="455.5" cy="158" r="1.1" fill="#85857a" opacity="0.8"/>
<circle cx="463.8" cy="158" r="1.4" fill="#85857a" opacity="0.8"/>
<circle cx="472.1" cy="158" r="1.1" fill="#85857a" opacity="0.8"/>
<circle cx="480.4" cy="158" r="1.4" fill="#85857a" opacity="0.8"/>
<circle cx="488.7" cy="158" r="1.1" fill="#85857a" opacity="0.8"/>
<circle cx="497" cy="158" r="1.4" fill="#85857a" opacity="0.8"/>
<circle cx="455.5" cy="166.1" r="1.7" fill="#85857a" opacity="0.8"/>
<circle cx="463.8" cy="166.1" r="0.9" fill="#85857a" opacity="0.8"/>
<circle cx="472.1" cy="166.1" r="1.7" fill="#85857a" opacity="0.8"/>
<circle cx="480.4" cy="166.1" r="0.9" fill="#85857a" opacity="0.8"/>
<circle cx="488.7" cy="166.1" r="1.7" fill="#85857a" opacity="0.8"/>
<circle cx="497" cy="166.1" r="0.9" fill="#85857a" opacity="0.8"/>
<circle cx="455.5" cy="174.2" r="1.0" fill="#85857a" opacity="0.8"/>
<circle cx="463.8" cy="174.2" r="1.9" fill="#85857a" opacity="0.8"/>
<circle cx="472.1" cy="174.2" r="1.0" fill="#85857a" opacity="0.8"/>
<circle cx="480.4" cy="174.2" r="1.9" fill="#85857a" opacity="0.8"/>
<circle cx="488.7" cy="174.2" r="1.0" fill="#85857a" opacity="0.8"/>
<circle cx="497" cy="174.2" r="1.9" fill="#85857a" opacity="0.8"/>
<circle cx="444.5" cy="125" r="2.2" fill="#9a9a90" opacity="0.8"/>
<circle cx="444.5" cy="138" r="2.2" fill="#9a9a90" opacity="0.8"/>
<circle cx="444.5" cy="155" r="2.2" fill="#9a9a90" opacity="0.8"/>
<circle cx="444.5" cy="170" r="2.2" fill="#9a9a90" opacity="0.8"/>
<rect x="448.5" y="120.2" width="42" height="11.5" fill="#fbfbfb"/>
<text x="469.6" y="130" font-size="9.2" text-anchor="middle" fill="#111" font-weight="bold" font-style="normal" font-family="'Liberation Serif', serif"  stroke="#111" stroke-width="0.2">Basic unit</text>
<line x1="469.2" y1="146.5" x2="469.2" y2="134.5" stroke="#e8741f" stroke-width="1.1"/>
<path d="M467.4 135.5 L469.2 131.2 L471 135.5 Z" fill="#e8741f"/>
<rect x="436.7" y="147.0" width="66.3" height="33.8" fill="none" stroke="#ee7a22" stroke-width="1.6"/>
<line x1="398.7" y1="138.4" x2="436.7" y2="147.0" stroke="#ee7a22" stroke-width="1.4"/>
<line x1="398.7" y1="181.6" x2="436.7" y2="180.8" stroke="#ee7a22" stroke-width="1.4"/>
<path d="M357.1 228 V209.8 H481.6 V259.9 H357.1 V240.8 H362.8 V255.9 H477.3 V214.2 H362.8 V228 Z" fill="#8dc84a"/>
<rect x="401.4" y="214.2" width="5" height="17.7" fill="#b41616"/>
<rect x="401.4" y="238.0" width="5" height="17.9" fill="#b41616"/>
<rect x="433.8" y="214.2" width="4.6" height="17.7" fill="#b41616"/>
<rect x="433.8" y="238.0" width="4.6" height="17.9" fill="#b41616"/>
<circle cx="412.8" cy="234.3" r="1.3" fill="#111"/>
<circle cx="418.5" cy="234.3" r="1.3" fill="#111"/>
<circle cx="424.2" cy="234.3" r="1.3" fill="#111"/>
<text x="382.8" y="203.6" font-size="9.0" text-anchor="middle" fill="#222" font-weight="normal" font-style="normal" font-family="'Liberation Serif', serif"  stroke="#222" stroke-width="0.2">Air cavity</text>
<line x1="381.5" y1="206" x2="390.5" y2="228.5" stroke="#222" stroke-width="0.7"/>
<path d="M388.7 228 L391.6 231.8 L391.5 227 Z" fill="#222"/>
<text x="460.9" y="203.6" font-size="9.0" text-anchor="middle" fill="#222" font-weight="normal" font-style="normal" font-family="'Liberation Serif', serif"  stroke="#222" stroke-width="0.2">Separating plate</text>
<line x1="446" y1="206" x2="438.5" y2="214.5" stroke="#222" stroke-width="0.7"/>
<path d="M437 212.5 L437.2 216.8 L440.2 214.8 Z" fill="#222"/>
<text x="338.2" y="220.5" font-size="9.0" text-anchor="middle" fill="#222" font-weight="normal" font-style="normal" font-family="'Liberation Serif', serif"  stroke="#222" stroke-width="0.2">Reflected</text>
<text x="337.5" y="254.2" font-size="9.0" text-anchor="middle" fill="#222" font-weight="normal" font-style="normal" font-family="'Liberation Serif', serif"  stroke="#222" stroke-width="0.2">Incident</text>
<rect x="331.5" y="226.3" width="17" height="3.6" fill="#1f6fc0"/>
<path d="M332.5 223.6 L325.5 228.1 L332.5 232.6 Z" fill="#1f6fc0"/>
<rect x="326" y="239.2" width="17" height="3.4" fill="#e2202a"/>
<path d="M342 236.6 L349 240.9 L342 245.2 Z" fill="#e2202a"/>
<line x1="424.5" y1="224.2" x2="432.5" y2="224.2" stroke="#222" stroke-width="0.7"/>
<line x1="439.5" y1="224.2" x2="450" y2="224.2" stroke="#222" stroke-width="0.7"/>
<path d="M430.2 222.8 L433.6 224.2 L430.2 225.6 Z M442 222.8 L438.6 224.2 L442 225.6 Z" fill="#222"/>
<text x="446" y="221.6" font-size="9" font-style="italic" fill="#222" font-family="'Liberation Serif', serif" stroke="#222" stroke-width="0.2">t<tspan font-size="5.8" dy="1.6">n</tspan></text>
<line x1="424.8" y1="242.5" x2="432.2" y2="235.5" stroke="#222" stroke-width="0.7"/>
<path d="M430.3 235.5 L433.4 234.3 L432.3 237.5 Z" fill="#222"/>
<text x="415.5" y="248.8" font-size="9" font-style="italic" fill="#222" font-family="'Liberation Serif', serif" stroke="#222" stroke-width="0.2">d<tspan font-size="5.8" dy="1.6">n</tspan></text>
<line x1="439" y1="248.3" x2="476.8" y2="248.3" stroke="#222" stroke-width="0.7"/>
<path d="M442.2 246.9 L438.8 248.3 L442.2 249.7 Z M473.6 246.9 L477 248.3 L473.6 249.7 Z" fill="#222"/>
<text x="453.5" y="242.6" font-size="9" font-style="italic" fill="#222" font-family="'Liberation Serif', serif" stroke="#222" stroke-width="0.2">l<tspan font-size="5.8" dy="1.6">n</tspan></text>
<path d="M357.6 259.9 V268 M401.9 256 V268 M434.3 256 V268 M477.8 259.9 V268" fill="none" stroke="#222" stroke-width="0.7"/>
<path d="M357.6 267.2 H366 M393.5 267.2 H401.9 M434.3 267.2 H442.5 M469.5 267.2 H477.8" fill="none" stroke="#222" stroke-width="0.7"/>
<path d="M361 265.8 L357.8 267.2 L361 268.6 Z M398.5 265.8 L401.7 267.2 L398.5 268.6 Z M437.7 265.8 L434.5 267.2 L437.7 268.6 Z M474.4 265.8 L477.6 267.2 L474.4 268.6 Z" fill="#222"/>
<text x="379.6" y="270.3" font-size="8.0" text-anchor="middle" fill="#222" font-weight="normal" font-style="normal" font-family="'Liberation Serif', serif"  stroke="#222" stroke-width="0.2">Layer 1</text>
<text x="456" y="270.3" font-size="8" text-anchor="middle" fill="#222" font-family="'Liberation Serif', serif" stroke="#222" stroke-width="0.2">Layer <tspan font-style="italic">n</tspan></text>
<text x="417.5" y="286.6" font-size="9.6" text-anchor="middle" fill="#222" font-family="'Liberation Serif', serif" stroke="#222" stroke-width="0.2"><tspan font-style="italic">n</tspan>-order Helmholtz resonator</text>
<path d="M356.2 364.7 L356.3 364.7 L356.3 364.6 L356.4 364.6 L356.5 364.5 L356.5 364.5 L356.6 364.4 L356.7 364.4 L356.7 364.3 L356.8 364.3 L356.9 364.2 L356.9 364.1 L357 364.1 L357.1 364 L357.1 363.9 L357.2 363.9 L357.3 363.8 L357.3 363.7 L357.4 363.7 L357.4 363.6 L357.5 363.5 L357.6 363.5 L357.6 363.4 L357.7 363.3 L357.8 363.2 L357.8 363.1 L357.9 363.1 L358 363 L358 362.9 L358.1 362.8 L358.2 362.7 L358.2 362.6 L358.3 362.5 L358.4 362.5 L358.4 362.4 L358.5 362.3 L358.6 362.2 L358.6 362.1 L358.7 362 L358.8 361.9 L358.8 361.8 L358.9 361.7 L359 361.6 L359 361.5 L359.1 361.4 L359.2 361.3 L359.2 361.2 L359.3 361.1 L359.4 361 L359.4 360.9 L359.5 360.7 L359.6 360.6 L359.6 360.5 L359.7 360.4 L359.7 360.2 L359.8 360.1 L359.9 360 L359.9 359.8 L360 359.7 L360.1 359.5 L360.1 359.4 L360.2 359.3 L360.3 359.1 L360.3 359 L360.4 358.8 L360.5 358.7 L360.5 358.5 L360.6 358.4 L360.7 358.2 L360.7 358.1 L360.8 357.9 L360.9 357.8 L360.9 357.6 L361 357.4 L361.1 357.3 L361.1 357.1 L361.2 357 L361.3 356.8 L361.3 356.6 L361.4 356.5 L361.5 356.3 L361.5 356.1 L361.6 356 L361.7 355.8 L361.7 355.7 L361.8 355.5 L361.9 355.3 L361.9 355.2 L362 355 L362.1 354.8 L362.1 354.7 L362.2 354.5 L362.2 354.3 L362.3 354.2 L362.4 354 L362.4 353.8 L362.5 353.7 L362.6 353.5 L362.6 353.3 L362.7 353.1 L362.8 353 L362.8 352.8 L362.9 352.6 L363 352.4 L363 352.3 L363.1 352.1 L363.2 351.9 L363.2 351.7 L363.3 351.5 L363.4 351.4 L363.4 351.2 L363.5 351 L363.6 350.8 L363.6 350.6 L363.7 350.4 L363.8 350.2 L363.8 350 L363.9 349.8 L364 349.6 L364 349.5 L364.1 349.3 L364.2 349.1 L364.2 348.9 L364.3 348.7 L364.4 348.5 L364.4 348.3 L364.5 348.1 L364.5 347.9 L364.6 347.7 L364.7 347.5 L364.7 347.2 L364.8 347 L364.9 346.8 L364.9 346.6 L365 346.4 L365.1 346.2 L365.1 346 L365.2 345.8 L365.3 345.6 L365.3 345.4 L365.4 345.1 L365.5 344.9 L365.5 344.7 L365.6 344.5 L365.7 344.3 L365.7 344.1 L365.8 343.8 L365.9 343.6 L365.9 343.4 L366 343.2 L366.1 343 L366.1 342.7 L366.2 342.5 L366.3 342.3 L366.3 342.1 L366.4 341.8 L366.5 341.6 L366.5 341.4 L366.6 341.1 L366.7 340.9 L366.7 340.7 L366.8 340.4 L366.8 340.2 L366.9 340 L367 339.7 L367 339.5 L367.1 339.2 L367.2 339 L367.2 338.8 L367.3 338.5 L367.4 338.3 L367.4 338 L367.5 337.8 L367.6 337.5 L367.6 337.3 L367.7 337 L367.8 336.8 L367.8 336.5 L367.9 336.3 L368 336 L368 335.7 L368.1 335.5 L368.2 335.2 L368.2 334.9 L368.3 334.7 L368.4 334.4 L368.4 334.1 L368.5 333.9 L368.6 333.6 L368.6 333.3 L368.7 333.1 L368.8 332.8 L368.8 332.5 L368.9 332.2 L369 331.9 L369 331.7 L369.1 331.4 L369.1 331.1 L369.2 330.8 L369.3 330.5 L369.3 330.2 L369.4 329.9 L369.5 329.6 L369.5 329.3 L369.6 329 L369.7 328.7 L369.7 328.4 L369.8 328.1 L369.9 327.7 L369.9 327.4 L370 327 L370.1 326.7 L370.1 326.3 L370.2 325.9 L370.3 325.6 L370.3 325.2 L370.4 324.8 L370.5 324.4 L370.5 324.1 L370.6 323.7 L370.7 323.3 L370.7 322.9 L370.8 322.5 L370.9 322.1 L370.9 321.7 L371 321.4 L371.1 321 L371.1 320.6 L371.2 320.2 L371.3 319.8 L371.3 319.5 L371.4 319.1 L371.5 318.8 L371.5 318.4 L371.6 318.1 L371.6 317.7 L371.7 317.4 L371.8 317.1 L371.8 316.8 L371.9 316.5 L372 316.2 L372 315.9 L372.1 315.7 L372.2 315.4 L372.2 315.2 L372.3 314.9 L372.4 314.7 L372.4 314.5 L372.5 314.2 L372.6 314 L372.6 313.8 L372.7 313.5 L372.8 313.3 L372.8 313.1 L372.9 312.9 L373 312.6 L373 312.4 L373.1 312.2 L373.2 312 L373.2 311.8 L373.3 311.5 L373.4 311.3 L373.4 311.1 L373.5 310.9 L373.6 310.7 L373.6 310.5 L373.7 310.3 L373.8 310.1 L373.8 309.9 L373.9 309.7 L373.9 309.5 L374 309.3 L374.1 309.2 L374.1 309 L374.2 308.8 L374.3 308.6 L374.3 308.4 L374.4 308.3 L374.5 308.1 L374.5 307.9 L374.6 307.8 L374.7 307.6 L374.7 307.4 L374.8 307.3 L374.9 307.1 L374.9 307 L375 306.8 L375.1 306.7 L375.1 306.5 L375.2 306.4 L375.3 306.3 L375.3 306.1 L375.4 306 L375.5 305.9 L375.5 305.8 L375.6 305.6 L375.7 305.5 L375.7 305.4 L375.8 305.3 L375.9 305.2 L375.9 305.1 L376 305 L376.1 304.9 L376.1 304.8 L376.2 304.7 L376.2 304.6 L376.3 304.5 L376.4 304.4 L376.4 304.3 L376.5 304.2 L376.6 304.1 L376.6 304 L376.7 303.9 L376.8 303.8 L376.8 303.7 L376.9 303.6 L377 303.6 L377 303.5 L377.1 303.4 L377.2 303.3 L377.2 303.2 L377.3 303.1 L377.4 303 L377.4 303 L377.5 302.9 L377.6 302.8 L377.6 302.7 L377.7 302.7 L377.8 302.6 L377.8 302.5 L377.9 302.4 L378 302.4 L378 302.3 L378.1 302.2 L378.2 302.2 L378.2 302.1 L378.3 302 L378.4 302 L378.4 301.9 L378.5 301.9 L378.5 301.8 L378.6 301.8 L378.7 301.7 L378.7 301.7 L378.8 301.6 L378.9 301.6 L378.9 301.5 L379 301.5 L379.1 301.4 L379.1 301.4 L379.2 301.4 L379.3 301.3 L379.3 301.3 L379.4 301.3 L379.5 301.3 L379.5 301.2 L379.6 301.2 L379.7 301.2 L379.7 301.2 L379.8 301.1 L379.9 301.1 L379.9 301.1 L380 301.1 L380.1 301.1 L380.1 301 L380.2 301 L380.3 301 L380.3 301 L380.4 301 L380.5 300.9 L380.5 300.9 L380.6 300.9 L380.7 300.9 L380.7 300.9 L380.8 300.8 L380.9 300.8 L380.9 300.8 L381 300.8 L381 300.8 L381.1 300.8 L381.2 300.8 L381.2 300.7 L381.3 300.7 L381.4 300.7 L381.4 300.7 L381.5 300.7 L381.6 300.7 L381.6 300.7 L381.7 300.7 L381.8 300.6 L381.8 300.6 L381.9 300.6 L382 300.6 L382 300.6 L382.1 300.6 L382.2 300.6 L382.2 300.6 L382.3 300.6 L382.4 300.6 L382.4 300.6 L382.5 300.6 L382.6 300.6 L382.6 300.6 L382.7 300.6 L382.8 300.6 L382.8 300.6 L382.9 300.6 L383 300.6 L383 300.6 L383.1 300.6 L383.2 300.6 L383.2 300.6 L383.3 300.6 L383.3 300.6 L383.4 300.6 L383.5 300.6 L383.5 300.6 L383.6 300.6 L383.7 300.6 L383.7 300.6 L383.8 300.6 L383.9 300.6 L383.9 300.6 L384 300.6 L384.1 300.6 L384.1 300.6 L384.2 300.6 L384.3 300.6 L384.3 300.6 L384.4 300.6 L384.5 300.6 L384.5 300.6 L384.6 300.6 L384.7 300.6 L384.7 300.6 L384.8 300.6 L384.9 300.6 L384.9 300.6 L385 300.6 L385.1 300.6 L385.1 300.6 L385.2 300.6 L385.3 300.6 L385.3 300.6 L385.4 300.6 L385.5 300.6 L385.5 300.6 L385.6 300.6 L385.6 300.6 L385.7 300.6 L385.8 300.6 L385.8 300.6 L385.9 300.6 L386 300.6 L386 300.6 L386.1 300.6 L386.2 300.6 L386.2 300.7 L386.3 300.7 L386.4 300.7 L386.4 300.7 L386.5 300.8 L386.6 300.8 L386.6 300.8 L386.7 300.9 L386.8 300.9 L386.8 301 L386.9 301 L387 301.1 L387 301.1 L387.1 301.2 L387.2 301.2 L387.2 301.3 L387.3 301.4 L387.4 301.4 L387.4 301.5 L387.5 301.6 L387.6 301.6 L387.6 301.7 L387.7 301.8 L387.8 301.8 L387.8 301.9 L387.9 302 L387.9 302.1 L388 302.1 L388.1 302.2 L388.1 302.3 L388.2 302.4 L388.3 302.4 L388.3 302.5 L388.4 302.6 L388.5 302.7 L388.5 302.8 L388.6 302.8 L388.7 302.9 L388.7 303 L388.8 303.1 L388.9 303.1 L388.9 303.2 L389 303.3 L389.1 303.4 L389.1 303.4 L389.2 303.5 L389.3 303.6 L389.3 303.6 L389.4 303.7 L389.5 303.8 L389.5 303.8 L389.6 303.9 L389.7 304 L389.7 304 L389.8 304.1 L389.9 304.1 L389.9 304.2 L390 304.3 L390.1 304.3 L390.1 304.4 L390.2 304.5 L390.3 304.5 L390.3 304.6 L390.4 304.7 L390.4 304.7 L390.5 304.8 L390.6 304.9 L390.6 304.9 L390.7 305 L390.8 305.1 L390.8 305.1 L390.9 305.2 L391 305.3 L391 305.3 L391.1 305.4 L391.2 305.5 L391.2 305.5 L391.3 305.6 L391.4 305.7 L391.4 305.7 L391.5 305.8 L391.6 305.9 L391.6 305.9 L391.7 306 L391.8 306.1 L391.8 306.2 L391.9 306.2 L392 306.3 L392 306.4 L392.1 306.4 L392.2 306.5 L392.2 306.6 L392.3 306.7 L392.4 306.7 L392.4 306.8 L392.5 306.9 L392.6 306.9 L392.6 307 L392.7 307.1 L392.7 307.2 L392.8 307.2 L392.9 307.3 L392.9 307.4 L393 307.5 L393.1 307.5 L393.1 307.6 L393.2 307.7 L393.3 307.7 L393.3 307.8 L393.4 307.9 L393.5 308 L393.5 308.1 L393.6 308.1 L393.7 308.2 L393.7 308.3 L393.8 308.4 L393.9 308.4 L393.9 308.5 L394 308.6 L394.1 308.7 L394.1 308.7 L394.2 308.8 L394.3 308.9 L394.3 309 L394.4 309.1 L394.5 309.1 L394.5 309.2 L394.6 309.3 L394.7 309.4 L394.7 309.5 L394.8 309.5 L394.9 309.6 L394.9 309.7 L395 309.8 L395 309.9 L395.1 309.9 L395.2 310 L395.2 310.1 L395.3 310.2 L395.4 310.3 L395.4 310.4 L395.5 310.4 L395.6 310.5 L395.6 310.6 L395.7 310.7 L395.8 310.8 L395.8 310.8 L395.9 310.9 L396 311 L396 311.1 L396.1 311.2 L396.2 311.3 L396.2 311.4 L396.3 311.4 L396.4 311.5 L396.4 311.6 L396.5 311.7 L396.6 311.8 L396.6 311.9 L396.7 311.9 L396.8 312 L396.8 312.1 L396.9 312.2 L397 312.3 L397 312.4 L397.1 312.5 L397.2 312.5 L397.2 312.6 L397.3 312.7 L397.3 312.8 L397.4 312.9 L397.5 313 L397.5 313 L397.6 313.1 L397.7 313.2 L397.7 313.3 L397.8 313.4 L397.9 313.5 L397.9 313.6 L398 313.6 L398.1 313.7 L398.1 313.8 L398.2 313.9 L398.3 314 L398.3 314.1 L398.4 314.2 L398.5 314.2 L398.5 314.3 L398.6 314.4 L398.7 314.5 L398.7 314.6 L398.8 314.7 L398.9 314.8 L398.9 314.8 L399 314.9 L399.1 315 L399.1 315.1 L399.2 315.2 L399.3 315.3 L399.3 315.3 L399.4 315.4 L399.5 315.5 L399.5 315.6 L399.6 315.7 L399.7 315.8 L399.7 315.8 L399.8 315.9 L399.8 316 L399.9 316.1 L400 316.2 L400 316.3 L400.1 316.3 L400.2 316.4 L400.2 316.5 L400.3 316.6 L400.4 316.7 L400.4 316.8 L400.5 316.8 L400.6 316.9 L400.6 317 L400.7 317.1 L400.8 317.2 L400.8 317.2 L400.9 317.3 L401 317.4 L401 317.5 L401.1 317.6 L401.2 317.6 L401.2 317.7 L401.3 317.8 L401.4 317.9 L401.4 318 L401.5 318 L401.6 318.1 L401.6 318.2 L401.7 318.3 L401.8 318.4 L401.8 318.4 L401.9 318.5 L402 318.6 L402 318.7 L402.1 318.7 L402.1 318.8 L402.2 318.9 L402.3 319 L402.3 319.1 L402.4 319.1 L402.5 319.2 L402.5 319.3 L402.6 319.4 L402.7 319.5 L402.7 319.5 L402.8 319.6 L402.9 319.7 L402.9 319.8 L403 319.9 L403.1 319.9 L403.1 320 L403.2 320.1 L403.3 320.2 L403.3 320.3 L403.4 320.3 L403.5 320.4 L403.5 320.5 L403.6 320.6 L403.7 320.7 L403.7 320.7 L403.8 320.8 L403.9 320.9 L403.9 321 L404 321 L404.1 321.1 L404.1 321.2 L404.2 321.3 L404.3 321.4 L404.3 321.4 L404.4 321.5 L404.4 321.6 L404.5 321.7 L404.6 321.8 L404.6 321.8 L404.7 321.9 L404.8 322 L404.8 322.1 L404.9 322.1 L405 322.2 L405 322.3 L405.1 322.4 L405.2 322.4 L405.2 322.5 L405.3 322.6 L405.4 322.7 L405.4 322.8 L405.5 322.8 L405.6 322.9 L405.6 323 L405.7 323.1 L405.8 323.1 L405.8 323.2 L405.9 323.3 L406 323.4 L406 323.4 L406.1 323.5 L406.2 323.6 L406.2 323.7 L406.3 323.7 L406.4 323.8 L406.4 323.9 L406.5 324 L406.6 324 L406.6 324.1 L406.7 324.2 L406.7 324.2 L406.8 324.3 L406.9 324.4 L406.9 324.5 L407 324.5 L407.1 324.6 L407.1 324.7 L407.2 324.7 L407.3 324.8 L407.3 324.9 L407.4 325 L407.5 325 L407.5 325.1 L407.6 325.2 L407.7 325.2 L407.7 325.3 L407.8 325.4 L407.9 325.4 L407.9 325.5 L408 325.6 L408.1 325.6 L408.1 325.7 L408.2 325.8 L408.3 325.8 L408.3 325.9 L408.4 326 L408.5 326 L408.5 326.1 L408.6 326.2 L408.7 326.2 L408.7 326.3 L408.8 326.4 L408.9 326.4 L408.9 326.5 L409 326.6 L409 326.6 L409.1 326.7 L409.2 326.7 L409.2 326.8 L409.3 326.9 L409.4 326.9 L409.4 327 L409.5 327.1 L409.6 327.1 L409.6 327.2 L409.7 327.2 L409.8 327.3 L409.8 327.4 L409.9 327.4 L410 327.5 L410 327.5 L410.1 327.6 L410.2 327.7 L410.2 327.7 L410.3 327.8 L410.4 327.8 L410.4 327.9 L410.5 327.9 L410.6 328 L410.6 328.1 L410.7 328.1 L410.8 328.2 L410.8 328.2 L410.9 328.3 L411 328.4 L411 328.4 L411.1 328.5 L411.2 328.5 L411.2 328.6 L411.3 328.6 L411.4 328.7 L411.4 328.7 L411.5 328.8 L411.5 328.9 L411.6 328.9 L411.7 329 L411.7 329 L411.8 329.1 L411.9 329.1 L411.9 329.2 L412 329.2 L412.1 329.3 L412.1 329.4 L412.2 329.4 L412.3 329.5 L412.3 329.5 L412.4 329.6 L412.5 329.6 L412.5 329.7 L412.6 329.7 L412.7 329.8 L412.7 329.8 L412.8 329.9 L412.9 330 L412.9 330 L413 330.1 L413.1 330.1 L413.1 330.2 L413.2 330.2 L413.3 330.3 L413.3 330.3 L413.4 330.4 L413.5 330.4 L413.5 330.5 L413.6 330.5 L413.7 330.6 L413.7 330.7 L413.8 330.7 L413.8 330.8 L413.9 330.8 L414 330.9 L414 330.9 L414.1 331 L414.2 331 L414.2 331.1 L414.3 331.1 L414.4 331.2 L414.4 331.2 L414.5 331.3 L414.6 331.4 L414.6 331.4 L414.7 331.5 L414.8 331.5 L414.8 331.6 L414.9 331.6 L415 331.7 L415 331.7 L415.1 331.8 L415.2 331.8 L415.2 331.9 L415.3 332 L415.4 332 L415.4 332.1 L415.5 332.1 L415.6 332.2 L415.6 332.2 L415.7 332.3 L415.8 332.3 L415.8 332.4 L415.9 332.4 L416 332.5 L416 332.6 L416.1 332.6 L416.1 332.7 L416.2 332.7 L416.3 332.8 L416.3 332.8 L416.4 332.9 L416.5 332.9 L416.5 333 L416.6 333 L416.7 333.1 L416.7 333.2 L416.8 333.2 L416.9 333.3 L416.9 333.3 L417 333.4 L417.1 333.4 L417.1 333.5 L417.2 333.5 L417.3 333.6 L417.3 333.6 L417.4 333.7 L417.5 333.7 L417.5 333.8 L417.6 333.9 L417.7 333.9 L417.7 334 L417.8 334 L417.9 334.1 L417.9 334.1 L418 334.2 L418.1 334.2 L418.1 334.3 L418.2 334.3 L418.3 334.4 L418.3 334.4 L418.4 334.5 L418.4 334.6 L418.5 334.6 L418.6 334.7 L418.6 334.7 L418.7 334.8 L418.8 334.8 L418.8 334.9 L418.9 334.9 L419 335 L419 335 L419.1 335.1 L419.2 335.1 L419.2 335.2 L419.3 335.2 L419.4 335.3 L419.4 335.4 L419.5 335.4 L419.6 335.5 L419.6 335.5 L419.7 335.6 L419.8 335.6 L419.8 335.7 L419.9 335.7 L420 335.8 L420 335.8 L420.1 335.9 L420.2 335.9 L420.2 336 L420.3 336 L420.4 336.1 L420.4 336.1 L420.5 336.2 L420.6 336.3 L420.6 336.3 L420.7 336.4 L420.8 336.4 L420.8 336.5 L420.9 336.5 L420.9 336.6 L421 336.6 L421.1 336.7 L421.1 336.7 L421.2 336.8 L421.3 336.8 L421.3 336.9 L421.4 336.9 L421.5 337 L421.5 337 L421.6 337.1 L421.7 337.1 L421.7 337.2 L421.8 337.3 L421.9 337.3 L421.9 337.4 L422 337.4 L422.1 337.5 L422.1 337.5 L422.2 337.6 L422.3 337.6 L422.3 337.7 L422.4 337.7 L422.5 337.8 L422.5 337.8 L422.6 337.9 L422.7 337.9 L422.7 338 L422.8 338 L422.9 338.1 L422.9 338.1 L423 338.2 L423.1 338.2 L423.1 338.3 L423.2 338.3 L423.2 338.4 L423.3 338.5 L423.4 338.5 L423.4 338.6 L423.5 338.6 L423.6 338.7 L423.6 338.7 L423.7 338.8 L423.8 338.8 L423.8 338.9 L423.9 338.9 L424 339 L424 339 L424.1 339.1 L424.2 339.1 L424.2 339.2 L424.3 339.2 L424.4 339.3 L424.4 339.3 L424.5 339.4 L424.6 339.4 L424.6 339.5 L424.7 339.5 L424.8 339.6 L424.8 339.6 L424.9 339.7 L425 339.7 L425 339.8 L425.1 339.8 L425.2 339.9 L425.2 339.9 L425.3 340 L425.4 340 L425.4 340.1 L425.5 340.1 L425.5 340.2 L425.6 340.2 L425.7 340.3 L425.7 340.3 L425.8 340.4 L425.9 340.4 L425.9 340.5 L426 340.5 L426.1 340.6 L426.1 340.6 L426.2 340.7 L426.3 340.7 L426.3 340.8 L426.4 340.8 L426.5 340.9 L426.5 340.9 L426.6 341 L426.7 341 L426.7 341.1 L426.8 341.1 L426.9 341.2 L426.9 341.2 L427 341.3 L427.1 341.3 L427.1 341.4 L427.2 341.4 L427.3 341.5 L427.3 341.5 L427.4 341.6 L427.5 341.6 L427.5 341.6 L427.6 341.7 L427.7 341.7 L427.7 341.8 L427.8 341.8 L427.8 341.9 L427.9 341.9 L428 342 L428 342 L428.1 342.1 L428.2 342.1 L428.2 342.2 L428.3 342.2 L428.4 342.3 L428.4 342.3 L428.5 342.4 L428.6 342.4 L428.6 342.5 L428.7 342.5 L428.8 342.6 L428.8 342.6 L428.9 342.7 L429 342.7 L429 342.8 L429.1 342.8 L429.2 342.9 L429.2 342.9 L429.3 343 L429.4 343 L429.4 343.1 L429.5 343.1 L429.6 343.2 L429.6 343.2 L429.7 343.3 L429.8 343.3 L429.8 343.4 L429.9 343.4 L430 343.5 L430 343.5 L430.1 343.6 L430.2 343.6 L430.2 343.7 L430.3 343.7 L430.3 343.8 L430.4 343.8 L430.5 343.9 L430.5 343.9 L430.6 344 L430.7 344 L430.7 344.1 L430.8 344.1 L430.9 344.2 L430.9 344.2 L431 344.3 L431.1 344.3 L431.1 344.4 L431.2 344.4 L431.3 344.5 L431.3 344.5 L431.4 344.6 L431.5 344.6 L431.5 344.7 L431.6 344.7 L431.7 344.8 L431.7 344.9 L431.8 344.9 L431.9 345 L431.9 345 L432 345.1 L432.1 345.1 L432.1 345.2 L432.2 345.2 L432.3 345.3 L432.3 345.3 L432.4 345.4 L432.5 345.5 L432.5 345.5 L432.6 345.6 L432.6 345.6 L432.7 345.7 L432.8 345.7 L432.8 345.8 L432.9 345.9 L433 345.9 L433 346 L433.1 346 L433.2 346.1 L433.2 346.2 L433.3 346.2 L433.4 346.3 L433.4 346.3 L433.5 346.4 L433.6 346.4 L433.6 346.5 L433.7 346.6 L433.8 346.6 L433.8 346.7 L433.9 346.7 L434 346.8 L434 346.9 L434.1 346.9 L434.2 347 L434.2 347.1 L434.3 347.1 L434.4 347.2 L434.4 347.2 L434.5 347.3 L434.6 347.4 L434.6 347.4 L434.7 347.5 L434.8 347.6 L434.8 347.6 L434.9 347.7 L434.9 347.8 L435 347.8 L435.1 347.9 L435.1 347.9 L435.2 348 L435.3 348.1 L435.3 348.1 L435.4 348.2 L435.5 348.3 L435.5 348.3 L435.6 348.4 L435.7 348.5 L435.7 348.5 L435.8 348.6 L435.9 348.7 L435.9 348.7 L436 348.8 L436.1 348.9 L436.1 348.9 L436.2 349 L436.3 349.1 L436.3 349.1 L436.4 349.2 L436.5 349.3 L436.5 349.3 L436.6 349.4 L436.7 349.5 L436.7 349.6 L436.8 349.6 L436.9 349.7 L436.9 349.8 L437 349.8 L437.1 349.9 L437.1 350 L437.2 350 L437.2 350.1 L437.3 350.2 L437.4 350.2 L437.4 350.3 L437.5 350.4 L437.6 350.5 L437.6 350.5 L437.7 350.6 L437.8 350.7 L437.8 350.7 L437.9 350.8 L438 350.9 L438 351 L438.1 351 L438.2 351.1 L438.2 351.2 L438.3 351.2 L438.4 351.3 L438.4 351.4 L438.5 351.5 L438.6 351.5 L438.6 351.6 L438.7 351.7 L438.8 351.8 L438.8 351.8 L438.9 351.9 L439 352 L439 352.1 L439.1 352.1 L439.2 352.2 L439.2 352.3 L439.3 352.3 L439.4 352.4 L439.4 352.5 L439.5 352.6 L439.6 352.6 L439.6 352.7 L439.7 352.8 L439.7 352.9 L439.8 352.9 L439.9 353 L439.9 353.1 L440 353.2 L440.1 353.2 L440.1 353.3 L440.2 353.4 L440.3 353.5 L440.3 353.5 L440.4 353.6 L440.5 353.7 L440.5 353.8 L440.6 353.9 L440.7 353.9 L440.7 354 L440.8 354.1 L440.9 354.2 L440.9 354.2 L441 354.3 L441.1 354.4 L441.1 354.5 L441.2 354.6 L441.3 354.6 L441.3 354.7 L441.4 354.8 L441.5 354.9 L441.5 355 L441.6 355 L441.7 355.1 L441.7 355.2 L441.8 355.3 L441.9 355.4 L441.9 355.4 L442 355.5 L442 355.6 L442.1 355.7 L442.2 355.8 L442.2 355.9 L442.3 355.9 L442.4 356 L442.4 356.1 L442.5 356.2 L442.6 356.3 L442.6 356.4 L442.7 356.5 L442.8 356.5 L442.8 356.6 L442.9 356.7 L443 356.8 L443 356.9 L443.1 357 L443.2 357.1 L443.2 357.1 L443.3 357.2 L443.4 357.3 L443.4 357.4 L443.5 357.5 L443.6 357.6 L443.6 357.7 L443.7 357.8 L443.8 357.8 L443.8 357.9 L443.9 358 L444 358.1 L444 358.2 L444.1 358.3 L444.2 358.4 L444.2 358.4 L444.3 358.5 L444.3 358.6 L444.4 358.7 L444.5 358.8 L444.5 358.9 L444.6 359 L444.7 359.1 L444.7 359.1 L444.8 359.2 L444.9 359.3 L444.9 359.4 L445 359.5 L445.1 359.6 L445.1 359.7 L445.2 359.8 L445.3 359.8 L445.3 359.9 L445.4 360 L445.5 360.1 L445.5 360.2 L445.6 360.3 L445.7 360.4 L445.7 360.5 L445.8 360.5 L445.9 360.6 L445.9 360.7 L446 360.8 L446.1 360.9 L446.1 361 L446.2 361.1 L446.3 361.2 L446.3 361.3 L446.4 361.4 L446.5 361.5 L446.5 361.6 L446.6 361.7 L446.6 361.8 L446.7 361.9 L446.8 362 L446.8 362.1 L446.9 362.2 L447 362.3 L447 362.4 L447.1 362.5 L447.2 362.6 L447.2 362.7 L447.3 362.8 L447.4 362.9 L447.4 363 L447.5 363.1 L447.6 363.2 L447.6 363.3 L447.7 363.4 L447.8 363.5 L447.8 363.6 L447.9 363.7 L448 363.8 L448 363.8 L448.1 363.9 L448.2 364 L448.2 364 L448.3 364.1 L448.4 364.1 L448.4 364.2 L448.5 364.2 L448.6 364.3 L448.6 364.3 L448.7 364.3 L448.8 364.3 L448.8 364.4 L448.9 364.4 L449 364.4 L449 364.4 L449.1 364.5 L449.1 364.5 L449.2 364.5 L449.3 364.5 L449.3 364.5 L449.4 364.6 L449.5 364.6 L449.5 364.6 L449.6 364.6 L449.7 364.6 L449.7 364.6 L449.8 364.6 L449.9 364.7 L449.9 364.7 L450 364.7 L450.1 364.7 L450.1 364.7 L450.2 364.7 L450.3 364.7 L450.3 364.7 L450.4 364.7 L450.5 364.7 L450.5 364.7 L450.6 364.7 L450.7 364.7 L450.7 364.7 L450.8 364.6 L450.9 364.6 L450.9 364.6 L451 364.6 L451.1 364.5 L451.1 364.5 L451.2 364.4 L451.3 364.4 L451.3 364.3 L451.4 364.3 L451.4 364.2 L451.5 364.2 L451.6 364.1 L451.6 364.1 L451.7 364 L451.8 363.8 L451.8 363.5 L451.9 363.3 L452 362.9 L452 362.5 L452.1 362.1 L452.2 361.6 L452.2 361.2 L452.3 360.7 L452.4 360.1 L452.4 359.6 L452.5 359.1 L452.6 358.6 L452.6 358.1 L452.7 357.6 L452.8 357.1 L452.8 356.5 L452.9 355.9 L453 355.3 L453 354.7 L453.1 354 L453.2 353.3 L453.2 352.6 L453.3 351.9 L453.4 351.2 L453.4 350.5 L453.5 349.8 L453.6 349 L453.6 348.3 L453.7 347.5 L453.7 346.8 L453.8 346.1 L453.9 345.3 L453.9 344.6 L454 343.9 L454.1 343.2 L454.1 342.5 L454.2 341.8 L454.3 341.2 L454.3 340.5 L454.4 339.9 L454.5 339.2 L454.5 338.6 L454.6 338 L454.7 337.3 L454.7 336.7 L454.8 336 L454.9 335.4 L454.9 334.8 L455 334.1 L455.1 333.5 L455.1 332.9 L455.2 332.3 L455.3 331.6 L455.3 331 L455.4 330.4 L455.5 329.7 L455.5 329.1 L455.6 328.4 L455.7 327.8 L455.7 327.2 L455.8 326.5 L455.9 325.9 L455.9 325.2 L456 324.6 L456 323.9 L456.1 323.2 L456.2 322.5 L456.2 321.8 L456.3 321 L456.4 320.3 L456.4 319.5 L456.5 318.7 L456.6 317.9 L456.6 317.2 L456.7 316.4 L456.8 315.6 L456.8 314.9 L456.9 314.2 L457 313.5 L457 312.9 L457.1 312.3 L457.2 311.8 L457.2 311.3 L457.3 310.9 L457.4 310.5 L457.4 310.1 L457.5 309.7 L457.6 309.3 L457.6 308.9 L457.7 308.5 L457.8 308.1 L457.8 307.7 L457.9 307.4 L458 307 L458 306.7 L458.1 306.4 L458.2 306.2 L458.2 305.9 L458.3 305.7 L458.4 305.5 L458.4 305.4 L458.5 305.2 L458.5 305.1 L458.6 305.1 L458.7 305.1 L458.7 305.1 L458.8 305.1 L458.9 305.2 L458.9 305.2 L459 305.2 L459.1 305.3 L459.1 305.4 L459.2 305.5 L459.3 305.6 L459.3 305.7 L459.4 305.8 L459.5 305.9 L459.5 306 L459.6 306.1 L459.7 306.3 L459.7 306.4 L459.8 306.5 L459.9 306.7 L459.9 306.9 L460 307 L460.1 307.2 L460.1 307.3 L460.2 307.5 L460.3 307.7 L460.3 307.9 L460.4 308 L460.5 308.2 L460.5 308.4 L460.6 308.6 L460.7 308.8 L460.7 308.9 L460.8 309.1 L460.8 309.3 L460.9 309.5 L461 309.7 L461 309.8 L461.1 310 L461.2 310.2 L461.2 310.3 L461.3 310.5 L461.4 310.7 L461.4 310.8 L461.5 311 L461.6 311.1 L461.6 311.3 L461.7 311.4 L461.8 311.6 L461.8 311.7 L461.9 311.9 L462 312.1 L462 312.2 L462.1 312.4 L462.2 312.6 L462.2 312.7 L462.3 312.9 L462.4 313.1 L462.4 313.2 L462.5 313.4 L462.6 313.6 L462.6 313.8 L462.7 313.9 L462.8 314.1 L462.8 314.3 L462.9 314.5 L463 314.6 L463 314.8 L463.1 315 L463.1 315.2 L463.2 315.3 L463.3 315.5 L463.3 315.7 L463.4 315.8 L463.5 316 L463.5 316.2 L463.6 316.3 L463.7 316.5 L463.7 316.7 L463.8 316.8 L463.9 317 L463.9 317.2 L464 317.3 L464.1 317.5 L464.1 317.6 L464.2 317.8 L464.3 317.9 L464.3 318.1 L464.4 318.2 L464.5 318.3 L464.5 318.5 L464.6 318.6 L464.7 318.8 L464.7 318.9 L464.8 319 L464.9 319.2 L464.9 319.3 L465 319.5 L465.1 319.6 L465.1 319.8 L465.2 319.9 L465.3 320 L465.3 320.2 L465.4 320.3 L465.4 320.4 L465.5 320.6 L465.6 320.7 L465.6 320.9 L465.7 321 L465.8 321.1 L465.8 321.3 L465.9 321.4 L466 321.5 L466 321.7 L466.1 321.8 L466.2 321.9 L466.2 322.1 L466.3 322.2 L466.4 322.3 L466.4 322.5 L466.5 322.6 L466.6 322.7 L466.6 322.9 L466.7 323 L466.8 323.1 L466.8 323.2 L466.9 323.4 L467 323.5 L467 323.6 L467.1 323.8 L467.2 323.9 L467.2 324 L467.3 324.1 L467.4 324.2 L467.4 324.4 L467.5 324.5 L467.6 324.6 L467.6 324.7 L467.7 324.9 L467.8 325 L467.8 325.1 L467.9 325.2 L467.9 325.3 L468 325.4 L468.1 325.6 L468.1 325.7 L468.2 325.8 L468.3 325.9 L468.3 326 L468.4 326.1 L468.5 326.2 L468.5 326.3 L468.6 326.5 L468.7 326.6 L468.7 326.7 L468.8 326.8 L468.9 326.9 L468.9 327 L469 327.1 L469.1 327.2 L469.1 327.3 L469.2 327.4 L469.3 327.5 L469.3 327.6 L469.4 327.7 L469.5 327.8 L469.5 327.9 L469.6 328 L469.7 328.1 L469.7 328.2 L469.8 328.3 L469.9 328.4 L469.9 328.5 L470 328.6 L470.1 328.7 L470.1 328.8 L470.2 328.8 L470.2 328.9 L470.3 329 L470.4 329.1 L470.4 329.2 L470.5 329.3 L470.6 329.4 L470.6 329.5 L470.7 329.6 L470.8 329.6 L470.8 329.7 L470.9 329.8 L471 329.9 L471 330 L471.1 330.1 L471.2 330.2 L471.2 330.2 L471.3 330.3 L471.4 330.4 L471.4 330.5 L471.5 330.6 L471.6 330.7 L471.6 330.7 L471.7 330.8 L471.8 330.9 L471.8 331 L471.9 331.1 L472 331.1 L472 331.2 L472.1 331.3 L472.2 331.4 L472.2 331.4 L472.3 331.5 L472.4 331.6 L472.4 331.7 L472.5 331.8 L472.5 331.8 L472.6 331.9 L472.7 332 L472.7 332.1 L472.8 332.1 L472.9 332.2 L472.9 332.3 L473 332.3 L473.1 332.4 L473.1 332.5 L473.2 332.6 L473.3 332.6 L473.3 332.7 L473.4 332.8 L473.5 332.8 L473.5 332.9 L473.6 333 L473.7 333.1 L473.7 333.1 L473.8 333.2 L473.9 333.3 L473.9 333.3 L474 333.4 L474.1 333.5 L474.1 333.5 L474.2 333.6 L474.3 333.7 L474.3 333.7 L474.4 333.8 L474.5 333.9 L474.5 333.9 L474.6 334 L474.7 334.1 L474.7 334.1 L474.8 334.2 L474.8 334.3 L474.9 334.3 L475 334.4 L475 334.4 L475.1 334.5 L475.2 334.6 L475.2 334.6 L475.3 334.7 L475.4 334.8 L475.4 334.8 L475.5 334.9 L475.6 334.9 L475.6 335 L475.7 335.1 L475.8 335.1 L475.8 335.2 L475.9 335.3 L476 335.3 L476 335.4 L476.1 335.4 L476.2 335.5 L476.2 335.6 L476.3 335.6 L476.4 335.7 L476.4 335.7 L476.5 335.8 L476.6 335.9 L476.6 335.9 L476.7 336 L476.8 336 L476.8 336.1 L476.9 336.2 L477 336.2 L477 336.3 L477.1 336.3 L477.2 336.4 L477.2 336.4 L477.3 336.5 L477.3 336.6 L477.4 336.6 L477.5 336.7 L477.5 336.7 L477.6 336.8 L477.7 336.8 L477.7 336.9 L477.8 337 L477.9 337 L477.9 337.1 L478 337.1 L478.1 337.2 L478.1 337.2 L478.2 337.3 L478.3 337.3 L478.3 337.4 L478.4 337.4 L478.5 337.5 L478.5 337.5 L478.6 337.6 L478.7 337.6 L478.7 337.7 L478.8 337.7 L478.9 337.8 L478.9 337.8 L479 337.9 L479.1 337.9 L479.1 338 L479.2 338 L479.3 338.1 L479.3 338.1 L479.4 338.2 L479.5 338.2 L479.5 338.3 L479.6 338.3 L479.6 338.4 L479.7 338.4 L479.8 338.5 L479.8 338.5 L479.9 338.6 L480 338.6 L480 338.6 L480.1 338.7 L480.2 338.7 L480.2 338.8 L480.3 338.8 L480.4 338.9 L480.4 338.9 L480.5 338.9 L480.6 339 L480.6 339 L480.7 339.1 L480.8 339.1 L480.8 339.1 L480.9 339.2 L481 339.2 L481 339.3 L481.1 339.3 L481.2 339.3 L481.2 339.4 L481.3 339.4 L481.4 339.4 L481.4 339.5 L481.5 339.5 L481.6 339.6 L481.6 339.6 L481.7 339.6 L481.8 339.7 L481.8 339.7 L481.9 339.7 L481.9 339.8 L482 339.8 L482.1 339.8 L482.1 339.9 L482.2 339.9 L482.3 340 L482.3 340 L482.4 340 L482.5 340.1 L482.5 340.1 L482.6 340.1 L482.7 340.2 L482.7 340.2 L482.8 340.2 L482.9 340.2 L482.9 340.3 L483 340.3 L483.1 340.3 L483.1 340.4 L483.2 340.4 L483.3 340.4 L483.3 340.5 L483.4 340.5 L483.5 340.5 L483.5 340.6 L483.6 340.6 L483.7 340.6 L483.7 340.6 L483.8 340.7 L483.9 340.7 L483.9 340.7 L484 340.7 L484.1 340.8 L484.1 340.8 L484.2 340.8 L484.2 340.9 L484.3 340.9 L484.4 340.9 L484.4 340.9 L484.5 341 L484.6 341" fill="none" stroke="#2e7d1f" stroke-width="1.2"/>
<circle cx="356.2" cy="364.7" r="1.2" fill="#2e7d1f"/>
<circle cx="360.1" cy="359.6" r="1.2" fill="#2e7d1f"/>
<circle cx="363.9" cy="349.8" r="1.2" fill="#2e7d1f"/>
<circle cx="367.8" cy="336.8" r="1.2" fill="#2e7d1f"/>
<circle cx="371.6" cy="317.9" r="1.2" fill="#2e7d1f"/>
<circle cx="375.5" cy="305.8" r="1.2" fill="#2e7d1f"/>
<circle cx="379.3" cy="301.3" r="1.2" fill="#2e7d1f"/>
<circle cx="383.2" cy="300.6" r="1.2" fill="#2e7d1f"/>
<circle cx="387.1" cy="301.1" r="1.2" fill="#2e7d1f"/>
<circle cx="390.9" cy="305.2" r="1.2" fill="#2e7d1f"/>
<circle cx="394.8" cy="309.5" r="1.2" fill="#2e7d1f"/>
<circle cx="398.6" cy="314.4" r="1.2" fill="#2e7d1f"/>
<circle cx="402.5" cy="319.2" r="1.2" fill="#2e7d1f"/>
<circle cx="406.3" cy="323.8" r="1.2" fill="#2e7d1f"/>
<circle cx="410.2" cy="327.7" r="1.2" fill="#2e7d1f"/>
<circle cx="414" cy="330.9" r="1.2" fill="#2e7d1f"/>
<circle cx="417.9" cy="334.1" r="1.2" fill="#2e7d1f"/>
<circle cx="421.8" cy="337.2" r="1.2" fill="#2e7d1f"/>
<circle cx="425.6" cy="340.2" r="1.2" fill="#2e7d1f"/>
<circle cx="429.5" cy="343.1" r="1.2" fill="#2e7d1f"/>
<circle cx="433.3" cy="346.2" r="1.2" fill="#2e7d1f"/>
<circle cx="437.2" cy="350" r="1.2" fill="#2e7d1f"/>
<circle cx="441" cy="354.4" r="1.2" fill="#2e7d1f"/>
<circle cx="444.9" cy="359.4" r="1.2" fill="#2e7d1f"/>
<circle cx="448.8" cy="364.3" r="1.2" fill="#2e7d1f"/>
<circle cx="452.6" cy="358.3" r="1.2" fill="#2e7d1f"/>
<circle cx="456.5" cy="319.2" r="1.2" fill="#2e7d1f"/>
<circle cx="460.3" cy="307.9" r="1.2" fill="#2e7d1f"/>
<circle cx="464.2" cy="317.7" r="1.2" fill="#2e7d1f"/>
<circle cx="468" cy="325.5" r="1.2" fill="#2e7d1f"/>
<circle cx="471.9" cy="331.1" r="1.2" fill="#2e7d1f"/>
<circle cx="475.7" cy="335.1" r="1.2" fill="#2e7d1f"/>
<circle cx="479.6" cy="338.3" r="1.2" fill="#2e7d1f"/>
<circle cx="483.5" cy="340.5" r="1.2" fill="#2e7d1f"/>
<path d="M356.2 364.7 L356.3 364.7 L356.3 364.7 L356.4 364.7 L356.5 364.7 L356.5 364.7 L356.6 364.7 L356.7 364.7 L356.7 364.7 L356.8 364.7 L356.9 364.7 L356.9 364.7 L357 364.7 L357.1 364.7 L357.1 364.7 L357.2 364.7 L357.3 364.7 L357.3 364.7 L357.4 364.7 L357.4 364.7 L357.5 364.7 L357.6 364.7 L357.6 364.7 L357.7 364.7 L357.8 364.7 L357.8 364.7 L357.9 364.7 L358 364.7 L358 364.7 L358.1 364.7 L358.2 364.7 L358.2 364.6 L358.3 364.6 L358.4 364.6 L358.4 364.6 L358.5 364.6 L358.6 364.6 L358.6 364.6 L358.7 364.6 L358.8 364.6 L358.8 364.6 L358.9 364.6 L359 364.6 L359 364.6 L359.1 364.6 L359.2 364.6 L359.2 364.6 L359.3 364.6 L359.4 364.6 L359.4 364.6 L359.5 364.6 L359.6 364.6 L359.6 364.6 L359.7 364.6 L359.7 364.5 L359.8 364.5 L359.9 364.5 L359.9 364.5 L360 364.5 L360.1 364.5 L360.1 364.5 L360.2 364.5 L360.3 364.5 L360.3 364.5 L360.4 364.5 L360.5 364.5 L360.5 364.5 L360.6 364.5 L360.7 364.5 L360.7 364.5 L360.8 364.4 L360.9 364.4 L360.9 364.4 L361 364.4 L361.1 364.4 L361.1 364.4 L361.2 364.4 L361.3 364.4 L361.3 364.4 L361.4 364.4 L361.5 364.4 L361.5 364.4 L361.6 364.4 L361.7 364.3 L361.7 364.3 L361.8 364.3 L361.9 364.3 L361.9 364.3 L362 364.3 L362.1 364.3 L362.1 364.3 L362.2 364.3 L362.2 364.3 L362.3 364.3 L362.4 364.2 L362.4 364.2 L362.5 364.2 L362.6 364.2 L362.6 364.2 L362.7 364.2 L362.8 364.2 L362.8 364.2 L362.9 364.2 L363 364.2 L363 364.1 L363.1 364.1 L363.2 364.1 L363.2 364.1 L363.3 364.1 L363.4 364.1 L363.4 364.1 L363.5 364.1 L363.6 364.1 L363.6 364 L363.7 364 L363.8 364 L363.8 364 L363.9 364 L364 364 L364 364 L364.1 364 L364.2 364 L364.2 363.9 L364.3 363.9 L364.4 363.9 L364.4 363.9 L364.5 363.9 L364.5 363.9 L364.6 363.9 L364.7 363.9 L364.7 363.8 L364.8 363.8 L364.9 363.8 L364.9 363.8 L365 363.8 L365.1 363.8 L365.1 363.8 L365.2 363.7 L365.3 363.7 L365.3 363.7 L365.4 363.7 L365.5 363.7 L365.5 363.7 L365.6 363.7 L365.7 363.7 L365.7 363.6 L365.8 363.6 L365.9 363.6 L365.9 363.6 L366 363.6 L366.1 363.6 L366.1 363.6 L366.2 363.5 L366.3 363.5 L366.3 363.5 L366.4 363.5 L366.5 363.5 L366.5 363.5 L366.6 363.4 L366.7 363.4 L366.7 363.4 L366.8 363.4 L366.8 363.4 L366.9 363.4 L367 363.3 L367 363.3 L367.1 363.3 L367.2 363.3 L367.2 363.3 L367.3 363.2 L367.4 363.2 L367.4 363.2 L367.5 363.1 L367.6 363.1 L367.6 363.1 L367.7 363 L367.8 363 L367.8 363 L367.9 362.9 L368 362.9 L368 362.8 L368.1 362.8 L368.2 362.8 L368.2 362.7 L368.3 362.7 L368.4 362.6 L368.4 362.6 L368.5 362.5 L368.6 362.5 L368.6 362.4 L368.7 362.4 L368.8 362.3 L368.8 362.3 L368.9 362.2 L369 362.2 L369 362.1 L369.1 362.1 L369.1 362 L369.2 361.9 L369.3 361.9 L369.3 361.8 L369.4 361.8 L369.5 361.7 L369.5 361.6 L369.6 361.5 L369.7 361.5 L369.7 361.4 L369.8 361.3 L369.9 361.2 L369.9 361.1 L370 361.1 L370.1 361 L370.1 360.9 L370.2 360.8 L370.3 360.6 L370.3 360.5 L370.4 360.4 L370.5 360.3 L370.5 360.2 L370.6 360 L370.7 359.9 L370.7 359.8 L370.8 359.6 L370.9 359.5 L370.9 359.3 L371 359.2 L371.1 359 L371.1 358.8 L371.2 358.7 L371.3 358.5 L371.3 358.3 L371.4 358.1 L371.5 357.9 L371.5 357.6 L371.6 357.3 L371.6 357 L371.7 356.7 L371.8 356.4 L371.8 356 L371.9 355.6 L372 355.2 L372 354.8 L372.1 354.3 L372.2 353.8 L372.2 353.3 L372.3 352.8 L372.4 352.3 L372.4 351.7 L372.5 351 L372.6 350.3 L372.6 349.5 L372.7 348.6 L372.8 347.6 L372.8 346.6 L372.9 345.5 L373 344.4 L373 343.2 L373.1 342 L373.2 340.8 L373.2 339.3 L373.3 337.7 L373.4 335.9 L373.4 334.1 L373.5 332.3 L373.6 330.5 L373.6 328.8 L373.7 327.2 L373.8 325.8 L373.8 324.4 L373.9 322.9 L373.9 321.5 L374 320.2 L374.1 318.9 L374.1 317.7 L374.2 316.5 L374.3 315.5 L374.3 314.6 L374.4 313.8 L374.5 313.1 L374.5 312.5 L374.6 311.8 L374.7 311.2 L374.7 310.7 L374.8 310.1 L374.9 309.6 L374.9 309.2 L375 308.7 L375.1 308.3 L375.1 307.8 L375.2 307.4 L375.3 307 L375.3 306.6 L375.4 306.2 L375.5 305.9 L375.5 305.5 L375.6 305.1 L375.7 304.7 L375.7 304.4 L375.8 304.1 L375.9 303.8 L375.9 303.4 L376 303.2 L376.1 302.9 L376.1 302.6 L376.2 301.3 L376.2 301.4 L376.3 301.6 L376.4 302 L376.4 302.4 L376.5 302.9 L376.6 303.5 L376.6 304.2 L376.7 304.9 L376.8 305.7 L376.8 306.5 L376.9 307.4 L377 308.3 L377 309.2 L377.1 310 L377.2 310.9 L377.2 311.8 L377.3 312.6 L377.4 313.4 L377.4 314.2 L377.5 314.9 L377.6 315.5 L377.6 316.1 L377.7 316.6 L377.8 316.9 L377.8 317.3 L377.9 317.5 L378 317.6 L378 317.7 L378.1 317.6 L378.2 317.5 L378.2 317.2 L378.3 316.9 L378.4 316.5 L378.4 316.1 L378.5 315.5 L378.5 314.9 L378.6 314.3 L378.7 313.5 L378.7 312.8 L378.8 312 L378.9 311.2 L378.9 310.3 L379 309.5 L379.1 308.7 L379.1 307.8 L379.2 307 L379.3 306.3 L379.3 305.5 L379.4 304.8 L379.5 304.1 L379.5 303.5 L379.6 303 L379.7 302.5 L379.7 302.1 L379.8 301.8 L379.9 301.5 L379.9 301.4 L380 301.3 L380.1 301.2 L380.1 301.3 L380.2 301.4 L380.3 301.6 L380.3 301.9 L380.4 302.3 L380.5 302.7 L380.5 303.1 L380.6 303.7 L380.7 304.2 L380.7 304.8 L380.8 305.5 L380.9 306.1 L380.9 306.8 L381 307.5 L381 308.2 L381.1 308.8 L381.2 309.5 L381.2 310.1 L381.3 310.8 L381.4 311.4 L381.4 311.9 L381.5 312.4 L381.6 312.9 L381.6 313.3 L381.7 313.6 L381.8 313.9 L381.8 314.1 L381.9 314.2 L382 314.3 L382 314.3 L382.1 314.2 L382.2 314.1 L382.2 313.9 L382.3 313.6 L382.4 313.3 L382.4 312.9 L382.5 312.5 L382.6 312 L382.6 311.5 L382.7 310.9 L382.8 310.3 L382.8 309.7 L382.9 309.1 L383 308.4 L383 307.8 L383.1 307.1 L383.2 306.4 L383.2 305.8 L383.3 305.2 L383.3 304.6 L383.4 304 L383.5 303.5 L383.5 303.1 L383.6 302.6 L383.7 302.2 L383.7 301.9 L383.8 301.7 L383.9 301.5 L383.9 301.3 L384 301.3 L384.1 301.2 L384.1 301.3 L384.2 301.4 L384.3 301.6 L384.3 301.8 L384.4 302.1 L384.5 302.5 L384.5 302.9 L384.6 303.3 L384.7 303.8 L384.7 304.4 L384.8 304.9 L384.9 305.5 L384.9 306.1 L385 306.7 L385.1 307.3 L385.1 307.9 L385.2 308.6 L385.3 309.2 L385.3 309.7 L385.4 310.3 L385.5 310.8 L385.5 311.3 L385.6 311.8 L385.6 312.2 L385.7 312.5 L385.8 312.8 L385.8 313.1 L385.9 313.2 L386 313.4 L386 313.4 L386.1 313.4 L386.2 313.4 L386.2 313.3 L386.3 313.1 L386.4 312.9 L386.4 312.6 L386.5 312.2 L386.6 311.8 L386.6 311.4 L386.7 310.9 L386.8 310.4 L386.8 309.9 L386.9 309.3 L387 308.7 L387 308.1 L387.1 307.5 L387.2 306.9 L387.2 306.3 L387.3 305.7 L387.4 305.1 L387.4 304.6 L387.5 304 L387.6 303.5 L387.6 303.1 L387.7 302.7 L387.8 302.3 L387.8 302 L387.9 301.7 L387.9 301.5 L388 301.4 L388.1 301.3 L388.1 301.2 L388.2 301.3 L388.3 301.4 L388.3 301.5 L388.4 301.7 L388.5 302 L388.5 302.3 L388.6 302.6 L388.7 303 L388.7 303.5 L388.8 304 L388.9 304.5 L388.9 305 L389 305.6 L389.1 306.2 L389.1 306.7 L389.2 307.3 L389.3 307.9 L389.3 308.5 L389.4 309.1 L389.5 309.6 L389.5 310.1 L389.6 310.6 L389.7 311.1 L389.7 311.5 L389.8 311.9 L389.9 312.2 L389.9 312.5 L390 312.7 L390.1 312.9 L390.1 313 L390.2 313.1 L390.3 313.1 L390.3 313.1 L390.4 313 L390.4 312.8 L390.5 312.6 L390.6 312.3 L390.6 312 L390.7 311.6 L390.8 311.2 L390.8 310.8 L390.9 310.3 L391 309.8 L391 309.2 L391.1 308.7 L391.2 308.1 L391.2 307.6 L391.3 307 L391.4 306.4 L391.4 305.8 L391.5 305.3 L391.6 304.7 L391.6 304.2 L391.7 303.8 L391.8 303.3 L391.8 302.9 L391.9 302.5 L392 302.2 L392 301.9 L392.1 301.7 L392.2 301.5 L392.2 301.3 L392.3 301.3 L392.4 301.2 L392.4 301.3 L392.5 301.3 L392.6 301.5 L392.6 301.7 L392.7 301.9 L392.7 302.2 L392.8 302.5 L392.9 302.8 L392.9 303.2 L393 303.6 L393.1 304.1 L393.1 304.5 L393.2 305 L393.3 305.5 L393.3 306 L393.4 306.5 L393.5 307.1 L393.5 307.6 L393.6 308 L393.7 308.5 L393.7 309 L393.8 309.4 L393.9 309.8 L393.9 310.2 L394 310.5 L394.1 310.8 L394.1 311 L394.2 311.2 L394.3 311.4 L394.3 311.5 L394.4 311.6 L394.5 311.6 L394.5 311.6 L394.6 311.5 L394.7 311.4 L394.7 311.2 L394.8 311 L394.9 310.7 L394.9 310.4 L395 310.1 L395 309.7 L395.1 309.4 L395.2 308.9 L395.2 308.5 L395.3 308 L395.4 307.6 L395.4 307.1 L395.5 306.6 L395.6 306.1 L395.6 305.7 L395.7 305.2 L395.8 304.7 L395.8 304.3 L395.9 303.8 L396 303.4 L396 303.1 L396.1 302.7 L396.2 302.4 L396.2 302.1 L396.3 301.9 L396.4 301.7 L396.4 301.5 L396.5 301.4 L396.6 301.3 L396.6 301.2 L396.7 301.2 L396.8 301.3 L396.8 301.4 L396.9 301.5 L397 301.6 L397 301.8 L397.1 302 L397.2 302.3 L397.2 302.6 L397.3 302.9 L397.3 303.2 L397.4 303.5 L397.5 303.9 L397.5 304.2 L397.6 304.6 L397.7 305 L397.7 305.4 L397.8 305.8 L397.9 306.1 L397.9 306.5 L398 306.8 L398.1 307.2 L398.1 307.5 L398.2 307.8 L398.3 308.1 L398.3 308.3 L398.4 308.5 L398.5 308.7 L398.5 308.9 L398.6 309 L398.7 309.1 L398.7 309.1 L398.8 309.1 L398.9 309.1 L398.9 309.1 L399 309 L399.1 308.9 L399.1 308.7 L399.2 308.5 L399.3 308.3 L399.3 308.1 L399.4 307.9 L399.5 307.6 L399.5 307.3 L399.6 307 L399.7 306.6 L399.7 306.3 L399.8 306 L399.8 305.6 L399.9 305.2 L400 304.9 L400 304.5 L400.1 304.2 L400.2 303.9 L400.2 303.5 L400.3 303.2 L400.4 302.9 L400.4 302.6 L400.5 302.4 L400.6 302.1 L400.6 301.9 L400.7 301.8 L400.8 301.6 L400.8 301.5 L400.9 301.4 L401 301.3 L401 301.3 L401.1 301.2 L401.2 301.3 L401.2 301.3 L401.3 301.4 L401.4 301.5 L401.4 301.6 L401.5 301.8 L401.6 301.9 L401.6 302.1 L401.7 302.4 L401.8 302.6 L401.8 302.9 L401.9 303.1 L402 303.4 L402 303.7 L402.1 304 L402.1 304.3 L402.2 304.6 L402.3 304.9 L402.3 305.2 L402.4 305.5 L402.5 305.7 L402.5 306 L402.6 306.3 L402.7 306.5 L402.7 306.7 L402.8 306.9 L402.9 307.1 L402.9 307.3 L403 307.4 L403.1 307.6 L403.1 307.7 L403.2 307.7 L403.3 307.8 L403.3 307.8 L403.4 307.8 L403.5 307.7 L403.5 307.7 L403.6 307.6 L403.7 307.5 L403.7 307.3 L403.8 307.2 L403.9 307 L403.9 306.8 L404 306.6 L404.1 306.3 L404.1 306.1 L404.2 305.8 L404.3 305.5 L404.3 305.3 L404.4 305 L404.4 304.7 L404.5 304.4 L404.6 304.1 L404.6 303.8 L404.7 303.5 L404.8 303.2 L404.8 303 L404.9 302.7 L405 302.5 L405 302.3 L405.1 302.1 L405.2 301.9 L405.2 301.7 L405.3 301.6 L405.4 301.5 L405.4 301.4 L405.5 301.3 L405.6 301.3 L405.6 301.2 L405.7 301.3 L405.8 301.3 L405.8 301.4 L405.9 301.5 L406 301.6 L406 301.7 L406.1 301.9 L406.2 302.1 L406.2 302.3 L406.3 302.5 L406.4 302.8 L406.4 303.1 L406.5 303.4 L406.6 303.7 L406.6 304 L406.7 304.3 L406.7 304.6 L406.8 304.9 L406.9 305.3 L406.9 305.6 L407 305.9 L407.1 306.2 L407.1 306.5 L407.2 306.8 L407.3 307.1 L407.3 307.3 L407.4 307.6 L407.5 307.8 L407.5 308 L407.6 308.2 L407.7 308.3 L407.7 308.5 L407.8 308.6 L407.9 308.6 L407.9 308.7 L408 308.7 L408.1 308.7 L408.1 308.6 L408.2 308.6 L408.3 308.5 L408.3 308.3 L408.4 308.2 L408.5 308 L408.5 307.8 L408.6 307.6 L408.7 307.3 L408.7 307.1 L408.8 306.8 L408.9 306.5 L408.9 306.2 L409 305.8 L409 305.5 L409.1 305.2 L409.2 304.8 L409.2 304.5 L409.3 304.2 L409.4 303.9 L409.4 303.5 L409.5 303.2 L409.6 302.9 L409.6 302.7 L409.7 302.4 L409.8 302.2 L409.8 302 L409.9 301.8 L410 301.6 L410 301.5 L410.1 301.4 L410.2 301.3 L410.2 301.3 L410.3 301.2 L410.4 301.3 L410.4 301.3 L410.5 301.4 L410.6 301.5 L410.6 301.7 L410.7 301.8 L410.8 302 L410.8 302.3 L410.9 302.5 L411 302.8 L411 303.1 L411.1 303.4 L411.2 303.8 L411.2 304.1 L411.3 304.5 L411.4 304.9 L411.4 305.3 L411.5 305.7 L411.5 306 L411.6 306.4 L411.7 306.8 L411.7 307.2 L411.8 307.6 L411.9 307.9 L411.9 308.2 L412 308.6 L412.1 308.9 L412.1 309.1 L412.2 309.4 L412.3 309.6 L412.3 309.8 L412.4 309.9 L412.5 310.1 L412.5 310.2 L412.6 310.2 L412.7 310.3 L412.7 310.3 L412.8 310.2 L412.9 310.2 L412.9 310.1 L413 309.9 L413.1 309.7 L413.1 309.5 L413.2 309.3 L413.3 309.1 L413.3 308.8 L413.4 308.5 L413.5 308.2 L413.5 307.8 L413.6 307.5 L413.7 307.1 L413.7 306.7 L413.8 306.3 L413.8 305.9 L413.9 305.6 L414 305.2 L414 304.8 L414.1 304.4 L414.2 304 L414.2 303.7 L414.3 303.3 L414.4 303 L414.4 302.7 L414.5 302.4 L414.6 302.2 L414.6 302 L414.7 301.8 L414.8 301.6 L414.8 301.5 L414.9 301.4 L415 301.3 L415 301.2 L415.1 301.2 L415.2 301.3 L415.2 301.3 L415.3 301.4 L415.4 301.5 L415.4 301.7 L415.5 301.9 L415.6 302.1 L415.6 302.3 L415.7 302.6 L415.8 302.9 L415.8 303.2 L415.9 303.5 L416 303.9 L416 304.2 L416.1 304.6 L416.1 304.9 L416.2 305.3 L416.3 305.7 L416.3 306.1 L416.4 306.4 L416.5 306.8 L416.5 307.2 L416.6 307.5 L416.7 307.8 L416.7 308.1 L416.8 308.4 L416.9 308.7 L416.9 309 L417 309.2 L417.1 309.4 L417.1 309.6 L417.2 309.7 L417.3 309.8 L417.3 309.9 L417.4 309.9 L417.5 310 L417.5 310 L417.6 309.9 L417.7 309.8 L417.7 309.7 L417.8 309.6 L417.9 309.4 L417.9 309.3 L418 309 L418.1 308.8 L418.1 308.5 L418.2 308.3 L418.3 308 L418.3 307.7 L418.4 307.3 L418.4 307 L418.5 306.7 L418.6 306.3 L418.6 305.9 L418.7 305.6 L418.8 305.2 L418.8 304.9 L418.9 304.5 L419 304.2 L419 303.8 L419.1 303.5 L419.2 303.2 L419.2 302.9 L419.3 302.7 L419.4 302.4 L419.4 302.2 L419.5 302 L419.6 301.8 L419.6 301.6 L419.7 301.5 L419.8 301.4 L419.8 301.3 L419.9 301.3 L420 301.2 L420 301.2 L420.1 301.3 L420.2 301.3 L420.2 301.4 L420.3 301.5 L420.4 301.6 L420.4 301.8 L420.5 302 L420.6 302.1 L420.6 302.3 L420.7 302.6 L420.8 302.8 L420.8 303.1 L420.9 303.3 L420.9 303.6 L421 303.9 L421.1 304.1 L421.1 304.4 L421.2 304.7 L421.3 305 L421.3 305.3 L421.4 305.5 L421.5 305.8 L421.5 306.1 L421.6 306.3 L421.7 306.5 L421.7 306.8 L421.8 307 L421.9 307.2 L421.9 307.3 L422 307.5 L422.1 307.6 L422.1 307.7 L422.2 307.8 L422.3 307.9 L422.3 307.9 L422.4 307.9 L422.5 307.9 L422.5 307.9 L422.6 307.9 L422.7 307.8 L422.7 307.7 L422.8 307.6 L422.9 307.5 L422.9 307.3 L423 307.2 L423.1 307 L423.1 306.8 L423.2 306.6 L423.2 306.4 L423.3 306.1 L423.4 305.9 L423.4 305.6 L423.5 305.4 L423.6 305.1 L423.6 304.9 L423.7 304.6 L423.8 304.3 L423.8 304.1 L423.9 303.8 L424 303.6 L424 303.3 L424.1 303.1 L424.2 302.9 L424.2 302.6 L424.3 302.4 L424.4 302.2 L424.4 302.1 L424.5 301.9 L424.6 301.8 L424.6 301.6 L424.7 301.5 L424.8 301.4 L424.8 301.3 L424.9 301.3 L425 301.3 L425 301.2 L425.1 301.2 L425.2 301.3 L425.2 301.3 L425.3 301.4 L425.4 301.4 L425.4 301.5 L425.5 301.7 L425.5 301.8 L425.6 301.9 L425.7 302.1 L425.7 302.3 L425.8 302.4 L425.9 302.6 L425.9 302.8 L426 303.1 L426.1 303.3 L426.1 303.5 L426.2 303.7 L426.3 304 L426.3 304.2 L426.4 304.4 L426.5 304.7 L426.5 304.9 L426.6 305.1 L426.7 305.3 L426.7 305.5 L426.8 305.7 L426.9 305.9 L426.9 306.1 L427 306.3 L427.1 306.4 L427.1 306.6 L427.2 306.7 L427.3 306.8 L427.3 306.9 L427.4 307 L427.5 307.1 L427.5 307.1 L427.6 307.1 L427.7 307.2 L427.7 307.1 L427.8 307.1 L427.8 307.1 L427.9 307 L428 306.9 L428 306.8 L428.1 306.7 L428.2 306.6 L428.2 306.4 L428.3 306.3 L428.4 306.1 L428.4 305.9 L428.5 305.7 L428.6 305.5 L428.6 305.3 L428.7 305.1 L428.8 304.9 L428.8 304.6 L428.9 304.4 L429 304.2 L429 303.9 L429.1 303.7 L429.2 303.5 L429.2 303.3 L429.3 303 L429.4 302.8 L429.4 302.6 L429.5 302.4 L429.6 302.2 L429.6 302.1 L429.7 301.9 L429.8 301.8 L429.8 301.6 L429.9 301.5 L430 301.4 L430 301.4 L430.1 301.3 L430.2 301.3 L430.2 301.2 L430.3 301.2 L430.3 301.3 L430.4 301.3 L430.5 301.4 L430.5 301.5 L430.6 301.6 L430.7 301.7 L430.7 301.8 L430.8 302 L430.9 302.2 L430.9 302.4 L431 302.6 L431.1 302.8 L431.1 303 L431.2 303.3 L431.3 303.6 L431.3 303.8 L431.4 304.1 L431.5 304.4 L431.5 304.7 L431.6 305 L431.7 305.3 L431.7 305.5 L431.8 305.8 L431.9 306.1 L431.9 306.4 L432 306.7 L432.1 306.9 L432.1 307.2 L432.2 307.4 L432.3 307.7 L432.3 307.9 L432.4 308.1 L432.5 308.2 L432.5 308.4 L432.6 308.5 L432.6 308.7 L432.7 308.8 L432.8 308.8 L432.8 308.9 L432.9 308.9 L433 308.9 L433 308.9 L433.1 308.9 L433.2 308.8 L433.2 308.7 L433.3 308.6 L433.4 308.5 L433.4 308.4 L433.5 308.2 L433.6 308 L433.6 307.8 L433.7 307.6 L433.8 307.3 L433.8 307.1 L433.9 306.8 L434 306.5 L434 306.3 L434.1 306 L434.2 305.7 L434.2 305.4 L434.3 305.1 L434.4 304.8 L434.4 304.5 L434.5 304.2 L434.6 303.9 L434.6 303.6 L434.7 303.3 L434.8 303 L434.8 302.8 L434.9 302.5 L434.9 302.3 L435 302.1 L435.1 301.9 L435.1 301.8 L435.2 301.6 L435.3 301.5 L435.3 301.4 L435.4 301.3 L435.5 301.3 L435.5 301.2 L435.6 301.2 L435.7 301.3 L435.7 301.3 L435.8 301.4 L435.9 301.5 L435.9 301.6 L436 301.8 L436.1 301.9 L436.1 302.1 L436.2 302.3 L436.3 302.6 L436.3 302.8 L436.4 303.1 L436.5 303.4 L436.5 303.6 L436.6 304 L436.7 304.3 L436.7 304.6 L436.8 304.9 L436.9 305.3 L436.9 305.6 L437 306 L437.1 306.3 L437.1 306.6 L437.2 307 L437.2 307.3 L437.3 307.6 L437.4 307.9 L437.4 308.2 L437.5 308.5 L437.6 308.7 L437.6 309 L437.7 309.2 L437.8 309.4 L437.8 309.6 L437.9 309.8 L438 309.9 L438 310 L438.1 310.1 L438.2 310.2 L438.2 310.2 L438.3 310.2 L438.4 310.2 L438.4 310.2 L438.5 310.1 L438.6 310 L438.6 309.9 L438.7 309.8 L438.8 309.6 L438.8 309.4 L438.9 309.2 L439 309 L439 308.8 L439.1 308.5 L439.2 308.2 L439.2 307.9 L439.3 307.6 L439.4 307.3 L439.4 307 L439.5 306.7 L439.6 306.4 L439.6 306 L439.7 305.7 L439.7 305.4 L439.8 305 L439.9 304.7 L439.9 304.4 L440 304.1 L440.1 303.7 L440.1 303.5 L440.2 303.2 L440.3 302.9 L440.3 302.7 L440.4 302.4 L440.5 302.2 L440.5 302 L440.6 301.8 L440.7 301.7 L440.7 301.6 L440.8 301.4 L440.9 301.4 L440.9 301.3 L441 301.3 L441.1 301.2 L441.1 301.2 L441.2 301.3 L441.3 301.3 L441.3 301.4 L441.4 301.5 L441.5 301.6 L441.5 301.8 L441.6 301.9 L441.7 302.1 L441.7 302.3 L441.8 302.5 L441.9 302.7 L441.9 303 L442 303.2 L442 303.5 L442.1 303.7 L442.2 304 L442.2 304.3 L442.3 304.5 L442.4 304.8 L442.4 305.1 L442.5 305.4 L442.6 305.7 L442.6 305.9 L442.7 306.2 L442.8 306.5 L442.8 306.7 L442.9 307 L443 307.2 L443 307.4 L443.1 307.6 L443.2 307.8 L443.2 308 L443.3 308.1 L443.4 308.3 L443.4 308.4 L443.5 308.5 L443.6 308.6 L443.6 308.6 L443.7 308.7 L443.8 308.7 L443.8 308.7 L443.9 308.7 L444 308.6 L444 308.6 L444.1 308.5 L444.2 308.4 L444.2 308.3 L444.3 308.1 L444.3 308 L444.4 307.8 L444.5 307.6 L444.5 307.5 L444.6 307.2 L444.7 307 L444.7 306.8 L444.8 306.6 L444.9 306.3 L444.9 306.1 L445 305.8 L445.1 305.6 L445.1 305.3 L445.2 305 L445.3 304.8 L445.3 304.5 L445.4 304.3 L445.5 304 L445.5 303.8 L445.6 303.5 L445.7 303.3 L445.7 303.1 L445.8 302.8 L445.9 302.6 L445.9 302.4 L446 302.3 L446.1 302.1 L446.1 301.9 L446.2 301.8 L446.3 301.7 L446.3 301.6 L446.4 301.5 L446.5 301.4 L446.5 301.3 L446.6 301.3 L446.6 301.3 L446.7 301.2 L446.8 301.2 L446.8 301.3 L446.9 301.3 L447 301.4 L447 301.4 L447.1 301.5 L447.2 301.6 L447.2 301.7 L447.3 301.8 L447.4 302 L447.4 302.1 L447.5 302.3 L447.6 302.4 L447.6 302.6 L447.7 302.8 L447.8 303 L447.8 303.2 L447.9 303.4 L448 303.6 L448 303.8 L448.1 304 L448.2 304.2 L448.2 304.4 L448.3 304.6 L448.4 304.8 L448.4 305 L448.5 305.2 L448.6 305.4 L448.6 305.5 L448.7 305.7 L448.8 305.9 L448.8 306 L448.9 306.2 L449 306.3 L449 306.5 L449.1 306.6 L449.1 306.7 L449.2 306.8 L449.3 306.8 L449.3 306.9 L449.4 307 L449.5 307 L449.5 307 L449.6 307 L449.7 307 L449.7 307 L449.8 307 L449.9 306.9 L449.9 306.9 L450 306.8 L450.1 306.7 L450.1 306.6 L450.2 306.5 L450.3 306.4 L450.3 306.2 L450.4 306.1 L450.5 305.9 L450.5 305.8 L450.6 305.6 L450.7 305.4 L450.7 305.2 L450.8 305.1 L450.9 304.9 L450.9 304.7 L451 304.5 L451.1 304.3 L451.1 304.1 L451.2 303.9 L451.3 303.7 L451.3 303.5 L451.4 303.3 L451.4 303.1 L451.5 302.9 L451.6 302.7 L451.6 302.5 L451.7 302.4 L451.8 302.2 L451.8 302.1 L451.9 301.9 L452 301.8 L452 301.7 L452.1 301.6 L452.2 301.5 L452.2 301.4 L452.3 301.4 L452.4 301.3 L452.4 301.3 L452.5 301.2 L452.6 301.2 L452.6 301.3 L452.7 301.3 L452.8 301.3 L452.8 301.4 L452.9 301.4 L453 301.5 L453 301.6 L453.1 301.7 L453.2 301.9 L453.2 302 L453.3 302.2 L453.4 302.3 L453.4 302.5 L453.5 302.7 L453.6 302.9 L453.6 303.1 L453.7 303.3 L453.7 303.5 L453.8 303.8 L453.9 304 L453.9 304.2 L454 304.5 L454.1 304.7 L454.1 305 L454.2 305.2 L454.3 305.5 L454.3 305.7 L454.4 306 L454.5 306.2 L454.5 306.4 L454.6 306.6 L454.7 306.9 L454.7 307.1 L454.8 307.3 L454.9 307.4 L454.9 307.6 L455 307.8 L455.1 307.9 L455.1 308.1 L455.2 308.2 L455.3 308.3 L455.3 308.4 L455.4 308.5 L455.5 308.5 L455.5 308.6 L455.6 308.6 L455.7 308.6 L455.7 308.6 L455.8 308.5 L455.9 308.5 L455.9 308.4 L456 308.3 L456 308.2 L456.1 308.1 L456.2 308 L456.2 307.9 L456.3 307.7 L456.4 307.5 L456.4 307.3 L456.5 307.1 L456.6 306.9 L456.6 306.7 L456.7 306.5 L456.8 306.2 L456.8 306 L456.9 305.7 L457 305.5 L457 305.2 L457.1 305 L457.2 304.7 L457.2 304.4 L457.3 304.2 L457.4 303.9 L457.4 303.7 L457.5 303.4 L457.6 303.2 L457.6 303 L457.7 302.8 L457.8 302.6 L457.8 302.4 L457.9 302.2 L458 302 L458 301.9 L458.1 301.7 L458.2 301.6 L458.2 301.5 L458.3 301.4 L458.4 301.3 L458.4 301.3 L458.5 301.3 L458.5 301.2 L458.6 301.2 L458.7 301.3 L458.7 301.3 L458.8 301.4 L458.9 301.5 L458.9 301.6 L459 301.7 L459.1 301.8 L459.1 302 L459.2 302.2 L459.3 302.4 L459.3 302.6 L459.4 302.8 L459.5 303 L459.5 303.3 L459.6 303.5 L459.7 303.8 L459.7 304.1 L459.8 304.4 L459.9 304.7 L459.9 305 L460 305.3 L460.1 305.6 L460.1 305.9 L460.2 306.2 L460.3 306.5 L460.3 306.8 L460.4 307.1 L460.5 307.3 L460.5 307.6 L460.6 307.9 L460.7 308.2 L460.7 308.4 L460.8 308.6 L460.8 308.9 L460.9 309.1 L461 309.3 L461 309.5 L461.1 309.6 L461.2 309.8 L461.2 309.9 L461.3 310 L461.4 310.1 L461.4 310.1 L461.5 310.2 L461.6 310.2 L461.6 310.2 L461.7 310.2 L461.8 310.2 L461.8 310.1 L461.9 310 L462 309.9 L462 309.8 L462.1 309.7 L462.2 309.5 L462.2 309.4 L462.3 309.2 L462.4 309 L462.4 308.8 L462.5 308.5 L462.6 308.3 L462.6 308.1 L462.7 307.8 L462.8 307.5 L462.8 307.2 L462.9 307 L463 306.7 L463 306.4 L463.1 306.1 L463.1 305.8 L463.2 305.5 L463.3 305.2 L463.3 304.9 L463.4 304.6 L463.5 304.3 L463.5 304 L463.6 303.8 L463.7 303.5 L463.7 303.2 L463.8 303 L463.9 302.8 L463.9 302.6 L464 302.4 L464.1 302.2 L464.1 302 L464.2 301.9 L464.3 301.7 L464.3 301.6 L464.4 301.5 L464.5 301.4 L464.5 301.3 L464.6 301.3 L464.7 301.3 L464.7 301.2 L464.8 301.2 L464.9 301.3 L464.9 301.3 L465 301.4 L465.1 301.4 L465.1 301.5 L465.2 301.6 L465.3 301.8 L465.3 301.9 L465.4 302.1 L465.4 302.2 L465.5 302.4 L465.6 302.6 L465.6 302.8 L465.7 303 L465.8 303.2 L465.8 303.4 L465.9 303.7 L466 303.9 L466 304.1 L466.1 304.4 L466.2 304.6 L466.2 304.9 L466.3 305.1 L466.4 305.4 L466.4 305.6 L466.5 305.8 L466.6 306.1 L466.6 306.3 L466.7 306.5 L466.8 306.7 L466.8 306.9 L466.9 307.1 L467 307.3 L467 307.4 L467.1 307.6 L467.2 307.7 L467.2 307.9 L467.3 308 L467.4 308.1 L467.4 308.2 L467.5 308.3 L467.6 308.3 L467.6 308.4 L467.7 308.4 L467.8 308.4 L467.8 308.4 L467.9 308.4 L467.9 308.4 L468 308.3 L468.1 308.3 L468.1 308.2 L468.2 308.1 L468.3 308 L468.3 307.9 L468.4 307.8 L468.5 307.6 L468.5 307.5 L468.6 307.3 L468.7 307.1 L468.7 307 L468.8 306.8 L468.9 306.6 L468.9 306.4 L469 306.2 L469.1 306 L469.1 305.7 L469.2 305.5 L469.3 305.3 L469.3 305.1 L469.4 304.9 L469.5 304.6 L469.5 304.4 L469.6 304.2 L469.7 304 L469.7 303.8 L469.8 303.6 L469.9 303.4 L469.9 303.2 L470 303 L470.1 302.8 L470.1 302.6 L470.2 302.4 L470.2 302.3 L470.3 302.1 L470.4 302 L470.4 301.9 L470.5 301.8 L470.6 301.7 L470.6 301.6 L470.7 301.5 L470.8 301.4 L470.8 301.3 L470.9 301.3 L471 301.3 L471 301.2 L471.1 301.2 L471.2 301.2 L471.2 301.3 L471.3 301.3 L471.4 301.3 L471.4 301.4 L471.5 301.4 L471.6 301.5 L471.6 301.6 L471.7 301.7 L471.8 301.8 L471.8 301.9 L471.9 302 L472 302.2 L472 302.3 L472.1 302.4 L472.2 302.6 L472.2 302.8 L472.3 302.9 L472.4 303.1 L472.4 303.3 L472.5 303.4 L472.5 303.6 L472.6 303.8 L472.7 304 L472.7 304.1 L472.8 304.3 L472.9 304.5 L472.9 304.7 L473 304.9 L473.1 305 L473.1 305.2 L473.2 305.4 L473.3 305.5 L473.3 305.7 L473.4 305.8 L473.5 306 L473.5 306.1 L473.6 306.3 L473.7 306.4 L473.7 306.5 L473.8 306.6 L473.9 306.7 L473.9 306.8 L474 306.9 L474.1 306.9 L474.1 307 L474.2 307 L474.3 307.1 L474.3 307.1 L474.4 307.1 L474.5 307.1 L474.5 307.1 L474.6 307.1 L474.7 307 L474.7 307 L474.8 306.9 L474.8 306.9 L474.9 306.8 L475 306.7 L475 306.6 L475.1 306.5 L475.2 306.4 L475.2 306.3 L475.3 306.1 L475.4 306 L475.4 305.9 L475.5 305.7 L475.6 305.6 L475.6 305.4 L475.7 305.2 L475.8 305.1 L475.8 304.9 L475.9 304.7 L476 304.5 L476 304.3 L476.1 304.1 L476.2 304 L476.2 303.8 L476.3 303.6 L476.4 303.4 L476.4 303.2 L476.5 303.1 L476.6 302.9 L476.6 302.7 L476.7 302.6 L476.8 302.4 L476.8 302.3 L476.9 302.1 L477 302 L477 301.9 L477.1 301.8 L477.2 301.7 L477.2 301.6 L477.3 301.5 L477.3 301.4 L477.4 301.4 L477.5 301.3 L477.5 301.3 L477.6 301.3 L477.7 301.2 L477.7 301.2 L477.8 301.3 L477.9 301.3 L477.9 301.3 L478 301.4 L478.1 301.5 L478.1 301.5 L478.2 301.6 L478.3 301.7 L478.3 301.9 L478.4 302 L478.5 302.1 L478.5 302.3 L478.6 302.5 L478.7 302.6 L478.7 302.8 L478.8 303 L478.9 303.2 L478.9 303.6 L479 304.2 L479.1 304.9 L479.1 305.5 L479.2 306.2 L479.3 306.8 L479.3 307.5 L479.4 308.1 L479.5 308.8 L479.5 309.5 L479.6 310.1 L479.6 310.8 L479.7 311.4 L479.8 312.1 L479.8 312.7 L479.9 313.4 L480 314 L480 314.7 L480.1 315.3 L480.2 316 L480.2 316.6 L480.3 317.3 L480.4 318 L480.4 318.6 L480.5 319.3 L480.6 319.9 L480.6 320.6 L480.7 321.2 L480.8 321.9 L480.8 322.5 L480.9 323.2 L481 323.8 L481 324.5 L481.1 325.1 L481.2 325.8 L481.2 326.5 L481.3 327.1 L481.4 327.8 L481.4 328.4 L481.5 329.1 L481.6 329.7 L481.6 330.4 L481.7 331 L481.8 331.7 L481.8 332.3 L481.9 333 L481.9 333.6 L482 334.3 L482.1 335 L482.1 335.6 L482.2 336.3 L482.3 336.9 L482.3 337.6 L482.4 338.2 L482.5 338.9 L482.5 339.5 L482.6 340.2 L482.7 340.8 L482.7 341.5 L482.8 342.1 L482.9 342.8 L482.9 343.5 L483 344.1 L483.1 344.8 L483.1 345.4 L483.2 345.5 L483.3 345.5 L483.3 345.5 L483.4 345.5 L483.5 345.5 L483.5 345.4 L483.6 345.2 L483.7 345 L483.7 344.8 L483.8 344.6 L483.9 344.4 L483.9 344.3 L484 344.1 L484.1 343.9 L484.1 343.7 L484.2 343.5 L484.2 343.3 L484.3 343.1 L484.4 342.9 L484.4 342.7 L484.5 342.5 L484.6 342.3" fill="none" stroke="#f08c22" stroke-width="1.2"/>
<rect x="356.2" y="300.6" width="128.4" height="64.1" fill="none" stroke="#333" stroke-width="0.8"/>
<line x1="356.2" y1="364.7" x2="356.2" y2="362.5" stroke="#333" stroke-width="0.7"/>
<line x1="367.2" y1="364.7" x2="367.2" y2="363.4" stroke="#333" stroke-width="0.7"/>
<line x1="378.1" y1="364.7" x2="378.1" y2="362.5" stroke="#333" stroke-width="0.7"/>
<line x1="389.1" y1="364.7" x2="389.1" y2="363.4" stroke="#333" stroke-width="0.7"/>
<line x1="400" y1="364.7" x2="400" y2="362.5" stroke="#333" stroke-width="0.7"/>
<line x1="411" y1="364.7" x2="411" y2="363.4" stroke="#333" stroke-width="0.7"/>
<line x1="421.9" y1="364.7" x2="421.9" y2="362.5" stroke="#333" stroke-width="0.7"/>
<line x1="432.9" y1="364.7" x2="432.9" y2="363.4" stroke="#333" stroke-width="0.7"/>
<line x1="443.8" y1="364.7" x2="443.8" y2="362.5" stroke="#333" stroke-width="0.7"/>
<line x1="454.8" y1="364.7" x2="454.8" y2="363.4" stroke="#333" stroke-width="0.7"/>
<line x1="465.8" y1="364.7" x2="465.8" y2="362.5" stroke="#333" stroke-width="0.7"/>
<line x1="476.7" y1="364.7" x2="476.7" y2="363.4" stroke="#333" stroke-width="0.7"/>
<line x1="356.2" y1="364.7" x2="358.4" y2="364.7" stroke="#333" stroke-width="0.7"/>
<line x1="356.2" y1="348.7" x2="357.5" y2="348.7" stroke="#333" stroke-width="0.7"/>
<line x1="356.2" y1="332.6" x2="358.4" y2="332.6" stroke="#333" stroke-width="0.7"/>
<line x1="356.2" y1="316.6" x2="357.5" y2="316.6" stroke="#333" stroke-width="0.7"/>
<line x1="356.2" y1="300.6" x2="358.4" y2="300.6" stroke="#333" stroke-width="0.7"/>
<text x="351.6" y="367.9" font-size="9.0" text-anchor="end" fill="#222" font-weight="normal" font-style="normal" font-family="'Liberation Serif', serif"  stroke="#222" stroke-width="0.2">0.0</text>
<text x="351.6" y="335.8" font-size="9.0" text-anchor="end" fill="#222" font-weight="normal" font-style="normal" font-family="'Liberation Serif', serif"  stroke="#222" stroke-width="0.2">0.5</text>
<text x="351.6" y="303.8" font-size="9.0" text-anchor="end" fill="#222" font-weight="normal" font-style="normal" font-family="'Liberation Serif', serif"  stroke="#222" stroke-width="0.2">1.0</text>
<text x="356.2" y="377.9" font-size="9.0" text-anchor="middle" fill="#222" font-weight="normal" font-style="normal" font-family="'Liberation Serif', serif"  stroke="#222" stroke-width="0.2">0</text>
<text x="378.1" y="377.9" font-size="9.0" text-anchor="middle" fill="#222" font-weight="normal" font-style="normal" font-family="'Liberation Serif', serif"  stroke="#222" stroke-width="0.2">500</text>
<text x="400" y="377.9" font-size="9.0" text-anchor="middle" fill="#222" font-weight="normal" font-style="normal" font-family="'Liberation Serif', serif"  stroke="#222" stroke-width="0.2">1000</text>
<text x="421.9" y="377.9" font-size="9.0" text-anchor="middle" fill="#222" font-weight="normal" font-style="normal" font-family="'Liberation Serif', serif"  stroke="#222" stroke-width="0.2">1500</text>
<text x="443.8" y="377.9" font-size="9.0" text-anchor="middle" fill="#222" font-weight="normal" font-style="normal" font-family="'Liberation Serif', serif"  stroke="#222" stroke-width="0.2">2000</text>
<text x="465.8" y="377.9" font-size="9.0" text-anchor="middle" fill="#222" font-weight="normal" font-style="normal" font-family="'Liberation Serif', serif"  stroke="#222" stroke-width="0.2">2500</text>
<text x="422.1" y="389.1" font-size="9.6" text-anchor="middle" fill="#222" font-weight="normal" font-style="normal" font-family="'Liberation Serif', serif"  stroke="#222" stroke-width="0.2">Frequency/Hz</text>
<text x="0" y="0" font-size="9.3" text-anchor="middle" fill="#222" font-weight="normal" font-style="normal" font-family="'Liberation Serif', serif" transform="translate(334.2 331) rotate(-90)" stroke="#222" stroke-width="0.2">Absorption</text>
<line x1="377.7" y1="345" x2="394.6" y2="345" stroke="#2e7d1f" stroke-width="1.1"/>
<circle cx="386" cy="345" r="1.3" fill="#2e7d1f"/>
<text x="395.4" y="347.5" font-size="7.1" text-anchor="start" fill="#333" font-weight="normal" font-style="normal" font-family="'Liberation Serif', serif"  stroke="#333" stroke-width="0.2">MPP</text>
<line x1="377.7" y1="353.2" x2="394.6" y2="353.2" stroke="#f08c22" stroke-width="1.4"/>
<text x="395.4" y="355.9" font-size="7.1" text-anchor="start" fill="#333" font-weight="normal" font-style="normal" font-family="'Liberation Serif', serif"  stroke="#333" stroke-width="0.2">Metamaterial</text>
</svg></body></html>
